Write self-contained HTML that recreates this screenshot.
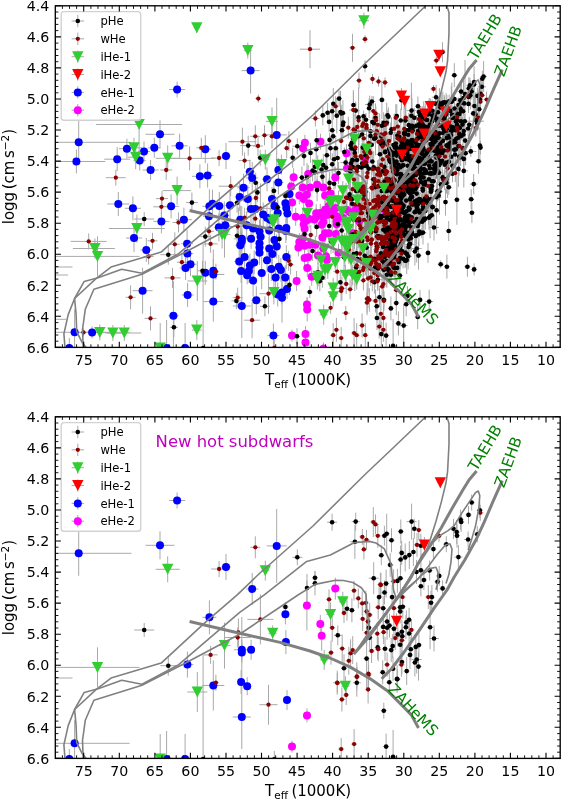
<!DOCTYPE html>
<html><head><meta charset="utf-8"><title>Teff-logg diagram</title>
<style>html,body{margin:0;padding:0;background:#fff;width:561px;height:799px;overflow:hidden}svg{display:block}</style></head>
<body>
<svg width="561" height="799" viewBox="0 0 561 799" font-family="'DejaVu Sans', 'Liberation Sans', sans-serif">
<defs><clipPath id="c0"><rect x="55.3" y="5.8" width="504.90000000000003" height="341.59999999999997"/></clipPath><clipPath id="c1"><rect x="55.3" y="416.8" width="504.90000000000003" height="341.59999999999997"/></clipPath></defs>
<rect width="561" height="799" fill="#fff"/>
<g clip-path="url(#c0)">
<path d="M462.8 140.6H467.6M465.2 133.7V147.5M408.2 188.8H414.3M411.2 182.3V195.3M399.5 207.7H403.9M401.7 196.1V219.4M413.2 221.2H421.5M417.3 205.9V236.4M388.1 214.1H395.7M391.9 206.5V221.8M427.1 111.8H431.2M429.2 98V125.7M436.4 133.4H442.8M439.6 128.2V138.6M408.8 146.6H414.3M411.5 142.2V150.9M466.7 88.3H471M468.8 77.2V99.4M409.3 126.4H414.7M412 112.9V140M418 178.3H422.9M420.5 167.1V189.5M433.5 138.3H438M435.8 129.4V147.2M418.4 124.3H426.8M422.6 106.3V142.3M396.6 224.2H400.6M398.6 211.8V236.5M445.5 101.4H452.9M449.2 94.7V108.1M392.8 241.7H398M395.4 222.1V261.2M414.7 159.8H419.1M416.9 145V174.6M451.2 142.2H459.1M455.2 130V154.4M394.5 197.9H408.3M401.4 182.1V213.8M399.1 243.6H403.1M401.1 232.1V255.2M400 156.5H406.3M403.1 150.8V162.2M389.1 200.5H394.3M391.7 195.4V205.6M386.4 238.5H393.5M390 221.7V255.4M426.7 165.6H431.4M429.1 157.5V173.7M401.2 226.7H409M405.1 220.4V233.1M387.4 255.8H391.4M389.4 240.3V271.3M402.3 158.1H413.1M407.7 150.1V166.1M419.7 133.6H424.9M422.3 128.2V139M417.5 170.1H422.7M420.1 158.6V181.6M465.1 151.4H476.5M470.8 145.8V156.9M428.7 173.1H433.2M430.9 161.8V184.4M390.9 199.9H397.5M394.2 187.2V212.7M402.6 220.8H411.2M406.9 209.5V232.1M432.3 103.7H438.4M435.4 94V113.4M378.8 253.4H383M380.9 247.8V259M390.4 264.7H396.2M393.3 258.1V271.2M401.4 138.6H406.7M404.1 130.2V146.9M441.8 122.9H454.9M448.4 101.7V144.2M403.3 219.1H409.2M406.3 213.6V224.6M421.9 210.1H427.9M424.9 200.5V219.6M434.1 112.3H441.6M437.9 103.6V121M396.3 149.6H401.4M398.8 140.9V158.3M387.1 245.3H391.8M389.5 234.8V255.9M391.3 165.2H395.9M393.6 151V179.4M461 98H466M463.5 80.4V115.6M433.9 118.5H439.1M436.5 106.6V130.5M401.8 176H406.5M404.2 169.6V182.4M431.9 97.2H440.2M436.1 84.9V109.5M414.6 148.1H418.6M416.6 144.1V152.1M430.2 115.6H434.2M432.2 107.3V123.8M380.4 263.8H388.3M384.4 239.3V288.2M410.1 197H414.1M412.1 188.8V205.2M389.8 212.7H396.4M393.1 198.1V227.2M405.8 187.4H411.8M408.8 167.5V207.3M459.5 170.9H468M463.8 154.2V187.6M454.7 128.5H459M456.8 116.9V140.1M392.5 210.7H397.8M395.2 199.4V221.9M410.8 158.8H416.3M413.5 146.3V171.2M415.1 160.1H428.5M421.8 155.8V164.5M403.4 150.9H408.5M406 141V160.8M394.6 239H399.3M397 234.6V243.5M394.3 227.2H399.7M397 218V236.5M431.9 173.1H436.2M434.1 167.4V178.8M409.7 177H415.8M412.7 150.6V203.3M404.1 256.2H412.1M408.1 242.9V269.5M469.5 121.2H484M476.8 115.9V126.5M422.5 200.5H429.9M426.2 194.2V206.9M421.3 163.7H427.9M424.6 152.7V174.7M438.5 104.8H444.8M441.7 92.8V116.8M405.6 125.1H411.9M408.8 112.9V137.4M422.3 156H426.3M424.3 145.8V166.1M405.2 233.9H412.8M409 219.9V248M422.2 119.2H428.5M425.3 103.3V135.2M409.7 126.7H417.7M413.7 112.9V140.6M427.9 168.2H431.9M429.9 159.5V176.9M477.6 145.5H482.3M479.9 127.4V163.6M425.7 204.2H431.2M428.5 183.6V224.7M407.2 161.8H414.5M410.9 152.1V171.4M442.6 113.9H450M446.3 109.5V118.3M417.2 199H421.2M419.2 192.1V205.8M436.8 184.4H445.1M441 178.1V190.8M386 252.2H391M388.5 242V262.4M420.4 140.6H427.9M424.2 135.4V145.8M403.8 151.2H407.8M405.8 143.7V158.8M397.6 186.6H408.2M402.9 174.4V198.8M396.7 136.9H402.2M399.4 125.2V148.6M416.9 233H426.5M421.7 228.2V237.9M391.5 185.7H395.5M393.5 178.7V192.8M446.8 147.9H452.2M449.5 143.5V152.3M387.9 154.1H392.8M390.3 144.4V163.8M414.1 184.6H419.3M416.7 177.2V192.1M460.6 158.9H467M463.8 147.1V170.6M461.1 94.1H468.9M465 60V128.2M406.7 182.2H412.7M409.7 172.5V191.9M447.4 173.8H457.6M452.5 165.3V182.3M395.8 262H401.8M398.8 246.3V277.7M415.6 145.1H421.1M418.4 130.8V159.4M390.8 237H396.1M393.4 230.1V243.8M407.9 196.2H414.9M411.4 184.1V208.3M399.8 183.7H403.8M401.8 166.1V201.3M475 161.3H482M478.5 148.8V173.7M406.9 225.6H411.1M409 215.8V235.5M431.7 151H438.5M435.1 144.3V157.6M384.4 190.6H390.8M387.6 184.5V196.7M434.1 146.8H440.4M437.2 138V155.5M392.1 185.9H396.1M394.1 170.8V201.1M403.2 230.1H407.2M405.2 222.3V237.9M392.3 155.6H401M396.6 144.9V166.4M415.6 231.5H423.1M419.3 226V236.9M399.7 258.7H406.6M403.1 249.2V268.3M415.2 119.4H425.2M420.2 107.2V131.5M442.4 126.6H449.3M445.8 120.6V132.6M436.3 163.1H441.2M438.7 156.1V170M397.1 245.9H403.8M400.4 236.1V255.6M447.2 126.6H454.3M450.7 112.3V141M443.4 106.9H450.3M446.9 95V118.7M422 130.9H429.3M425.7 118.9V142.9M412.5 235.3H420.3M416.4 226.4V244.1M395.9 151.7H400.3M398.1 144.8V158.6M428.5 181.3H435.3M431.9 170V192.6M404.6 215.7H413M408.8 210.4V221M420.1 221.8H424.1M422.1 207.9V235.6M425.1 120H429.1M427.1 112.9V127.2M411.5 201.4H418.1M414.8 189.3V213.5M416.6 200.9H426.4M421.5 193.7V208M410.5 183H419.9M415.2 171.3V194.7M432 169.6H437.2M434.6 164V175.2M395.3 249.9H403.7M399.5 244.2V255.7M397.9 165.5H406.9M402.4 148.8V182.2M391.5 226.5H397.9M394.7 215.1V237.9M432.7 166.7H438.7M435.7 159.7V173.8M434.3 191.2H440.7M437.5 180.9V201.5M399.3 209.5H403.6M401.4 201.1V217.9M443.2 162.6H449.3M446.2 145.9V179.4M455.3 105H461.7M458.5 97.7V112.2M394.4 135.6H400.4M397.4 129.6V141.6M393.1 189.2H401.2M397.2 175.6V202.8M396 216.7H401.7M398.8 168.2V265.3M392.6 163.2H397.4M395 150.8V175.6M434.7 138.2H443.1M438.9 127.7V148.8M422.4 182.9H427.2M424.8 170.8V195M387.6 244.9H393.6M390.6 235.3V254.4M396 215.1H402.1M399 210.5V219.7M433.6 155.7H438.1M435.8 150.7V160.7M421.2 149.8H426.2M423.7 143.1V156.6M397.7 205.9H404.2M401 187.1V224.6M470.8 84.4H477.4M474.1 66V102.8M388.9 218.5H398.5M393.7 212.2V224.8M398.3 225.3H407.2M402.7 195.7V254.8M387.6 199.9H397.9M392.7 193.2V206.6M388.2 184.7H396.4M392.3 177V192.4M412.2 181.2H418.9M415.5 176.6V185.9M436.5 195.6H440.9M438.7 191V200.2M412.2 164.8H416.3M414.2 155.4V174.2M411.5 184.6H419.2M415.3 179.5V189.7M421.2 141.3H427.8M424.5 118.1V164.4M394.5 172.8H398.5M396.5 163.3V182.2M407.4 222H413.5M410.4 214V230M387.6 255.8H392.7M390.2 241.6V270M447.5 135H454.6M451 127.1V142.9M448.6 156.8H453.8M451.2 146.5V167.2M413.7 172.4H419.4M416.6 165.3V179.5M397.9 184.4H405M401.4 177.1V191.6M435.4 121.1H439.7M437.5 98.8V143.3M410.9 221.9H417.7M414.3 215.4V228.4M449 101.4H454.6M451.8 82.7V120.2M386.7 263.3H393.6M390.1 253.6V273.1M385.3 243H389.9M387.6 233.6V252.4M376.6 154.3H383.4M380 147.2V161.3M435.4 125.4H442.6M439 116.8V134M435 135.6H439.2M437.1 125.8V145.3M466.1 124.8H472.4M469.3 116.8V132.8M381.6 222.6H386.2M383.9 217.3V227.8M379.6 254.8H388.5M384.1 243.3V266.3M431.3 197.3H441.6M436.4 182.2V212.4M431.5 141.4H436.5M434 130.4V152.5M430.5 168.7H437.5M434 153.4V183.9M408.4 181.1H417.9M413.2 167.5V194.7M418.2 163.8H425.1M421.7 158.8V168.9M390.3 186.4H397.6M393.9 165.3V207.4M420.1 203.1H424.3M422.2 198.5V207.7M408.7 158.5H417.4M413.1 152.5V164.5M395.4 248.5H399.4M397.4 237V260M478.5 147.6H482.5M480.5 140.7V154.5M394.5 211.1H398.5M396.5 199.5V222.8M441.5 179.7H445.6M443.5 173.6V185.8M422.2 173H427.4M424.8 164.7V181.2M425 151.5H430.5M427.7 142.8V160.2M435.2 158.2H440.2M437.7 145.7V170.7M443.5 202.1H447.6M445.5 188.5V215.6M394.8 215.2H399M396.9 205.9V224.5M399 178H404.6M401.8 172.2V183.8M395.2 235.6H401M398.1 222.5V248.8M422.4 172H428M425.2 166.2V177.9M392.1 220.2H401M396.6 211.2V229.2M436.8 161.9H442M439.4 146.9V176.9M396.7 149.3H402.5M399.6 133.7V165M408.7 163.4H416.1M412.4 138.7V188.1M477.9 93.9H483.3M480.6 79.9V107.9M391.2 143.6H400.3M395.8 133.5V153.8M390.7 244.7H397.9M394.3 223.9V265.4M420.9 184.6H429.7M425.3 178.8V190.4M391.7 163.5H398.1M394.9 142.5V184.5M452.8 138.7H459.5M456.2 130.6V146.9M400.8 191.6H405.8M403.3 185.3V197.8M426.1 217.8H431.8M429 206.1V229.6M443.5 129.2H448.7M446.1 124.5V133.9M425.8 133.8H429.8M427.8 129.6V137.9M445.7 149.2H454.4M450 139.3V159.2M406.5 180.4H412.6M409.6 170.8V190M412.2 189.3H418.3M415.3 178.5V200.2M391.1 215.1H399.2M395.1 197.2V232.9M398.3 157.5H403.2M400.8 147.8V167.2M426.6 144H434.5M430.6 122.6V165.4M385.1 263.7H390.9M388 247.3V280.1M441.7 150.5H446.6M444.1 135.4V165.6M401.9 194.6H406.4M404.2 181.4V207.8M423.6 113.9H433.2M428.4 100.3V127.5M397.5 182.2H401.5M399.5 164.5V200M390.8 152.8H397.5M394.1 142.3V163.4M386.3 149.1H391.7M389 144V154.2M400 188.5H406.2M403.1 167.8V209.2M437.5 149.6H445M441.2 144V155.3M396.1 249.3H401.2M398.7 242.6V255.9M398.1 151.4H403.4M400.8 136.8V165.9M398.5 185.5H407.4M402.9 177.6V193.4M388.5 155.4H396.1M392.3 147.3V163.6M383.2 231.8H387.8M385.5 226.1V237.4M426.9 179.2H430.9M428.9 164.4V194.1M447.2 131.3H454.8M451 119.5V143.1M386.1 242.8H393M389.5 236V249.6M408.4 204.3H416.9M412.6 199.5V209.1M415 159.7H423.5M419.2 149.9V169.5M434.5 166.8H438.5M436.5 156.6V177M438.8 115.5H447M442.9 107.9V123M408.9 144.5H414.5M411.7 133.4V155.5M419.9 117.2H427.2M423.5 111.3V123M453.7 149.4H458M455.8 126.3V172.6M416.8 172.9H422.4M419.6 158.6V187.2M408.1 165.9H415.3M411.7 155.1V176.8M453.9 121.5H457.9M455.9 106V137M451 108.5H458.1M454.6 98.5V118.6M457.8 91.6H464.4M461.1 82.2V101M444.9 144.7H452.6M448.7 134.4V155M422.3 154.7H433.4M427.9 148.2V161.1M410.4 164.7H417.6M414 157.5V171.9M437.8 143.4H442.4M440.1 135.4V151.4M381.2 269.6H385.8M383.5 263.2V276M415.4 124.6H422.3M418.9 111.8V137.4M447.6 135.6H451.6M449.6 128V143.2M418.8 134.6H426.4M422.6 121.1V148.1M430.2 207.3H434.9M432.6 199.9V214.7M406.1 178.1H411.1M408.6 169.5V186.8M408.6 203.8H414.6M411.6 196.9V210.7M463.8 96.9H473.5M468.7 89V104.7M385.9 250H391.4M388.6 229.5V270.6M476.9 109.2H481.4M479.2 96.5V121.8M387.2 248.9H399.4M393.3 241V256.8M433.8 121.2H441.3M437.5 113.3V129.1M403.8 143.9H408.6M406.2 132.1V155.8M440.2 102.9H445.3M442.8 91.6V114.2M458.1 157.2H463.3M460.7 148.4V166M390.7 201.3H396.9M393.8 189.1V213.5M456.4 121.2H465.7M461 116.4V126.1M397.8 203.4H405M401.4 186.2V220.5M459.4 102.4H463.4M461.4 80V124.8M416.6 145.4H423.9M420.2 141.4V149.4M457.9 135.8H464.9M461.4 131.4V140.2M409.8 130.4H415.7M412.7 116.7V144.1M452.9 127H459.9M456.4 114.5V139.4M461.5 121.3H468.1M464.8 114.1V128.6M383.3 179.2H394.2M388.7 172V186.4M384.4 202.2H391.9M388.1 196.2V208.2M467.3 95.3H473.4M470.3 81V109.5M384 228.3H389M386.5 207.9V248.7M431.2 150.1H435.4M433.3 138.7V161.5M394.4 229.1H401.5M398 223.4V234.9M390.6 242H394.6M392.6 235.8V248.2M424.3 197.9H429.6M427 190.9V204.9M378.5 247H387.8M383.1 224.4V269.7M429.5 133H434.8M432.1 112.5V153.5M400.9 235.3H408.5M404.7 220.5V250.1M396.7 186.2H401.9M399.3 177.5V195M386 236.3H394.8M390.4 232.3V240.3M404.7 191.6H411.4M408.1 183.1V200M413.8 159.8H417.8M415.8 146.3V173.3M442.7 164.7H446.9M444.8 154.7V174.7M409.3 233.9H415.4M412.4 222.6V245.2M420 188.5H425.5M422.7 178.7V198.2M432.4 125.5H441.9M437.1 107.9V143.1M460.4 124.6H464.6M462.5 116.8V132.5M404 200.6H408.4M406.2 192.3V208.8M433.1 164.4H438.7M435.9 155.2V173.5M380.8 215H389.5M385.1 205.7V224.3M443.1 182.9H450M446.5 172.2V193.6M417.4 115.3H422.5M420 105.6V125.1M414.1 152.3H418.1M416.1 148V156.6M441.9 102.5H450.3M446.1 93.1V111.9M419.5 153.2H423.5M421.5 143.9V162.4M423.3 127H429.9M426.6 119V135M409.2 192H417.3M413.2 183.9V200.2M399.9 189.9H404M402 183.7V196.2M389.9 171.7H396.9M393.4 163.4V179.9M421.8 218.5H428.5M425.1 214.5V222.5M433.6 163.3H439.5M436.5 150.8V175.9M422.4 211H428.2M425.3 192.4V229.7M412 145H421.1M416.5 131.6V158.4M403.3 253.9H410.4M406.8 245.3V262.4M394.1 187.6H400.8M397.4 176.8V198.5M386.7 182.5H393.7M390.2 159.2V205.9M419.9 147.5H426.1M423 137.4V157.5M375.8 219.4H383.6M379.7 209.2V229.6M429.4 215.2H434.3M431.8 203.7V226.7M402.1 220.7H409.6M405.9 214.8V226.6M406.5 188.3H414M410.3 182.8V193.7M439.8 151.5H444.1M442 147.4V155.5M428.8 161.5H434.6M431.7 140.1V183M439.1 140.5H445.6M442.4 133.5V147.5M456.9 114H462M459.4 104.6V123.4M422.1 172.8H430.3M426.2 159.8V185.8M433.1 142.1H438.9M436 120.4V163.8M402.2 217.9H411.7M407 195.7V240.1M442.9 114.2H447.7M445.3 104.1V124.2M398.6 205.1H404.7M401.6 197.5V212.8M397.2 174.1H404.2M400.7 170.1V178.1M421.9 198.6H427.9M424.9 191.6V205.7M416.3 167.4H424.2M420.3 158.1V176.7M385.2 228.1H389.2M387.2 219V237.2M412.4 150H418.9M415.7 134.9V165.1M400.5 193H405.6M403 189V197M418.2 127.7H422.2M420.2 121.9V133.4M455.3 120.2H459.3M457.3 114.7V125.8M430.6 115.8H436.7M433.6 110.9V120.7M445.3 146.3H449.3M447.3 135.9V156.7M414.6 138.5H420.3M417.5 134.5V142.5M448.8 165.8H456M452.4 156.1V175.5M401.4 213.3H407.6M404.5 203.6V222.9M397.9 211.7H404.8M401.4 203.4V220M414.2 205.7H419.2M416.7 192V219.3M382.2 248.2H391.6M386.9 234.4V261.9M387.1 220.1H394.4M390.8 205.1V235.1M460.8 131.1H466.9M463.8 122.4V139.8M437.1 143.7H443.2M440.1 139.4V148M392.8 147.8H397.4M395.1 143.8V151.8M409.8 182.7H419.6M414.7 174V191.3M384.7 268.6H390.3M387.5 263V274.2M453.6 114.1H461.8M457.7 103.7V124.5M408.3 231.8H415.1M411.7 220.2V243.4M390.1 250.9H396.9M393.5 242.3V259.5M433.7 157.4H439M436.3 141.1V173.6M455.2 113.8H459.2M457.2 100.8V126.9M384.1 206.9H390.9M387.5 193.1V220.7M412 148.8H420.9M416.4 139.4V158.1M439.7 152.9H445M442.3 144.7V161M392.1 180.3H396.8M394.5 168.4V192.2M403.3 260.6H408.4M405.9 253.8V267.4M398 178.9H405.6M401.8 166.3V191.6M406 177.2H412M409 171.8V182.7M411.7 174.9H420.3M416 167.8V182M426.5 199.4H434.2M430.3 181.5V217.3M417.4 159.1H427M422.2 145V173.2M389.2 247.6H394.1M391.6 236.9V258.3M407.1 146.1H412.3M409.7 136.8V155.3M387.5 161.1H392.5M390 143.2V178.9M407 126.7H413.3M410.2 109.8V143.6M399.9 205.6H407.3M403.6 168.2V243M435.4 102.5H441.9M438.7 97V108M403.2 159.3H409.1M406.1 146.7V171.8M415.7 137.7H421.9M418.8 128.8V146.5M413.2 200.8H422M417.6 196.1V205.6M387.3 228.8H392.8M390 211.9V245.7M408.4 140.1H415.4M411.9 134.3V145.9M402.1 252.6H408.3M405.2 245.4V259.8M419.2 173.5H424.8M422 165.2V181.9M391 257.2H397M394 243.6V270.9M406.1 239.4H410.5M408.3 213.7V265M412.3 187.3H420.5M416.4 173.8V200.7M400.5 230.4H405M402.7 203.2V257.5M391.1 153.6H397.5M394.3 147.3V159.9M401.7 134.2H407.3M404.5 119.7V148.8M456.1 127.1H460.3M458.2 110.8V143.3M413.2 204.4H422.4M417.8 179.7V229.1M396.9 275.5H402.8M399.9 263.3V287.6M436.1 151.3H442.6M439.4 132.4V170.2M398.4 146.2H403.4M400.9 135.5V156.8M409.8 147.5H417.4M413.6 142.8V152.3M393.3 204.4H399.1M396.2 197V211.8M408.6 217.2H414.9M411.7 210.9V223.5M390.1 221.1H397.5M393.8 202.8V239.3M387.6 274.7H394.3M390.9 264.8V284.6M380 229.8H386.7M383.3 219.1V240.5M406.9 217.7H410.9M408.9 211V224.4M457.8 127.9H462M459.9 119.5V136.3M391.1 161.9H395.9M393.5 150.8V173.1M456.4 133.9H462.3M459.3 122.9V144.9M438.9 125.7H442.9M440.9 119.6V131.9M456.5 100.3H464.2M460.4 83.8V116.9M412 157.4H422.6M417.3 146.5V168.3M391.4 267.5H395.8M393.6 258.6V276.4M400.6 133.7H409.5M405 122.9V144.6M402.1 133H406.1M404.1 106.3V159.7M392.8 174.3H401.2M397 164.1V184.5M406.1 134.7H410.2M408.2 128.7V140.7M470.2 106H478.7M474.4 95.7V116.2M398.2 206.8H403.7M401 198.4V215.2M386.9 159.5H391.8M389.3 150.8V168.1M450.8 127.3H454.8M452.8 117.7V136.9M419.8 206.7H426.6M423.2 199.4V214M412.4 193.6H420.9M416.7 182.7V204.6M456.8 156.8H461.4M459.1 137.9V175.7M425.9 128.1H430.7M428.3 121.1V135M447.6 137.5H451.6M449.6 126.9V148.1M396.2 152.1H401.2M398.7 145.4V158.8M445.7 187.2H451.9M448.8 179.6V194.8M442 130.7H446.6M444.3 112.4V148.9M406.8 160H411.4M409.1 145.9V174.1M422.5 132.9H426.5M424.5 125V140.8M413.7 200.4H420.3M417 182.7V218.2M385.6 227.5H391.3M388.5 215.6V239.5M447.7 101.8H454.8M451.3 86.3V117.4M421.6 135.8H426.9M424.2 116.5V155.1M398.3 151.1H404.4M401.4 135.3V166.8M413.4 211.7H418M415.7 195.1V228.3M427.1 186.3H434.8M430.9 164.7V208M384.7 262.3H390.1M387.4 242.5V282.1M429.3 134.2H436.4M432.8 116.6V151.8M419.9 218.6H425.2M422.6 209V228.2M412.7 185.7H417.2M415 179.7V191.8M428.4 119H437.3M432.8 105.3V132.6M395.6 164.7H401.5M398.5 159.6V169.8M399.7 146.7H407.5M403.6 141.9V151.4M386.2 261.9H394.4M390.3 251.1V272.7M405.5 130H412.1M408.8 117.3V142.6M435.2 103.8H443.7M439.4 88.1V119.4M394.6 189.8H401.4M398 185.8V193.8M460.6 111.2H465.7M463.1 99.3V123M439.7 118.5H446.9M443.3 114.1V122.8M379.8 209.1H386.4M383.1 202.8V215.5M449.1 141H458.1M453.6 116.9V165.2M432.7 115H436.7M434.7 110.4V119.6M424.5 201.3H428.5M426.5 191.3V211.3M438.7 133H447.7M443.2 111.2V154.9M394.1 202.4H398.1M396.1 189.5V215.4M428 173.7H435.1M431.6 165.5V181.8M386.1 269.9H391.2M388.7 265.9V273.9M437.4 154.1H441.4M439.4 134.7V173.4M440.7 117.6H445.5M443.1 107.5V127.7M416.7 134.1H420.7M418.7 124.1V144M420.3 128.6H427.9M424.1 111V146.3M394.2 250.5H401.3M397.7 241.4V259.5M421.4 113.2H425.9M423.7 101.3V125.1M386.7 151H393.8M390.2 140.6V161.3M417.3 122.5H423.9M420.6 116.4V128.7M396.4 178.4H404.6M400.5 165.5V191.3M398.5 188.7H407.3M402.9 175V202.4M407.2 208.6H411.7M409.5 200.7V216.5M420.5 183.9H426.4M423.5 177V190.9M419.2 153.5H425.5M422.4 145.9V161.1M433.5 132H437.5M435.5 126.3V137.8M393.6 236.5H401.5M397.6 230.6V242.5M390.6 166.3H395.3M393 160.6V171.9M397.7 194.9H403.1M400.4 190.1V199.7M392.1 254.8H396.9M394.5 243.8V265.8M390.5 226.1H396.2M393.4 203.3V249M450.5 99H458.2M454.4 92.2V105.9M480.1 76.5H487M483.6 61.1V91.9M379 209.3H385.3M382.1 195.2V223.5M416.3 148.1H422M419.1 143.4V152.8M442.9 137.9H450.8M446.8 129.3V146.5M413.8 207.5H420.1M417 200.1V215M408.3 168.7H416.1M412.2 156V181.4M401.3 235.6H407.6M404.5 227.1V244.2M411.4 169.7H419.9M415.7 159.7V179.6M390.2 217.5H397.1M393.7 211.5V223.5M400.3 207.1H406M403.2 191.9V222.2M404.6 175.1H411M407.8 161.4V188.9M405.5 150.4H409.5M407.5 137V163.9M412.9 223.4H424M418.4 213.6V233.2M388 251.6H394.9M391.4 235.1V268.1M405.5 176H411M408.2 164V187.9M448.1 142.6H453.4M450.7 131.4V153.8M387.9 184.6H395.2M391.6 177.8V191.5M405.2 142H414M409.6 130V153.9M449.6 128.9H454.3M451.9 121.1V136.7M420.7 163.2H426.9M423.8 151.2V175.1M397 208.2H404M400.5 198.9V217.4M399.5 160.2H404.6M402 155.9V164.4M428.8 188.7H433.1M430.9 171.4V206.1M421.5 202.4H426.5M424 189V215.8M379.6 240.5H385.3M382.4 230V251M423.2 133.6H427.2M425.2 122.6V144.6M441 116.4H448.5M444.7 110.7V122.1M418.9 190.6H426.8M422.8 178.7V202.5M470.3 113.4H476.4M473.3 93.4V133.4M397.9 248.9H401.9M399.9 235.2V262.6M434.6 210.3H438.6M436.6 186.6V233.9M392.5 234.5H396.5M394.5 226.6V242.3M416.2 157.7H422.9M419.6 142.2V173.3M395.5 149H403.6M399.6 135V163.1M447 143.7H451.6M449.3 130.9V156.6M388.6 206.8H393.1M390.9 196.6V216.9M422.4 131.4H429M425.7 120.8V141.9M471 114.4H480.3M475.6 92.1V136.7M425.3 134.3H429.9M427.6 121.6V147M391.6 227.6H397M394.3 213.9V241.4M396.6 186.7H404.9M400.7 169.5V203.9M410.3 202.5H417.3M413.8 189.7V215.3M411.4 171.8H419.6M415.5 165.1V178.5M406 199.4H414M410 167.3V231.6M404 244.5H414.4M409.2 227.2V261.9M433.7 152.7H441M437.3 140.9V164.5M435.4 164.7H440.7M438 143.2V186.2M384.2 215.8H390.9M387.5 203.1V228.5M431.4 181.2H435.7M433.5 170.6V191.8M421.3 126H426.4M423.9 119.3V132.6M402.5 220H406.9M404.7 211.3V228.6M419.1 182H423.1M421.1 175.6V188.4M398.8 176.7H405.5M402.2 172.6V180.9M389 206.5H397.1M393 195.1V218M415.1 130.9H421.6M418.3 120.6V141.1M434.2 137.6H438.2M436.2 123.4V151.7M400.4 157H405.2M402.8 150.8V163.3M463 153.3H468.2M465.6 141.3V165.2M402.4 184H413.8M408.1 176.8V191.2M385 230.6H392.5M388.7 217.7V243.5M433.7 134.7H442.3M438 120.4V148.9M409.2 178.2H414.4M411.8 170.9V185.5M389.7 167.2H396.4M393 162.2V172.2M436.2 161.1H442.9M439.6 153.4V168.8M406.1 209.8H412.2M409.1 201.6V218.1M406.1 247H411.1M408.6 240.2V253.9M387.9 160.4H391.9M389.9 151.2V169.7M422.5 170.3H429M425.7 161.3V179.3M398.9 147.9H403.7M401.3 142.5V153.4M442.5 109.5H446.5M444.5 96.5V122.5M412.4 210.4H420.6M416.5 191V229.8M402.4 217.6H407.6M405 199.5V235.7M401.8 178.9H409.3M405.6 172.9V184.8M473 120.1H478.7M475.8 112.2V127.9M450.1 142.5H456M453.1 133.9V151.2M398.2 182.7H402.2M400.2 178.7V186.7M405.9 233H410.5M408.2 218.5V247.5M425.4 114.5H429.9M427.6 104.6V124.4M401.9 226.7H410.1M406 218.7V234.6M391.6 221.2H403.7M397.7 212V230.3M444.3 161.8H453.5M448.9 149V174.6M413.2 163H421.9M417.6 157.3V168.8M443.1 179.1H450.2M446.6 167V191.1M428.8 138.8H432.8M430.8 126.7V150.8M428.6 145.5H434.3M431.4 137.7V153.3M398.3 154H403.6M401 142.6V165.3M407.2 140.5H415.7M411.5 131V150M393.4 241.7H397.8M395.6 225.8V257.6M425.3 134.7H438.4M431.8 128.2V141.1M444.2 145.2H449M446.6 132.8V157.6M409.1 197.2H413.1M411.1 179.5V214.8M413.6 160H424.6M419.1 149.6V170.5M402.3 146.4H414.5M408.4 136.8V156M433.3 172.3H437.3M435.3 163.6V181M387.1 162.3H394M390.6 152.3V172.3M414.8 147.4H422.3M418.6 135.5V159.3M387.9 217.2H397.1M392.5 197.7V236.7M427.4 150.1H435.9M431.6 138.4V161.8M389.4 152.6H394.5M391.9 146.7V158.4M428.5 140.7H437.4M433 128.6V152.9M416.8 200.9H422.1M419.4 194V207.7M383.4 261.1H390.2M386.8 249.2V273M390.5 154.2H397M393.8 141.5V166.9M399.3 156.5H405M402.1 150.6V162.4M430 110.8H435M432.5 102.8V118.8M400.6 233.8H405.5M403.1 223.2V244.4M442.5 129.2H449.5M446 120.3V138.2M392.7 245.2H397.3M395 234.4V256.1M432.3 165.3H436.3M434.3 158.2V172.5M410.2 183.3H414.6M412.4 177.1V189.5M386.6 247.1H394.2M390.4 238.1V256.2M387.5 242.1H391.8M389.6 233.8V250.4M388.6 256.5H398.8M393.7 239.5V273.6M428.8 206.7H436.2M432.5 200.2V213.3M382.9 249.1H391.5M387.2 237.6V260.7M409 140.6H416.8M412.9 125.3V155.9M419.5 202.1H425.2M422.3 191.1V213M384.2 253.4H392.3M388.2 241.6V265.2M410.9 149.9H417.8M414.3 136.6V163.2M390.3 186.5H396.2M393.2 177V196.1M390.4 166.1H395.3M392.9 151.3V181M401.8 188.6H411M406.4 177.5V199.7M460.5 148.4H465.4M463 135.3V161.6M458.5 136.3H462.5M460.5 122.5V150.1M392.6 230H398.6M395.6 223V237M418.1 199.2H422.1M420.1 191.7V206.7M387.4 228.4H394.7M391 213.4V243.4M441.7 119H447.2M444.4 106.4V131.5M403.9 147H410.2M407 138.7V155.2M432.3 147H436.8M434.6 126.3V167.7M394.4 226.9H399.9M397.2 222.5V231.2M418.6 136.9H424.4M421.5 123.1V150.7M396.3 219.2H404.8M400.6 210.7V227.7M444.3 129.1H449.2M446.7 120.9V137.2M387.2 256.2H395.1M391.2 250.3V262.2M407.7 236.8H412.2M410 230V243.6M419.6 143H426.3M423 132.6V153.5M411.5 142.2H419.5M415.5 122.9V161.4M451.5 149.8H457M454.3 144.4V155.2M414 125.8H419M416.5 115V136.6M411 204.5H415M413 183.6V225.4M397.9 192.2H402.8M400.4 186.6V197.9M399.7 208.3H403.7M401.7 199.2V217.5M392.4 220.6H401.2M396.8 209.9V231.4M413 219H420.6M416.8 208.8V229.1M410.8 175.1H416.6M413.7 169.9V180.3M399.9 212.4H407.2M403.5 201V223.7M425.7 161.3H432.1M428.9 154.2V168.4M416.3 160.2H421.7M419 149.8V170.5M389.8 215.2H398M393.9 207.1V223.3M399.6 226H406M402.8 214.7V237.3M402 260.8H408.1M405.1 253.6V267.9M385.9 219.5H391M388.5 214.6V224.5M418.4 202.9H427.4M422.9 190.9V214.8M400.8 165.2H405.9M403.4 158.2V172.2M436.4 119.8H440.4M438.4 109.2V130.3M420.1 220.3H427.7M423.9 210.7V229.9M426 149.9H433.5M429.8 142.1V157.7M383.2 187.8H387.7M385.5 172.9V202.7M397 258.6H403.2M400.1 252.6V264.6M452.7 130.1H457.7M455.2 123.4V136.8M436.4 191.5H442.7M439.5 168.3V214.7M393.6 161.5H399.2M396.4 152.7V170.3M382.3 228.6H388.6M385.5 216.1V241.1M448.4 114.8H455.9M452.2 107.1V122.4M390.8 213.2H395.5M393.1 198.7V227.7M380.6 269.4H388.6M384.6 262.4V276.3M413.6 162.3H419.3M416.5 150.1V174.4M450.8 128.2H454.8M452.8 116V140.5M425.7 149.6H434.4M430.1 144.2V154.9M397.5 249.2H402.2M399.9 231.7V266.6M420 209.3H425.1M422.6 200.8V217.7M410.9 185.8H416M413.5 177.4V194.2M389.1 159.8H395.8M392.5 149.3V170.3M400.8 225.1H406.2M403.5 218.8V231.3M388.3 253.4H392.4M390.4 248.3V258.4M386.9 236H391.7M389.3 229.6V242.4M409 176.5H414M411.5 165.9V187.2M446.3 110.9H454.3M450.3 103.6V118.3M406.2 207.6H411.4M408.8 191.4V223.7M402.8 152.5H407.2M405 143.9V161M386.6 180.6H391.4M389 171.4V189.8M417.1 212.4H422.4M419.7 204.3V220.5M397.5 174.2H403.6M400.6 161.3V187.2M403.7 180.5H408.1M405.9 173.8V187.2M388.7 191.6H394.2M391.4 168.9V214.3M437.7 163.3H443.1M440.4 151V175.5M429.4 189.5H433.4M431.4 175.4V203.6M415 210.1H421M418 194.4V225.8M397.1 152.8H405.1M401.1 130.9V174.6M386.3 206.5H396.8M391.5 199.5V213.6M437.8 107.4H442.7M440.3 95V119.8M424.8 152.8H428.9M426.8 147.5V158.1M430.3 143.2H435.5M432.9 131V155.4M414.3 148.8H418.5M416.4 134.9V162.7M403.6 176.2H409M406.3 169.4V182.9M456.4 168.9H460.4M458.4 151V186.9M406.4 233H411.6M409 217.1V248.9M393.1 209.2H397.1M395.1 203.9V214.5M440 160.9H444.2M442.1 144.9V177M426.1 133.7H433.6M429.8 127.4V140.1M409 192.4H413.3M411.2 185.9V198.9M448.2 130.7H455.5M451.8 119.6V141.8M406.5 219.4H412.1M409.3 208.5V230.3M421.6 177.5H425.6M423.6 169.4V185.6M449.3 117.8H454.9M452.1 105.4V130.1M389.8 217H396.8M393.3 208.6V225.4M434.1 150.1H440.7M437.4 142.4V157.8M396.7 177.2H404.8M400.7 161.6V192.8M392.3 167.7H399.9M396.1 160.5V174.9M411.7 212.2H417.5M414.6 207V217.5M390.3 145.1H396.6M393.5 133.9V156.3M459.3 103.4H468.9M464.1 94.3V112.5M423.9 140.2H427.9M425.9 119.8V160.6M390.1 234H394.1M392.1 228.5V239.6M438.2 128.7H448.5M443.4 101.1V156.2M466.4 85.3H473.4M469.9 77.8V92.8M401.9 223.9H407.5M404.7 207.8V240M396 189.7H401M398.5 183.3V196M414.4 205.4H418.4M416.4 198.4V212.4M391.5 268.1H398M394.8 259.2V277M406.7 148.7H415.1M410.9 137.7V159.6M401.3 181.9H408.6M405 154.4V209.4M393.8 203.1H400.1M397 188.2V218.1M417 151.4H422M419.5 124.1V178.6M441.2 102.4H447.2M444.2 94.9V109.9M407.3 125.8H416.6M412 98.3V153.3M398.4 179.8H402.5M400.5 172.2V187.5M380.9 244.6H386.3M383.6 238.3V251M453.5 127.7H460.2M456.8 116.9V138.6M434.8 172.7H442.8M438.8 162.5V182.9M452.8 154.5H457.3M455.1 146.3V162.7M414.5 225.9H420.9M417.7 215.8V236M393.8 202.8H406.7M400.2 187V218.6M426.4 124.5H433.5M429.9 116.4V132.6M422.3 181.7H428.1M425.2 174.3V189.2M408.8 179.6H412.8M410.8 171.7V187.6M421.1 140.4H428.8M425 129.7V151M461 134.5H465.8M463.4 126.9V142.2M380.8 152.3H389.5M385.1 137.8V166.9M440.4 140.8H445.5M442.9 135.5V146.2M420.3 163.3H429.7M425 154.2V172.5M394.7 202.7H399.7M397.2 195.6V209.7M430.1 121.3H434.1M432.1 99.5V143.1M455.5 137.7H461M458.2 126.5V148.9M402.2 177.6H409.2M405.7 169.3V186M413.8 168.6H417.8M415.8 156.3V180.9M477.5 86.8H486.1M481.8 77.5V96M417 150H426.9M422 141.3V158.7M387.2 215.2H394.4M390.8 208.3V222.1M439.9 125.3H445.6M442.8 116.7V133.9M405 233.4H410.2M407.6 226.7V240.2M406.1 193H413.2M409.7 184.8V201.2M409.3 227.5H413.8M411.5 213.2V241.8M414.1 131.5H422.3M418.2 119.6V143.3M374.2 268.5H381.6M377.9 260.1V277M381.9 256.9H387.4M384.7 252V261.8M352 253.4H361.2M356.6 232.1V274.8M400.7 143.7H404.7M402.7 137.4V150.1M372 138.7H376.1M374.1 133.9V143.5M356.3 220.4H361.7M359 198.1V242.8M379.9 144.8H385.6M382.7 139.5V150.2M370.6 267.6H379.2M374.9 247.6V287.6M356.2 136.1H361.7M358.9 127.2V145M361.9 155.2H369M365.5 146V164.4M372.4 212H378M375.2 204.6V219.4M353.4 190.9H358.8M356.1 182.8V199M365.3 228.9H376.3M370.8 217.1V240.7M374 246.6H379.8M376.9 226.9V266.2M370.5 258.8H378.2M374.4 247.8V269.8M352.4 267.5H360M356.2 248.7V286.3M386.3 206.3H390.3M388.3 199.9V212.7M396.2 226.9H402.7M399.5 217.3V236.6M372.8 279.7H382.9M377.8 268.4V291M381.2 122.9H386M383.6 112.3V133.5M353.1 168.4H360.5M356.8 162.2V174.5M399.9 148.3H404.8M402.3 144.3V152.3M383 274.7H390.8M386.9 261.7V287.7M364.1 258.2H370.4M367.3 252V264.4M356.5 190.5H361.2M358.9 176.4V204.7M347.5 194.4H351.7M349.6 182.9V205.9M357 237H363.8M360.4 229.8V244.3M375.4 236.2H381.3M378.3 209.1V263.3M362.4 228.9H367.8M365.1 215.6V242.1M358.7 241.1H365.3M362 228.9V253.4M380 171.4H385.4M382.7 160.5V182.4M374.3 203.3H381.1M377.7 182.2V224.5M388.4 243.5H393.7M391.1 238.6V248.4M378.3 202.4H385M381.7 192.2V212.6M398 258H402.2M400.1 246.3V269.7M379.4 136.5H383.4M381.4 127.4V145.6M376.5 215.9H383.4M380 208.3V223.6M401.8 130H409.2M405.5 114.5V145.4M362.7 255.8H366.7M364.7 243.8V267.8M381.4 191.1H390.9M386.1 181.5V200.7M361 194.8H367.2M364.1 182.3V207.3M378.4 217.7H383.6M381 202.2V233.1M365.1 212.7H370.8M368 206.2V219.2M372.2 259.3H379.1M375.6 253.8V264.8M389.5 198.6H393.6M391.6 188.7V208.4M393.3 229.7H399.7M396.5 219.4V240M369.9 179.3H377.1M373.5 160.4V198.2M379.7 191H383.7M381.7 180V201.9M354 160H360M357 155.8V164.3M358.7 167.5H364.1M361.4 155.2V179.9M359.7 163.5H364.7M362.2 153.8V173.1M364.3 166.1H369.1M366.7 153.2V179M392.3 146.7H399.6M396 142.2V151.1M351.6 254H356M353.8 243.6V264.4M376.8 236.8H383.1M379.9 229.3V244.3M352.5 259H362.5M357.5 250.5V267.5M392 193.2H402.1M397.1 182.9V203.5M349.1 203.8H355.4M352.2 195.1V212.5M347.2 198.4H353.7M350.5 183.4V213.5M373.8 186H384M378.9 177.5V194.5M373.7 231.2H378M375.8 217.1V245.3M348.8 234.2H356M352.4 224.4V243.9M379.3 256.1H385.6M382.5 240.8V271.4M389.9 246.3H396.7M393.3 221.8V270.7M357.3 134.5H366.7M362 127.4V141.5M388.7 184.9H393.6M391.2 177.6V192.2M391.9 199.4H396.4M394.2 172.2V226.6M371.7 187.2H379.1M375.4 172.2V202.2M372.2 282.3H376.6M374.4 270.9V293.7M382.6 219.6H390.6M386.6 209.1V230.1M366.9 188.6H377.5M372.2 183.6V193.6M396.3 190.5H401.8M399.1 181.7V199.3M382.9 200.5H387.5M385.2 186.3V214.7M381.6 237.3H385.6M383.6 226.4V248.3M357.3 209H364.4M360.8 192.2V225.8M382.3 236H390.6M386.4 226.6V245.5M356.9 204.7H360.9M358.9 198.1V211.2M385.5 156.6H389.5M387.5 148.2V165.1M382.7 251.8H387.4M385.1 242.9V260.8M369.2 227.1H375.6M372.4 219.9V234.3M358 213.2H362.8M360.4 208V218.5M382.9 211.3H387.6M385.3 191.4V231.2M384.3 213.3H390.8M387.5 202.8V223.8M386 182.3H390M388 175.5V189M346.8 167.2H354.3M350.6 154.3V180M363 188.6H367M365 175.5V201.6M382.5 223.1H387.3M384.9 203.2V243M377 257.2H384.6M380.8 238.5V275.8M376.1 258.9H385M380.6 254.9V262.9M363.9 177H370.2M367 155.2V198.9M369 257.8H373M371 244.9V270.7M373.3 120.2H378.4M375.9 106.4V134M373.8 206.1H377.8M375.8 181.4V230.9M373.4 249.5H379.7M376.5 233.1V265.9M378.8 165H383.8M381.3 156.9V173.2M367.1 256.6H373.8M370.5 242V271.1M354.8 218.6H362.9M358.8 192.3V244.8M387.2 252.5H395M391.1 237.8V267.2M358.8 219.9H369.4M364.1 202.6V237.2M353.2 171.5H360.3M356.8 150.6V192.4M356.7 225.3H362.5M359.6 215V235.6M383.9 236.6H388.7M386.3 228.8V244.5M350.5 219.5H355.5M353 202.9V236M363.7 125H369.2M366.4 121V129M379.8 255.3H386.5M383.1 237.9V272.6M378 146.6H387.2M382.6 142.6V150.6M385 234.3H389.3M387.2 226.7V242M385.6 199.9H391.9M388.7 194.9V204.9M359.5 231.7H363.6M361.5 220.4V242.9M357.7 228.2H364.2M360.9 209.2V247.3M385.4 236.6H390.8M388.1 229.9V243.4M377.7 141.8H381.7M379.7 113.4V170.2M355.4 184.5H360.2M357.8 172.9V196.1M375.1 222.3H380.6M377.8 215.9V228.7M382.6 133.2H388.2M385.4 127V139.4M388.8 187.9H396.8M392.8 178V197.7M367 150.7H371M369 143.7V157.6M380.8 199.7H388.2M384.5 188.8V210.6M401.6 140H405.7M403.6 117.9V162.1M389.6 263.7H398.3M394 250V277.4M375.2 247.4H379.9M377.5 235.5V259.4M383 223.5H387.7M385.3 215.5V231.4M387.7 255.5H393.1M390.4 246V265M392.7 272.7H397.7M395.2 259V286.4M358.4 191.8H365.6M362 179.2V204.3M363.8 157.5H371M367.4 148.6V166.4M393.6 212.8H399.2M396.4 199.9V225.8M367.5 243.7H374.6M371 234.7V252.7M385.8 140.9H392.2M389 134.7V147.1M391.5 224.1H395.7M393.6 216V232.2M372.7 181.8H377.1M374.9 174.5V189M360.8 230H368M364.4 218.2V241.7M387.4 224.6H398M392.7 213.1V236M373 228.2H380M376.5 221.2V235.3M395.7 191.7H400.7M398.2 179.9V203.5M390.1 192.6H398.4M394.3 185.1V200.1M374.9 281.4H379.9M377.4 275.1V287.8M381.8 214H387.9M384.8 200.9V227.2M379.5 243.3H386.9M383.2 232V254.6M400.7 180.5H404.7M402.7 169.5V191.5M376.1 171.7H381.4M378.7 159.4V183.9M361.5 267.3H366.2M363.9 258.8V275.8M367.5 219.1H371.7M369.6 207.7V230.5M373.3 263.3H378.6M376 254.7V272M387.3 188.6H393.1M390.2 177.8V199.5M382.4 268.1H386.4M384.4 264.1V272.1M388.6 212.7H397.9M393.3 207.7V217.7M403.8 117.6H407.8M405.8 101V134.3M385.4 252.9H390.8M388.1 244.4V261.5M375.3 169.7H381.5M378.4 162V177.3M370.4 200.1H380.4M375.4 193.4V206.8M364.4 127.5H368.6M366.5 122.5V132.4M347.5 199H353M350.2 184.9V213.1M360.1 231.4H365.1M362.6 219.3V243.5M372 200.4H377.6M374.8 194.7V206M375.3 275.6H380.4M377.8 261.4V289.9M368.9 187.6H374.3M371.6 168.8V206.4M367.7 153H372.9M370.3 145.4V160.6M352 275.1H357.6M354.8 259.1V291.1M391.1 221.6H396.9M394 217.6V225.6M367.7 231.9H373M370.4 224.2V239.6M371.1 208H376M373.5 196.7V219.3M391.3 178.5H395.3M393.3 159.9V197.1M367 258.5H371.3M369.2 250.1V266.8M384.2 178.9H391.2M387.7 168.9V188.9M382.8 170.7H388.2M385.5 149.2V192.3M362.1 265.9H369M365.6 256.4V275.4M352.6 168.4H358.9M355.8 149.9V186.8M401.8 128.9H406.6M404.2 119.7V138.1M357.2 157.9H366.1M361.6 145.9V169.9M374.5 131.2H379.1M376.8 120.8V141.6M388.6 232.3H392.6M390.6 225.9V238.7M379 198.6H383.1M381.1 188.7V208.5M377.1 206.8H381.7M379.4 197.2V216.4M349.7 274.4H353.8M351.8 261.1V287.6M382.7 144.4H391.6M387.2 135.5V153.3M377.4 267.2H382.6M380 260.4V274.1M361 163.9H365.1M363.1 143.9V183.9M384.7 197.8H390.7M387.7 187.8V207.8M377.1 221.9H382.5M379.8 210V233.8M360.9 248.4H366.2M363.5 240.7V256.1M374.7 186.6H380.1M377.4 179.8V193.5M374.3 258.4H382.5M378.4 251V265.9M369.9 273H378.6M374.3 263.1V283M378.7 236.6H383.8M381.2 228.5V244.7M360 186.3H367.2M363.6 171.5V201M373.6 243.7H379M376.3 231.7V255.8M374 174.7H380.7M377.3 164.7V184.6M381.8 249.8H390.5M386.2 212.3V287.3M379.5 159.4H385.9M382.7 151.5V167.4M382.2 208.1H391.4M386.8 195.6V220.7M391.1 229.8H396M393.6 224V235.6M389.9 172.1H398.3M394.1 155.6V188.5M373.6 200.5H381.8M377.7 195.8V205.2M376.6 265.1H381.7M379.2 259V271.1M378.6 243.9H382.6M380.6 236.5V251.2M384.3 242.6H391.3M387.8 235V250.2M364.9 240.2H371M367.9 225.9V254.4M375.1 203.5H382.1M378.6 198V209M359.9 213.1H364M362 201.5V224.7M394.1 233.6H398.1M396.1 223.2V244M376.9 134.6H391.3M384.1 121.8V147.4M394.7 260H400.4M397.5 245.7V274.2M367.9 264.8H373.1M370.5 257.5V272.1M400.8 138.3H406.9M403.9 128.9V147.7M357.6 253.6H362.4M360 245.3V262M362.6 162.4H369.7M366.2 154.1V170.7M399.6 240.8H404.5M402 236.8V244.9M393.7 132.7H403.8M398.8 124.8V140.6M410.2 131.7H414.2M412.2 126.1V137.3M394.3 210.5H403M398.7 206.5V214.5M387.1 182.2H393.1M390.1 172.6V191.8M389.9 255.7H395M392.4 244.8V266.5M372.7 260.6H378.2M375.4 254.4V266.8M369 239.5H374.6M371.8 231.4V247.7M377.7 140.3H386.1M381.9 121.7V158.9M388.9 225.9H394.2M391.5 220.1V231.7M356.6 120.6H360.6M358.6 87.6V153.5M374.1 251.3H378.3M376.2 243.7V258.9M388.5 258.9H394.4M391.4 245.4V272.3M359.7 207.6H368.6M364.1 200.3V215M370.6 260H375.9M373.2 253.8V266.1M367.6 210.5H375.9M371.8 199.4V221.6M359.9 187.7H365.6M362.7 173.6V201.8M344 197.7H348.1M346 182.9V212.6M383.2 221.8H388.9M386 214.8V228.8M369.9 209.7H374.1M372 178.2V241.2M368.7 262.8H373.7M371.2 251.2V274.4M395.4 126.6H400.2M397.8 118.6V134.5M391.9 224.2H399.6M395.7 210.8V237.6M361.5 161.5H368.3M364.9 157.5V165.5M382.5 124.4H389M385.8 113.4V135.3M383 208.7H390.3M386.7 198.7V218.7M363 203.4H368.5M365.8 190.7V216.2M379 134.5H383.4M381.2 124.4V144.5M383.1 178.7H389.7M386.4 172.6V184.8M383.3 223H388.7M386 212.6V233.4M378 175.4H382.2M380.1 166V184.9M384.1 238.8H388.1M386.1 227.2V250.5M374.2 229.4H378.2M376.2 215V243.8M364.7 265.9H370M367.4 260.3V271.5M387.6 237.4H397.4M392.5 226.2V248.7M391.4 128.7H396.9M394.2 113.5V143.8M390.1 224.2H396.1M393.1 214.5V233.8M376.8 183.8H384.1M380.4 166.4V201.2M359 192.4H366M362.5 171.6V213.3M371.3 218H376.4M373.9 208.9V227.1M373.5 216.7H379.4M376.4 209.3V224.1M362.5 207.5H366.5M364.5 198.8V216.1M378.1 209H382.7M380.4 203.6V214.4M367.6 268.7H373.1M370.4 256.8V280.6M381.7 196.7H386.4M384 192.7V200.7M391.4 226.4H395.4M393.4 220.1V232.7M371.5 243.7H380.7M376.1 234.3V253M388.4 168.3H396.7M392.5 156.3V180.2M352.9 127H361.6M357.2 122.3V131.7M397 230.9H403.6M400.3 226.9V234.9M382.2 242.4H387M384.6 235.2V249.6M360.5 198.9H366.6M363.5 194V203.8M386 187.3H390.6M388.3 177.3V197.2M397.6 233.2H403.4M400.5 219.7V246.7M393.1 117.8H398.6M395.8 104.3V131.4M379.5 184.7H384.5M382 177.6V191.9M354 220.2H358M356 200.9V239.5M380.4 225.8H388.5M384.4 221.3V230.3M351.3 204.5H359.6M355.5 196V213M396.6 215.4H402.1M399.4 203.5V227.4M392.5 232H397.8M395.2 228V236M350.5 189.2H355M352.7 182.5V195.9M364.3 262.2H371.3M367.8 253.7V270.8M364.2 237.4H369.9M367.1 225.3V249.5M364.6 172.9H370.3M367.5 162V183.9M393.4 225.9H397.4M395.4 199.1V252.7M379.1 210.2H383.1M381.1 194V226.3M390 219.1H399.2M394.6 212.7V225.6M374 236.6H379.5M376.8 225.9V247.3M382 174.2H388.4M385.2 167.5V181M373.9 199.4H381.6M377.8 182.5V216.3M379.8 243.5H385.6M382.7 238.4V248.5M371.2 184.4H377.1M374.1 171.9V196.9M381.5 263.7H391.5M386.5 250.1V277.3M389.5 265H394.9M392.2 259V271M359.3 190.2H363.5M361.4 184.6V195.8M381 206.9H388M384.5 192V221.7M380.6 186.1H386.4M383.5 179.4V192.9M373.7 210.5H379.4M376.5 189.6V231.3M357 241.1H363.6M360.3 230.4V251.8M360.7 270H365.4M363.1 262.4V277.5M384.4 252.5H388.4M386.4 248.2V256.8M373.1 134.5H377.8M375.5 113.6V155.4M354.9 241.9H360.7M357.8 234V249.9M358.8 259.3H362.8M360.8 246.6V272M373.9 256.1H382.7M378.3 247.8V264.5M373.4 264.4H380.3M376.9 253.7V275.1M389.7 222.6H394.3M392 214.1V231.1M374.3 181.1H382.3M378.3 167.7V194.6M385.1 171.6H389.1M387.1 164.2V179.1M362.2 193.7H366.9M364.5 185.1V202.4M367.3 169.2H378.7M373 163.4V175.1M373.6 229.8H379.4M376.5 214.8V244.7M359.6 206.7H363.6M361.6 197.4V216M388.8 222.5H399.8M394.3 207.9V237.1M369.6 226.1H379.6M374.6 213.2V239M390.7 181.3H397.4M394.1 176.5V186.2M392.9 138.3H402.4M397.6 133V143.5M356.5 272H362.1M359.3 265.2V278.8M353.9 231.9H357.9M355.9 224.5V239.3M384.4 255.2H390.2M387.3 248.9V261.5M385.7 197.9H389.7M387.7 192.6V203.1M393.1 200.6H398.8M396 180.6V220.7M347 226.8H352.7M349.8 219.5V234.2M376.4 267H380.7M378.5 255.8V278.1M391.6 238.6H398.7M395.2 224.5V252.7M371.3 201H375.3M373.3 192V209.9M395.2 200.1H399.8M397.5 187.4V212.8M367.5 277.4H373.6M370.6 268.9V285.9M371.7 179.1H377.6M374.6 166.7V191.5M356.2 236.7H361.2M358.7 225.4V247.9M361.1 151.8H367.4M364.3 144.8V158.8M391.2 241.5H397.5M394.4 233V249.9M367.9 232.4H374.4M371.2 216.3V248.5M387.7 271.9H394.2M391 258.2V285.6M374 201.1H378.6M376.3 192.7V209.5M374.2 168.6H382.4M378.3 163.1V174M382.1 187.7H389.2M385.7 182.6V192.9M410.9 185.6H415.9M413.4 178V193.2M405.7 147.7H410.1M407.9 139.3V156.1M385.3 213.5H391.9M388.6 192.6V234.5M408.4 203H414.5M411.4 196.7V209.3M424.2 196.4H428.6M426.4 186.3V206.6M388.7 253.6H395.9M392.3 246.2V261M420.1 141H424.5M422.3 129.1V152.9M431.2 133.2H438.8M435 122.4V144M407.6 185.2H412.9M410.2 176.2V194.3M389.7 186.5H399.5M394.6 177.9V195.1M400.4 190.3H406.3M403.4 184.1V196.5M379.1 239.3H384.2M381.6 222.7V256M403.1 186.5H407.2M405.1 176.6V196.3M413.2 154.8H419.1M416.2 148.6V161M454.2 130.7H460.8M457.5 113.2V148.2M475.8 117.6H481M478.4 105.6V129.7M460.1 148.8H465.1M462.6 143.9V153.7M392.2 248.8H400M396.1 233.9V263.7M445.2 168.3H450M447.6 138.7V198M453.5 128H460.3M456.9 114.2V141.7M430.5 148.1H437M433.7 128.2V167.9M413.5 140.2H419.2M416.4 131.5V148.9M424 149.6H433.1M428.5 139.9V159.3M383.6 243.9H391.3M387.4 237.6V250.1M409.3 230H413.5M411.4 208.9V251.2M413 172.7H419.2M416.1 164.8V180.6M411.8 180.2H417.4M414.6 164.9V195.5M444.2 150.5H450.7M447.5 142.8V158.1M420.3 204H426.4M423.3 196.8V211.2M399.3 236.9H403.3M401.3 224.9V248.8M443 156.7H447M445 149.1V164.3M396 139.8H403.6M399.8 130.8V148.8M410 156.3H415.8M412.9 141.7V170.8M454.2 116.9H460.2M457.2 105.8V128M438.7 147.1H444M441.3 137V157.3M473 127.8H479M476 119.7V135.8M423.5 139.1H430.5M427 132.6V145.7M455.8 146.1H463.4M459.6 136.4V155.9M434.9 156.3H443.9M439.4 149.1V163.5M387.2 259.2H396.1M391.6 240.7V277.7M418.5 121.4H424.7M421.6 111.8V130.9M453.1 173.1H457.5M455.3 164V182.1M415.5 184.7H420.6M418 170.4V199.1M391.6 252.2H395.7M393.6 242.1V262.4M441.3 180.2H447.6M444.4 170.3V190.1M360.8 147.6H364.8M362.8 131.3V163.8M419.2 129.4H423.8M421.5 115V143.9M369.7 144.7H373.7M371.7 131.1V158.3M329.9 136.2H336.5M333.2 132.2V140.2M426.9 173.5H431.6M429.3 161.3V185.8M330.4 159.3H337.9M334.1 146.5V172M348.2 171.6H352.7M350.5 159.7V183.6M424.7 130H429.8M427.2 124.8V135.2M420 154.2H425.4M422.7 145.9V162.4M349.7 160.5H355.5M352.6 140.8V180.3M378.5 99.9H385.2M381.9 80.6V119.2M395.2 150.9H399.2M397.2 144.6V157.2M381.2 142.2H385.8M383.5 134.1V150.3M381.7 151.5H388.8M385.2 138.8V164.3M371.5 137.9H379.4M375.5 121.4V154.3M415.9 106.2H419.9M417.9 96.6V115.7M336.6 113.4H346.1M341.3 104.8V122M367 135.9H374M370.5 129.4V142.3M340.7 113H345.1M342.9 100.1V125.9M373 169.2H381.7M377.4 160.1V178.4M350.5 105H356.6M353.5 92.3V117.7M418.5 115.8H423.5M421 106.2V125.4M384.4 115.3H390.7M387.6 109.9V120.6M416.1 112H421.7M418.9 103.6V120.4M372.9 117.8H378.1M375.5 104.7V130.9M361.2 116.2H366.1M363.6 110.6V121.9M345.6 169.7H354.7M350.2 150.7V188.7M331.2 103.8H335.4M333.3 88V119.6M401.4 158H408.1M404.7 152V163.9M350.6 138.2H355.9M353.2 129.7V146.7M350.1 149.3H358.6M354.4 143V155.7M415.8 160.9H420.8M418.3 153.3V168.4M402.6 120.4H408.3M405.5 106.3V134.6M408.2 156.2H412.7M410.4 135.7V176.7M366.8 108.2H371.4M369.1 98.4V118M413.1 151.2H419.4M416.2 140.3V162.2M327.3 139.9H331.9M329.6 132.6V147.2M347.9 148.4H355M351.4 140.8V155.9M400.6 157.3H404.6M402.6 150.1V164.4M340.4 162.6H350.7M345.6 155.8V169.4M361.4 165.9H365.9M363.7 157.8V173.9M398.9 100.3H404.1M401.5 90.5V110.2M403.9 153.9H411.1M407.5 146.2V161.5M369.9 122.1H375M372.4 116.7V127.6M418.7 160.6H426M422.4 153.2V168.1M394 173.6H398.4M396.2 168.1V179.1M323.5 167.8H328.8M326.1 142.5V193.1M404.9 165.7H410.6M407.8 150V181.3M348 145.3H353.2M350.6 140.5V150M368.5 101.5H375.3M371.9 95.9V107.2M392.4 146.8H396.9M394.7 131.7V161.8M354.4 136.2H358.9M356.7 131V141.3M378.8 141.5H385.1M382 133V149.9M405.3 141.2H409.9M407.6 131.6V150.8M407.9 115.8H415M411.4 82.6V149M386.4 116.8H390.4M388.4 107.3V126.2M398.9 154.9H404.2M401.6 145.7V164.1M388.2 132.8H393.2M390.7 122.5V143.2M356.1 117.4H361.1M358.6 109.8V125M394.8 116H398.9M396.8 104.1V127.9M352.6 153H357M354.8 141.1V164.9M379.1 166.9H389.6M384.4 158.5V175.4M378.8 125.7H384.9M381.9 120.1V131.3M334.5 115.7H339.2M336.8 97.9V133.5M370.9 123.3H377.1M374 114.4V132.1M341.7 152H346.8M344.3 147.3V156.7M362.4 119.7H369.5M365.9 113V126.5M365.1 104.5H374.2M369.7 95.6V113.4M338.5 112.1H342.5M340.5 90.9V133.4M349 159.9H355.9M352.5 152.5V167.4M380.7 284.1H385.8M383.3 272.2V296M341.9 313.1H349.6M345.8 306.1V320.2M336.6 288.3H346.1M341.4 282.4V294.3M378.3 313.8H383.5M380.9 299.4V328.2M328.6 307.8H332.6M330.6 301.7V313.9M372.2 300.9H378.8M375.5 289.3V312.5M366.4 299.9H372.4M369.4 288.2V311.7M364.2 299H369.9M367.1 282.9V315.2M169.1 89.5H185.1M177.1 81.5V97.5M145.5 134.3H174.5M160 120.3V148.3M48.7 142.3H131.4M78.7 119.8V164.8M155.7 158.3H179.7M167.7 145.3V171.3M211.1 158H227.1M219.1 150V166M221 156H231M226 143V169M250.3 136.3H260.3M255.3 125.3V147.3M266.7 134.9H286.7M276.7 97.9V171.9M261.3 159.7H269.3M265.3 149.7V169.7M246.2 178H258.2M252.2 162V194M292.3 146.3H302.3M297.3 138.3V154.3M327.1 111.2H337.1M332.1 102.7V119.7M351.7 110.6H359.7M355.7 101.6V119.6M349.9 130.8H359.9M354.9 113.8V147.8M312 166.8H318M315 159.8V173.8M312 172.3H318M315 160.3V184.3M331.3 177.6H339.3M335.3 166.6V188.6M351 179.7H357M354 169.7V189.7M326 188.4H332M329 178.4V198.4M338.8 190.8H346.8M342.8 180.8V200.8M355.3 187.4H361.3M358.3 177.4V197.4M307 163V191M370.3 111.1H376.3M373.3 96.1V126.1M372.5 113.4H378.5M375.5 103.4V123.4M359.3 125.9H365.3M362.3 117.9V133.9M363.5 128.9H369.5M366.5 118.9V138.9M374.8 124.8H380.8M377.8 112.8V136.8M360.9 138.4H366.9M363.9 128.4V148.4M381.4 124.8H387.4M384.4 114.8V134.8M383.7 122.7H389.7M386.7 102.7V142.7M388.5 129.3H394.5M391.5 117.3V141.3M378.3 144.2H384.3M381.3 134.2V154.2M397.8 120.5H403.8M400.8 108.5V132.5M406.6 110.6H416.6M411.6 92.6V128.6M411.3 117.7H417.3M414.3 107.7V127.7M415.8 119.1H421.8M418.8 109.1V129.1M414 133.9H420M417 121.9V145.9M417.9 134.8H423.9M420.9 122.8V146.8M421.4 133.9H427.4M424.4 125.9V141.9M410.4 141H416.4M413.4 127V155M406.3 144.1H412.3M409.3 130.1V158.1M402.2 146.4H408.2M405.2 132.4V160.4M398.7 141.9H404.7M401.7 129.9V153.9M397.6 148.5H403.6M400.6 134.5V162.5M387.2 153.9H393.2M390.2 141.9V165.9M368.7 167.2H378.7M373.7 151.2V183.2M377.4 173.5H383.4M380.4 161.5V185.5M383.1 172.6H389.1M386.1 158.6V186.6M390.6 170.4H396.6M393.6 158.4V182.4M394.4 169.9H400.4M397.4 157.9V181.9M397.4 167.2H403.4M400.4 153.2V181.2M413.5 161H419.5M416.5 149V173M417.9 159.2H423.9M420.9 147.2V171.2M420.9 169H426.9M423.9 159V179M417.9 175.3H423.9M420.9 165.3V185.3M437.3 71.8H443.3M440.3 66.8V76.8M468.7 91.5H474.7M471.7 83.5V99.5M476.8 99.2H482.8M479.8 91.2V107.2M477.3 101.8H483.3M480.3 93.8V109.8M465.5 103.9H471.5M468.5 94.9V112.9M457.6 108.6H463.6M460.6 98.6V118.6M458.2 111H464.2M461.2 101V121M450.5 117.8H456.5M453.5 107.8V127.8M453.7 121H459.7M456.7 109V133M454 124.7H460M457 112.7V136.7M464.1 128.5H472.1M468.1 120.5V136.5M474.3 123.2H480.3M477.3 115.2V131.2M436 124.9H442M439 118.9V130.9M443.3 133.2H449.3M446.3 125.2V141.2M430.4 138.1H436.4M433.4 128.1V148.1M454.4 146.1H462.4M458.4 134.1V158.1M426.6 159.5H432.6M429.6 149.5V169.5M436.2 164.9H442.2M439.2 154.9V174.9M434.5 170.7H440.5M437.5 160.7V180.7M439.6 177.4H445.6M442.6 169.4V185.4M302.9 194.5H310.9M306.9 169.5V219.5M317.3 212.9H323.3M320.3 203.9V221.9M318.7 224.8H324.7M321.7 209.8V239.8M326.5 203.4H334.5M330.5 191.4V215.4M320.2 248.9H328.2M324.2 238.9V258.9M359.2 192.4H365.2M362.2 180.4V204.4M362.8 191.8H368.8M365.8 179.8V203.8M344 197.7H350M347 185.7V209.7M348.9 199.3H354.9M351.9 187.3V211.3M341 202H347M344 192V212M363.6 200.4H369.6M366.6 188.4V212.4M366.7 203.9H372.7M369.7 191.9V215.9M359.7 207.9H365.7M362.7 195.9V219.9M364.9 210.5H370.9M367.9 198.5V222.5M329.2 216.8H335.2M332.2 202.8V230.8M365.8 216.8H371.8M368.8 204.8V228.8M363.6 221.8H369.6M366.6 209.8V233.8M333.8 224.3H341.8M337.8 214.3V234.3M375.2 196.3H381.2M378.2 184.3V208.3M380.2 197.2H386.2M383.2 185.2V209.2M376.1 186.1H382.1M379.1 174.1V198.1M381.5 181.5H387.5M384.5 169.5V193.5M384.1 210.5H390.1M387.1 198.5V222.5M380.2 215.9H386.2M383.2 203.9V227.9M384.1 216.8H390.1M387.1 204.8V228.8M380.6 221.2H386.6M383.6 209.2V233.2M374.3 222.7H380.3M377.3 210.7V234.7M366.7 226.6H372.7M369.7 214.6V238.6M339.2 237.6H345.2M342.2 223.6V251.6M349.7 239.1H355.7M352.7 225.1V253.1M347.6 242.3H353.6M350.6 228.3V256.3M328 241.7H334M331 229.7V253.7M345.8 249.8H351.8M348.8 235.8V263.8M368.6 240H374.6M371.6 228V252M374.7 236.4H380.7M377.7 224.4V248.4M375.2 238.2H381.2M378.2 226.2V250.2M382 237.8H388M385 225.8V249.8M363.6 247.6H369.6M366.6 217.6V277.6M384.1 253.7H390.1M387.1 241.7V265.7M341 257.2H347M344 243.2V271.2M379.7 261.3H385.7M382.7 249.3V273.3M365.4 262.6H371.4M368.4 248.6V276.6M353.8 265.4H359.8M356.8 251.4V279.4M333.2 271.7H341.2M337.2 259.7V283.7M352.8 271.7H360.8M356.8 257.7V285.7M386.3 271.3H392.3M389.3 261.3V281.3M393.6 210.2H399.6M396.6 202.2V218.2M425.3 186.1H431.3M428.3 174.1V198.1M428.9 186.1H434.9M431.9 174.1V198.1M428 191.8H434M431 179.8V203.8M389.1 186.1H395.1M392.1 174.1V198.1M399.5 186.1H405.5M402.5 176.1V196.1M397.2 196.3H403.2M400.2 184.3V208.3M399.8 195.7H405.8M402.8 183.7V207.7M397.2 200.4H403.2M400.2 188.4V212.4M390.9 197.2H396.9M393.9 185.2V209.2M406.1 208.8H412.1M409.1 196.8V220.8M403.4 211.4H409.4M406.4 199.4V223.4M402.9 216.2H408.9M405.9 204.2V228.2M386.5 214.6H392.5M389.5 202.6V226.6M390.9 217.7H396.9M393.9 205.7V229.7M408.4 218.9H414.4M411.4 208.9V228.9M398.9 220.7H404.9M401.9 208.7V232.7M394.8 223.4H400.8M397.8 211.4V235.4M399.3 225.2H405.3M402.3 213.2V237.2M406.1 222.5H412.1M409.1 210.5V234.5M392.3 227.1H398.3M395.3 215.1V239.1M398.9 229.3H404.9M401.9 217.3V241.3M397.2 233.7H403.2M400.2 221.7V245.7M389.7 235.1H395.7M392.7 223.1V247.1M388.2 239.1H394.2M391.2 227.1V251.1M427.1 216.2H433.1M430.1 194.2V238.2M429 227.5H439M434 214.5V240.5M415.9 234.1H421.9M418.9 222.1V246.1M412.8 235.9H418.8M415.8 223.9V247.9M407.8 238.2H413.8M410.8 226.2V250.2M407 243.9H413M410 229.9V257.9M411.7 248.5H421.7M416.7 234.5V262.5M411.9 251.5H417.9M414.9 237.5V265.5M415.5 255.6H421.5M418.5 241.6V269.6M398.4 253.7H404.4M401.4 241.7V265.7M398.9 251H404.9M401.9 239V263M403.7 260.1H409.7M406.7 246.1V274.1M394.1 267.9H400.1M397.1 253.9V281.9M390 257.8H396M393 245.8V269.8M341.4 275.2H349.4M345.4 265.2V285.2M365.1 278.5H371.1M368.1 264.5V292.5M343.2 284H349.2M346.2 274V294M338.9 288.5H344.9M341.9 276.5V300.5M380.8 299.7H386.8M383.8 291.7V307.7M304 304.4H310M307 297.4V311.4M289 335.6H295M292 329.6V341.6M338.2 338.1H344.2M341.2 327.1V349.1M351.1 333.1H357.1M354.1 318.1V348.1M383.1 335.6H389.1M386.1 322.6V348.6M390.1 345.9H396.1M393.1 318.9V372.9M202.4 206.3H216.4M209.4 189.3V223.3M247.4 208.4H273.4M260.4 183.4V233.4M282.4 195.9H288.4M285.4 190.9V200.9M282.4 203.3H288.4M285.4 193.3V213.3M268.7 222.3H276.7M272.7 214.3V230.3M282.9 231.1H288.9M285.9 219.1V243.1M235.4 221.4H241.4M238.4 207.4V235.4M224.7 226.5H250.7M237.7 216.5V236.5M218.5 234.6H230.5M224.5 211.6V257.6M233.8 238.8H249.8M241.8 228.8V248.8M238.8 241.6H244.8M241.8 231.6V251.6M248.1 238.8H254.1M251.1 228.8V248.8M203.6 243.9H217.6M210.6 234.9V252.9M181.4 253.6H193.4M187.4 240.6V266.6M160.3 254.7H176.3M168.3 244.7V264.7M202.3 274.5H224.3M213.3 249.5V299.5M212.9 271.7H218.9M215.9 263.7V279.7M187.3 281H207.3M197.3 261V301M238.1 271H244.1M241.1 259V283M244.2 275.2H250.2M247.2 266.2V284.2M259.5 293.7H277.5M268.5 273.7V313.7M284 289.1H290M287 279.1V299.1M232.8 306H250.8M241.8 206V338M182.1 348H188.1M185.1 323V373M200.1 348H206.1M203.1 244V353M271.3 348H277.3M274.3 340V356M52.5 256.4H139.5M97.5 236.4V276.4M49.6 332.3H129.6M74.6 309.3V348.3M66.3 348H72.3M69.3 338V358M157.2 348H163.2M160.2 323V373M163.6 348H169.6M166.6 320V376M134.2 219H154.2M144.2 212V226M45 267H72.5M193.8 27.8H199.8M196.8 22.8V32.8M96.1 124.5H182.1M139.1 121.5V154.5M320.5 348.5H326.5M323.5 342.5V354.5M51.4 161.5H105.4M76.4 149.5V173.5M118.9 148.7H134.9M126.9 138.7V158.7M126 147.8H142M134 137.8V157.8M127.7 157.2H143.7M135.7 145.2V169.2M138 151.5H150M144 141.5V161.5M148.3 147.8H160.3M154.3 137.8V157.8M133.7 160.6H145.7M139.7 150.6V170.6M104.2 159.2H130.2M117.2 147.2V171.2M142.6 170H158.6M150.6 160V180M160.2 170H172.2M166.2 160V180M171.6 145.8H187.6M179.6 133.8V157.8M169.6 158.4H214.6M189.6 146.4V170.4M196.3 147.8H206.3M201.3 137.8V157.8M199.3 149.2H211.3M205.3 135.2V163.2M191.9 176.3H207.9M199.9 164.3V188.3M201.6 175.5H213.6M207.6 163.5V187.5M105.8 177.7H125.8M115.8 169.7V185.7M163.1 190.6H191.1M177.1 176.6V204.6M107.3 204H129.3M118.3 192V216M124.9 208.3H140.9M132.9 196.3V220.3M156 198.6H168M162 190.6V206.6M153.4 206.8H169.4M161.4 198.8V214.8M163.1 206.3H179.1M171.1 194.3V218.3M185.9 202.6H197.9M191.9 192.6V212.6M153.4 221.4H169.4M161.4 209.4V233.4M172.5 222.5H184.5M178.5 212.5V232.5M175.9 219.7H191.9M183.9 207.7V231.7M108.9 228.5H164.9M136.9 214.5V242.5M203 216.3H215M209 204.3V228.3M204 231.3H214M209 223.3V239.3M126 238H142M134 224V252M70.7 241.4H106.7M88.7 233.4V249.4M72.9 248.5H114.9M94.9 238.5V258.5M140.3 250H152.3M146.3 238V262M147.5 240.8H157.5M152.5 232.8V248.8M143.6 256.5H153.6M148.6 248.5V264.5M169.8 244.3H179.8M174.8 232.3V256.3M181.1 243.7H193.1M187.1 229.7V257.7M176.9 262.2H186.9M181.9 254.2V270.2M184.5 264.2H196.5M190.5 252.2V276.2M179.6 267.9H191.6M185.6 255.9V279.9M200.3 236.6H210.3M205.3 226.6V246.6M197.5 270.8H207.5M202.5 260.8V280.8M200.3 272.8H210.3M205.3 260.8V284.8M208.3 270.8H218.3M213.3 258.8V282.8M164.5 277.9H180.5M172.5 267.9V287.9M132.6 290.7H152.6M142.6 267.7V313.7M125.6 297.3H135.6M130.6 285.3V309.3M181.6 295H193.6M187.6 283V307M203.3 301.6H223.3M213.3 281.6V321.6M144.5 318.4H156.5M150.5 306.4V330.4M168.4 315.8H178.4M173.4 280.8V350.8M169.9 327.3H177.9M173.9 317.3V337.3M191.8 330.1H201.8M196.8 320.1V340.1M78.5 332.4H88.5M83.5 328.4V336.4M84.1 332.4H100.1M92.1 326.4V338.4M89.8 332.4H109.8M99.8 324.4V340.4M104.9 333H120.9M112.9 325V341M107.3 333H141.3M124.3 325V341M243.8 50.6H251.8M247.8 42.6V58.6M241.6 70.6H259.6M250.6 47.6V93.6M255.3 98.6H261.3M258.3 94.6V102.6M266 121.4H278M272 107.4V135.4M300 49.2H320M310 30.2V68.2M349.5 47.8H355.5M352.5 33.8V61.8M358.9 20.7H368.9M363.9 12.7V28.7M362 39.2H368M365 35.2V43.2M356 80.6H362M359 72.6V88.6M336.1 98.6H342.1M339.1 90.6V106.6M332.6 106.3H338.6M335.6 96.3V116.3M324.6 112.8H330.6M327.6 102.8V122.8M319.8 115.4H325.8M322.8 105.4V125.4M311.4 118.5H319.4M315.4 110.5V126.5M326.1 121.9H332.1M329.1 111.9V131.9M340.3 122.5H346.3M343.3 112.5V132.5M349.3 110H357.3M353.3 90V130M360.3 123.4H366.3M363.3 113.4V133.4M362 66.3H368M365 60.3V72.3M261.5 135.3H267.5M264.5 125.3V145.3M269 136.4H275M272 124.4V148.4M228.4 141.7H256.4M242.4 127.7V155.7M240.2 145.6H256.2M248.2 135.6V155.6M253 146H263M258 136V156M285.9 141.1H291.9M288.9 131.1V151.1M283.7 148.2H289.7M286.7 138.2V158.2M301.9 142.8H307.9M304.9 134.8V150.8M300 148.2H306M303 140.2V156.2M317.5 141.7H323.5M320.5 133.7V149.7M307.5 152.9H313.5M310.5 142.9V162.9M313.2 149.2H319.2M316.2 139.2V159.2M301 156.1H307M304 146.1V166.1M289.7 157.8H295.7M292.7 147.8V167.8M238.6 160.6H250.6M244.6 152.6V168.6M257.2 157.8H263.2M260.2 149.8V165.8M277.4 164.6H285.4M281.4 154.6V174.6M274.4 170H282.4M278.4 158V182M313.7 165.3H321.7M317.7 155.3V175.3M244.9 171.7H254.9M249.9 159.7V183.7M252.7 182.8H258.7M255.7 172.8V192.8M262 179.2H272M267 167.2V191.2M273.4 182.4H283.4M278.4 170.4V194.4M218.7 186.2H242.7M230.7 176.2V196.2M237.5 187.7H249.5M243.5 173.7V201.7M270.9 190.9H276.9M273.9 180.9V200.9M254.4 192.4H260.4M257.4 182.4V202.4M234.7 196.9H244.7M239.7 182.9V210.9M242.8 199.1H252.8M247.8 185.1V213.1M252.9 198H258.9M255.9 188V208M268 199.1H276M272 187.1V211.1M285.5 194.1H293.5M289.5 182.1V206.1M270.5 205.9H278.5M274.5 193.9V217.9M274.7 207.4H280.7M277.7 197.4V217.4M273.7 213H281.7M277.7 201V225M282.3 208H290.3M286.3 196V220M283.4 213.4H291.4M287.4 201.4V225.4M207.5 203.8H217.5M212.5 189.8V217.8M214.3 205.9H224.3M219.3 191.9V219.9M225 205.3H235M230 191.3V219.3M234.1 202.7H240.1M237.1 192.7V212.7M246 209.1H256M251 195.1V223.1M250.3 209.1H260.3M255.3 195.1V223.1M259.2 214.5H267.2M263.2 202.5V226.5M263 217.7H271M267 205.7V229.7M266.2 219.8H274.2M270.2 207.8V231.8M270.5 219.8H278.5M274.5 209.8V229.8M219.3 215.5H229.3M224.3 201.5V229.5M213.9 227.3H223.9M218.9 213.3V241.3M220.3 225.2H230.3M225.3 211.2V239.2M217.1 234.5H227.1M222.1 220.5V248.5M235.3 219.8H245.3M240.3 205.8V233.8M241.6 217.7H247.6M244.6 207.7V227.7M252.3 218.7H258.3M255.3 208.7V228.7M241.7 225.2H251.7M246.7 211.2V239.2M248.1 228.4H258.1M253.1 214.4V242.4M255.5 231.6H263.5M259.5 219.6V243.6M265.2 230.5H273.2M269.2 218.5V242.5M274.8 228.4H282.8M278.8 216.4V240.4M282.3 227.9H290.3M286.3 215.9V239.9M234.1 235.7H240.1M237.1 225.7V245.7M235.3 245.3H245.3M240.3 231.3V259.3M256.6 236.8H264.6M260.6 224.8V248.8M255.5 243.2H263.5M259.5 231.2V255.2M255.5 247.5H263.5M259.5 235.5V259.5M255.5 252.8H263.5M259.5 240.8V264.8M270.5 240H278.5M274.5 228V252M272.7 246.4H280.7M276.7 234.4V258.4M265.2 248.5H273.2M269.2 236.5V260.5M268.4 253.9H276.4M272.4 241.9V265.9M276.4 238.9H282.4M279.4 228.9V248.9M239.6 257.1H249.6M244.6 243.1V271.1M234.2 261.4H244.2M239.2 247.4V275.4M263 260.3H271M267 248.3V272.3M282.3 257.1H290.3M286.3 245.1V269.1M287.6 264.6H293.6M290.6 254.6V274.6M250.2 262.4H258.2M254.2 250.4V274.4M245.9 265.6H253.9M249.9 253.6V277.6M244.9 271H252.9M248.9 259V283M249.1 280.6H257.1M253.1 264.6V296.6M257.7 273.1H265.7M261.7 257.1V289.1M267.3 268.9H275.3M271.3 256.9V280.9M274.8 266.7H282.8M278.8 254.7V278.7M276.9 269.9H284.9M280.9 257.9V281.9M271.6 277.4H279.6M275.6 265.4V289.4M281.2 277.4H289.2M285.2 265.4V289.4M278 292.4H286M282 280.4V304.4M273.7 294.5H281.7M277.7 282.5V306.5M278 297.7H286M282 272.7V322.7M268.9 292.4H278.9M273.9 280.4V304.4M232.7 297.7H242.7M237.7 287.7V307.7M231.4 300.9H241.4M236.4 292.9V308.9M251.3 300.3H261.3M256.3 286.3V314.3M259.9 306.3H269.9M264.9 296.3V316.3M244.1 320.2H260.1M252.1 302.2V338.2M267.4 335.6H279.4M273.4 323.6V347.6M293.6 281H299.6M296.6 271V291M306.8 292H312.8M309.8 286V298M304.2 309.5H310.2M307.2 297.5V321.5M294 336.2H300M297 328.2V344.2M302.5 334.1H308.5M305.5 326.1V342.1M302.5 342.6H308.5M305.5 334.6V350.6M319.7 314.8H327.7M323.7 304.8V324.8M329.2 288.1H337.2M333.2 278.1V298.1M329.2 296.7H337.2M333.2 286.7V306.7M353.7 279.5H359.7M356.7 269.5V289.5M324.8 268.9H330.8M327.8 258.9V278.9M332.3 262.4H338.3M335.3 252.4V272.4M341.9 257.1H347.9M344.9 247.1V267.1M344.1 248.5H350.1M347.1 238.5V258.5M338.7 241H344.7M341.7 231V251M360.1 248.5H366.1M363.1 238.5V258.5M363.3 263.5H369.3M366.3 253.5V273.5M315.2 276.3H321.2M318.2 266.3V286.3M347.3 241H353.3M350.3 231V251M345.2 229.3H351.2M348.2 219.3V239.3M366.5 227.1H372.5M369.5 217.1V237.1M314.3 279.5H320.3M317.3 269.5V289.5M318.1 260.3H324.1M321.1 250.3V270.3M322 270H328M325 260V280M435.9 55.3H441.9M438.9 50.3V60.3M398.4 96H404.4M401.4 88V104M401.6 101.3H407.6M404.6 93.3V109.3M427.3 106.6H433.3M430.3 98.6V114.6M421.9 114.1H427.9M424.9 106.1V122.1M442.3 112H448.3M445.3 104V120M443.3 125.9H449.3M446.3 117.9V133.9M399.1 154.9H405.1M402.1 146.9V162.9M413.4 153.5H419.4M416.4 145.5V161.5M369.5 79H375.5M372.5 74V84M375.5 81.5H381.5M378.5 76.5V86.5M382 82.5H388M385 77.5V87.5M45 275H68M45 319.3H66M439.5 52.1H445.5M442.5 42.1V62.1M433.3 60.6H439.3M436.3 56.6V64.6M430.5 88.9H436.5M433.5 84.9V92.9M451.3 75.2H457.3M454.3 63.2V87.2M479.3 78.8H485.3M482.3 70.8V86.8M471.1 82H477.1M474.1 74V90M467.3 88.4H473.3M470.3 80.4V96.4M474.4 95.9H480.4M477.4 87.9V103.9M479.1 95.3H485.1M482.1 87.3V103.3M483.6 99.6H489.6M486.6 91.6V107.6M464.1 95.9H470.1M467.1 87.9V103.9M469.7 184.1H477.7M473.7 174.1V194.1M468.2 199.3H474.2M471.2 189.3V209.3M453.9 199.8H459.9M456.9 174.8V224.8M468.9 212.8H474.9M471.9 202.8V222.8M445.7 231H451.7M448.7 221V241M437.7 264.2H443.7M440.7 260.2V268.2M443.9 266.7H449.9M446.9 254.7V278.7M464.4 266.7H470.4M467.4 256.7V276.7M471.1 269.4H477.1M474.1 263.4V275.4M425 252.9H431M428 242.9V262.9M425.2 301.6H433.2M429.2 289.6V313.6M417 299.9H423M420 289.9V309.9M403.2 304.3H409.2M406.2 292.3V316.3M399.7 325.6H407.7M403.7 303.6V347.6M404.5 296H410.5M407.5 286V306M343.5 153.2H349.5M346.5 144.2V162.2M362.2 158.5H368.2M365.2 149.5V167.5M344 168.3H350M347 159.3V177.3M305.2 174H311.2M308.2 165V183M288.2 186.5H294.2M291.2 177.5V195.5M299.8 187.4H305.8M302.8 178.4V196.4M307 187.4H313M310 178.4V196.4M314.1 184.7H320.1M317.1 175.7V193.7M320.3 187.4H326.3M323.3 178.4V196.4M296.3 195.4H302.3M299.3 186.4V204.4M300.7 199H306.7M303.7 190V208M306.1 203.4H312.1M309.1 194.4V212.4M289.1 202.5H295.1M292.1 193.5V211.5M322.1 195.4H328.1M325.1 186.4V204.4M327.5 193.6H333.5M330.5 184.6V202.6M325.7 206.1H331.7M328.7 197.1V215.1M332.8 207.9H338.8M335.8 198.9V216.9M322.1 209.7H328.1M325.1 200.7V218.7M330.1 212.3H336.1M333.1 203.3V221.3M313.2 213.2H319.2M316.2 204.2V222.2M323.9 215H329.9M326.9 206V224M292.7 216.8H298.7M295.7 207.8V225.8M299.8 217.7H305.8M302.8 208.7V226.7M303.4 220.4H309.4M306.4 211.4V229.4M311.4 219.5H317.4M314.4 210.5V228.5M339.9 217.7H345.9M342.9 208.7V226.7M343.5 209.7H349.5M346.5 200.7V218.7M347.1 212.3H353.1M350.1 203.3V221.3M353.3 207.9H359.3M356.3 198.9V216.9M333.7 221.3H339.7M336.7 212.3V230.3M356 221.3H362M359 212.3V230.3M320.3 222.1H326.3M323.3 213.1V231.1M382 209.7H388M385 200.7V218.7M290.6 177.2H296.6M293.6 168.2V186.2M351.5 139.3H357.5M354.5 129.3V149.3M363.6 149.1H369.6M366.6 139.1V159.1M345.6 179H351.6M348.6 169V189M354.2 187.4H360.2M357.2 177.4V197.4M354.2 199.9H360.2M357.2 189.9V209.9M335.5 200.8H341.5M338.5 190.8V210.8M329.2 200.8H335.2M332.2 190.8V210.8M304.3 213.2H310.3M307.3 203.2V223.2M369.3 215H375.3M372.3 205V225M350.6 217.7H356.6M353.6 207.7V227.7M380.9 188.3H386.9M383.9 178.3V198.3M343.5 222.1H349.5M346.5 212.1V232.1M313.7 140.2H319.7M316.7 129.2V151.2M323.9 155.3H329.9M326.9 144.3V166.3M327.5 148.2H333.5M330.5 137.2V159.2M332.8 148.2H338.8M335.8 137.2V159.2M334.6 158H340.6M337.6 147V169M329.2 164.2H335.2M332.2 153.2V175.2M320.3 165.1H326.3M323.3 154.1V176.1M309.6 170.5H315.6M312.6 159.5V181.5M318.5 169.6H324.5M321.5 158.6V180.6M298.9 177.6H304.9M301.9 166.6V188.6M319.4 176.7H325.4M322.4 165.7V187.7M326.6 182.9H332.6M329.6 171.9V193.9M314.1 190.1H320.1M317.1 179.1V201.1M335.5 173.1H341.5M338.5 162.1V184.1M331 183.8H337M334 172.8V194.8M329.2 130.3H335.2M332.2 119.3V141.3M339 130.3H345M342 119.3V141.3M339.9 125H345.9M342.9 114V136M348.8 142.8H354.8M351.8 131.8V153.8M348 163.3H354M351 152.3V174.3M349.7 166.9H355.7M352.7 155.9V177.9M355.1 166.9H361.1M358.1 155.9V177.9M365.8 168.7H371.8M368.8 157.7V179.7M367.6 131.2H373.6M370.6 120.2V142.2M369.3 161.5H375.3M372.3 150.5V172.5M338.1 141H344.1M341.1 130V152M345.3 127.7H351.3M348.3 116.7V138.7M350.6 129.5H356.6M353.6 118.5V140.5M352.4 147.3H358.4M355.4 136.3V158.3M352.4 156.2H358.4M355.4 145.2V167.2M357.8 156.2H363.8M360.8 145.2V167.2M365.8 142.8H371.8M368.8 131.8V153.8M375.6 141.9H381.6M378.6 130.9V152.9M306.1 218.9H312.1M309.1 209.9V227.9M313.2 217.1H319.2M316.2 208.1V226.1M319.4 215.3H325.4M322.4 206.3V224.3M326.6 213.6H332.6M329.6 204.6V222.6M333.7 216.2H339.7M336.7 207.2V225.2M300.7 224.3H306.7M303.7 215.3V233.3M301.6 228.7H307.6M304.6 219.7V237.7M333.7 224.3H339.7M336.7 215.3V233.3M349.7 233.2H355.7M352.7 224.2V242.2M322.1 233.2H328.1M325.1 224.2V242.2M325.7 233.2H331.7M328.7 224.2V242.2M332.8 234.1H338.8M335.8 225.1V243.1M319.4 237.6H325.4M322.4 228.6V246.6M299.8 238.5H305.8M302.8 229.5V247.5M296.3 242.1H302.3M299.3 233.1V251.1M295.4 247.4H301.4M298.4 238.4V256.4M301.6 245.7H307.6M304.6 236.7V254.7M307 244.8H313M310 235.8V253.8M312.3 244.8H318.3M315.3 235.8V253.8M320.3 248.3H326.3M323.3 239.3V257.3M315 255.5H321M318 246.5V264.5M323 256.3H329M326 247.3V265.3M301.6 258.1H307.6M304.6 249.1V267.1M305.2 257.2H311.2M308.2 248.2V266.2M323.9 259.9H329.9M326.9 250.9V268.9M304.3 267.9H310.3M307.3 258.9V276.9M308.7 276.8H314.7M311.7 267.8V285.8M335.5 252.8H341.5M338.5 243.8V261.8M351.5 211.8H357.5M354.5 202.8V220.8M339 211.8H345M342 201.8V221.8M343.5 225.2H349.5M346.5 215.2V235.2M367.6 229.6H373.6M370.6 219.6V239.6M330.1 243H336.1M333.1 233V253M341.7 243H347.7M344.7 233V253M351.5 239.4H357.5M354.5 229.4V249.4M358.6 236.7H364.6M361.6 226.7V246.7M348 259.9H354M351 249.9V269.9M349.7 275.1H355.7M352.7 265.1V285.1M313.7 226.9H319.7M316.7 216.9V236.9M326.2 226H332.2M329.2 216V236M338.7 230.5H344.7M341.7 220.5V240.5M301.6 234.1H307.6M304.6 224.1V244.1M309.6 251H315.6M312.6 241V261M315 272.4H321M318 262.4V282.4M319.4 277.7H325.4M322.4 267.7V287.7M316.8 281.3H322.8M319.8 271.3V291.3M337.3 282.2H343.3M340.3 272.2V292.2M286.5 284.9H292.5M289.5 274.9V294.9M376.5 297.3H382.5M379.5 287.3V307.3M373.8 306.3H379.8M376.8 296.3V316.3M307.8 235H313.8M310.8 225V245M285.6 260.8H291.6M288.6 250.8V270.8M338.1 291.1H344.1M341.1 281.1V301.1M347.1 289.3H353.1M350.1 279.3V299.3M364.9 298.2H370.9M367.9 288.2V308.2M364 302.7H370M367 292.7V312.7M380.9 300.9H386.9M383.9 290.9V310.9M379.1 286.6H385.1M382.1 276.6V296.6M369.3 281.3H375.3M372.3 271.3V291.3M360.4 280.4H366.4M363.4 270.4V290.4M333.4 329.8H339.4M336.4 317.8V341.8M330.2 335.2H336.2M333.2 323.2V347.2M353.7 335.2H359.7M356.7 323.2V347.2M362.3 335.2H368.3M365.3 323.2V347.2M359.1 325.5H365.1M362.1 313.5V337.5M380.4 318H386.4M383.4 306V330M376.2 326.6H382.2M379.2 314.6V338.6M380.4 329.8H386.4M383.4 317.8V341.8M393.3 290.2H399.3M396.3 278.2V302.2M374 318H380M377 306V330M387.9 308.4H393.9M390.9 296.4V320.4M393.3 303.1H399.3M396.3 291.1V315.1M395.4 323.4H401.4M398.4 311.4V335.4M378.3 334.1H384.3M381.3 322.1V346.1M414.7 317H420.7M417.7 305V329M420 232.5H426M423 220.5V244.5" stroke="#a9a9a9" stroke-width="1" fill="none"/>
<g fill="#ff00ff"><circle cx="335.3" cy="177.6" r="4"/><circle cx="306.9" cy="194.5" r="4"/><circle cx="320.3" cy="212.9" r="4"/><circle cx="321.7" cy="224.8" r="4"/><circle cx="307" cy="304.4" r="4"/><circle cx="292" cy="335.6" r="4"/><circle cx="323.5" cy="348.5" r="4"/><circle cx="304.9" cy="142.8" r="4"/><circle cx="303" cy="148.2" r="4"/><circle cx="320.5" cy="141.7" r="4"/><circle cx="296.6" cy="281" r="4"/><circle cx="307.2" cy="309.5" r="4"/><circle cx="305.5" cy="334.1" r="4"/><circle cx="305.5" cy="342.6" r="4"/><circle cx="346.5" cy="153.2" r="4"/><circle cx="365.2" cy="158.5" r="4"/><circle cx="347" cy="168.3" r="4"/><circle cx="308.2" cy="174" r="4"/><circle cx="291.2" cy="186.5" r="4"/><circle cx="302.8" cy="187.4" r="4"/><circle cx="310" cy="187.4" r="4"/><circle cx="317.1" cy="184.7" r="4"/><circle cx="323.3" cy="187.4" r="4"/><circle cx="299.3" cy="195.4" r="4"/><circle cx="303.7" cy="199" r="4"/><circle cx="309.1" cy="203.4" r="4"/><circle cx="292.1" cy="202.5" r="4"/><circle cx="325.1" cy="195.4" r="4"/><circle cx="330.5" cy="193.6" r="4"/><circle cx="328.7" cy="206.1" r="4"/><circle cx="335.8" cy="207.9" r="4"/><circle cx="325.1" cy="209.7" r="4"/><circle cx="333.1" cy="212.3" r="4"/><circle cx="316.2" cy="213.2" r="4"/><circle cx="326.9" cy="215" r="4"/><circle cx="295.7" cy="216.8" r="4"/><circle cx="302.8" cy="217.7" r="4"/><circle cx="306.4" cy="220.4" r="4"/><circle cx="314.4" cy="219.5" r="4"/><circle cx="342.9" cy="217.7" r="4"/><circle cx="346.5" cy="209.7" r="4"/><circle cx="350.1" cy="212.3" r="4"/><circle cx="356.3" cy="207.9" r="4"/><circle cx="336.7" cy="221.3" r="4"/><circle cx="359" cy="221.3" r="4"/><circle cx="323.3" cy="222.1" r="4"/><circle cx="385" cy="209.7" r="4"/><circle cx="293.6" cy="177.2" r="4"/><circle cx="309.1" cy="218.9" r="4"/><circle cx="316.2" cy="217.1" r="4"/><circle cx="322.4" cy="215.3" r="4"/><circle cx="329.6" cy="213.6" r="4"/><circle cx="336.7" cy="216.2" r="4"/><circle cx="303.7" cy="224.3" r="4"/><circle cx="304.6" cy="228.7" r="4"/><circle cx="336.7" cy="224.3" r="4"/><circle cx="352.7" cy="233.2" r="4"/><circle cx="325.1" cy="233.2" r="4"/><circle cx="328.7" cy="233.2" r="4"/><circle cx="335.8" cy="234.1" r="4"/><circle cx="322.4" cy="237.6" r="4"/><circle cx="302.8" cy="238.5" r="4"/><circle cx="299.3" cy="242.1" r="4"/><circle cx="298.4" cy="247.4" r="4"/><circle cx="304.6" cy="245.7" r="4"/><circle cx="310" cy="244.8" r="4"/><circle cx="315.3" cy="244.8" r="4"/><circle cx="323.3" cy="248.3" r="4"/><circle cx="318" cy="255.5" r="4"/><circle cx="326" cy="256.3" r="4"/><circle cx="304.6" cy="258.1" r="4"/><circle cx="308.2" cy="257.2" r="4"/><circle cx="326.9" cy="259.9" r="4"/><circle cx="307.3" cy="267.9" r="4"/><circle cx="311.7" cy="276.8" r="4"/><circle cx="338.5" cy="252.8" r="4"/><circle cx="354.5" cy="211.8" r="4"/></g>
<g fill="#0000ff"><circle cx="177.1" cy="89.5" r="4"/><circle cx="160" cy="134.3" r="4"/><circle cx="78.7" cy="142.3" r="4"/><circle cx="226" cy="156" r="4"/><circle cx="276.7" cy="134.9" r="4"/><circle cx="252.2" cy="178" r="4"/><circle cx="209.4" cy="206.3" r="4"/><circle cx="285.4" cy="203.3" r="4"/><circle cx="285.9" cy="231.1" r="4"/><circle cx="241.8" cy="238.8" r="4"/><circle cx="241.8" cy="241.6" r="4"/><circle cx="251.1" cy="238.8" r="4"/><circle cx="187.4" cy="253.6" r="4"/><circle cx="213.3" cy="274.5" r="4"/><circle cx="241.1" cy="271" r="4"/><circle cx="247.2" cy="275.2" r="4"/><circle cx="287" cy="289.1" r="4"/><circle cx="241.8" cy="306" r="4"/><circle cx="185.1" cy="348" r="4"/><circle cx="74.6" cy="332.3" r="4"/><circle cx="69.3" cy="348" r="4"/><circle cx="166.6" cy="348" r="4"/><circle cx="76.4" cy="161.5" r="4"/><circle cx="126.9" cy="148.7" r="4"/><circle cx="144" cy="151.5" r="4"/><circle cx="154.3" cy="147.8" r="4"/><circle cx="139.7" cy="160.6" r="4"/><circle cx="117.2" cy="159.2" r="4"/><circle cx="150.6" cy="170" r="4"/><circle cx="179.6" cy="145.8" r="4"/><circle cx="205.3" cy="149.2" r="4"/><circle cx="199.9" cy="176.3" r="4"/><circle cx="207.6" cy="175.5" r="4"/><circle cx="118.3" cy="204" r="4"/><circle cx="132.9" cy="208.3" r="4"/><circle cx="171.1" cy="206.3" r="4"/><circle cx="161.4" cy="221.4" r="4"/><circle cx="183.9" cy="219.7" r="4"/><circle cx="209" cy="216.3" r="4"/><circle cx="134" cy="238" r="4"/><circle cx="146.3" cy="250" r="4"/><circle cx="187.1" cy="243.7" r="4"/><circle cx="190.5" cy="264.2" r="4"/><circle cx="185.6" cy="267.9" r="4"/><circle cx="205.3" cy="272.8" r="4"/><circle cx="213.3" cy="270.8" r="4"/><circle cx="142.6" cy="290.7" r="4"/><circle cx="187.6" cy="295" r="4"/><circle cx="213.3" cy="301.6" r="4"/><circle cx="173.4" cy="315.8" r="4"/><circle cx="92.1" cy="332.4" r="4"/><circle cx="250.6" cy="70.6" r="4"/><circle cx="278.4" cy="170" r="4"/><circle cx="249.9" cy="171.7" r="4"/><circle cx="267" cy="179.2" r="4"/><circle cx="278.4" cy="182.4" r="4"/><circle cx="243.5" cy="187.7" r="4"/><circle cx="239.7" cy="196.9" r="4"/><circle cx="247.8" cy="199.1" r="4"/><circle cx="272" cy="199.1" r="4"/><circle cx="289.5" cy="194.1" r="4"/><circle cx="274.5" cy="205.9" r="4"/><circle cx="277.7" cy="213" r="4"/><circle cx="286.3" cy="208" r="4"/><circle cx="287.4" cy="213.4" r="4"/><circle cx="212.5" cy="203.8" r="4"/><circle cx="219.3" cy="205.9" r="4"/><circle cx="230" cy="205.3" r="4"/><circle cx="251" cy="209.1" r="4"/><circle cx="255.3" cy="209.1" r="4"/><circle cx="263.2" cy="214.5" r="4"/><circle cx="267" cy="217.7" r="4"/><circle cx="270.2" cy="219.8" r="4"/><circle cx="224.3" cy="215.5" r="4"/><circle cx="218.9" cy="227.3" r="4"/><circle cx="225.3" cy="225.2" r="4"/><circle cx="240.3" cy="219.8" r="4"/><circle cx="246.7" cy="225.2" r="4"/><circle cx="253.1" cy="228.4" r="4"/><circle cx="259.5" cy="231.6" r="4"/><circle cx="269.2" cy="230.5" r="4"/><circle cx="278.8" cy="228.4" r="4"/><circle cx="286.3" cy="227.9" r="4"/><circle cx="240.3" cy="245.3" r="4"/><circle cx="260.6" cy="236.8" r="4"/><circle cx="259.5" cy="243.2" r="4"/><circle cx="259.5" cy="247.5" r="4"/><circle cx="259.5" cy="252.8" r="4"/><circle cx="274.5" cy="240" r="4"/><circle cx="276.7" cy="246.4" r="4"/><circle cx="269.2" cy="248.5" r="4"/><circle cx="272.4" cy="253.9" r="4"/><circle cx="244.6" cy="257.1" r="4"/><circle cx="239.2" cy="261.4" r="4"/><circle cx="267" cy="260.3" r="4"/><circle cx="286.3" cy="257.1" r="4"/><circle cx="254.2" cy="262.4" r="4"/><circle cx="249.9" cy="265.6" r="4"/><circle cx="248.9" cy="271" r="4"/><circle cx="253.1" cy="280.6" r="4"/><circle cx="261.7" cy="273.1" r="4"/><circle cx="271.3" cy="268.9" r="4"/><circle cx="278.8" cy="266.7" r="4"/><circle cx="280.9" cy="269.9" r="4"/><circle cx="275.6" cy="277.4" r="4"/><circle cx="285.2" cy="277.4" r="4"/><circle cx="282" cy="292.4" r="4"/><circle cx="277.7" cy="294.5" r="4"/><circle cx="282" cy="297.7" r="4"/><circle cx="256.3" cy="300.3" r="4"/><circle cx="273.4" cy="335.6" r="4"/></g>
<g fill="#000"><circle cx="465.2" cy="140.6" r="2.3"/><circle cx="411.2" cy="188.8" r="2.3"/><circle cx="401.7" cy="207.7" r="2.3"/><circle cx="417.3" cy="221.2" r="2.3"/><circle cx="391.9" cy="214.1" r="2.3"/><circle cx="429.2" cy="111.8" r="2.3"/><circle cx="439.6" cy="133.4" r="2.3"/><circle cx="411.5" cy="146.6" r="2.3"/><circle cx="468.8" cy="88.3" r="2.3"/><circle cx="412" cy="126.4" r="2.3"/><circle cx="420.5" cy="178.3" r="2.3"/><circle cx="435.8" cy="138.3" r="2.3"/><circle cx="422.6" cy="124.3" r="2.3"/><circle cx="398.6" cy="224.2" r="2.3"/><circle cx="449.2" cy="101.4" r="2.3"/><circle cx="395.4" cy="241.7" r="2.3"/><circle cx="416.9" cy="159.8" r="2.3"/><circle cx="455.2" cy="142.2" r="2.3"/><circle cx="401.4" cy="197.9" r="2.3"/><circle cx="401.1" cy="243.6" r="2.3"/><circle cx="403.1" cy="156.5" r="2.3"/><circle cx="391.7" cy="200.5" r="2.3"/><circle cx="390" cy="238.5" r="2.3"/><circle cx="429.1" cy="165.6" r="2.3"/><circle cx="405.1" cy="226.7" r="2.3"/><circle cx="389.4" cy="255.8" r="2.3"/><circle cx="407.7" cy="158.1" r="2.3"/><circle cx="422.3" cy="133.6" r="2.3"/><circle cx="420.1" cy="170.1" r="2.3"/><circle cx="470.8" cy="151.4" r="2.3"/><circle cx="430.9" cy="173.1" r="2.3"/><circle cx="394.2" cy="199.9" r="2.3"/><circle cx="406.9" cy="220.8" r="2.3"/><circle cx="435.4" cy="103.7" r="2.3"/><circle cx="380.9" cy="253.4" r="2.3"/><circle cx="393.3" cy="264.7" r="2.3"/><circle cx="404.1" cy="138.6" r="2.3"/><circle cx="448.4" cy="122.9" r="2.3"/><circle cx="406.3" cy="219.1" r="2.3"/><circle cx="424.9" cy="210.1" r="2.3"/><circle cx="437.9" cy="112.3" r="2.3"/><circle cx="398.8" cy="149.6" r="2.3"/><circle cx="389.5" cy="245.3" r="2.3"/><circle cx="393.6" cy="165.2" r="2.3"/><circle cx="463.5" cy="98" r="2.3"/><circle cx="436.5" cy="118.5" r="2.3"/><circle cx="404.2" cy="176" r="2.3"/><circle cx="436.1" cy="97.2" r="2.3"/><circle cx="416.6" cy="148.1" r="2.3"/><circle cx="432.2" cy="115.6" r="2.3"/><circle cx="384.4" cy="263.8" r="2.3"/><circle cx="412.1" cy="197" r="2.3"/><circle cx="393.1" cy="212.7" r="2.3"/><circle cx="408.8" cy="187.4" r="2.3"/><circle cx="463.8" cy="170.9" r="2.3"/><circle cx="456.8" cy="128.5" r="2.3"/><circle cx="395.2" cy="210.7" r="2.3"/><circle cx="413.5" cy="158.8" r="2.3"/><circle cx="421.8" cy="160.1" r="2.3"/><circle cx="406" cy="150.9" r="2.3"/><circle cx="397" cy="239" r="2.3"/><circle cx="397" cy="227.2" r="2.3"/><circle cx="434.1" cy="173.1" r="2.3"/><circle cx="412.7" cy="177" r="2.3"/><circle cx="408.1" cy="256.2" r="2.3"/><circle cx="476.8" cy="121.2" r="2.3"/><circle cx="426.2" cy="200.5" r="2.3"/><circle cx="424.6" cy="163.7" r="2.3"/><circle cx="441.7" cy="104.8" r="2.3"/><circle cx="408.8" cy="125.1" r="2.3"/><circle cx="424.3" cy="156" r="2.3"/><circle cx="409" cy="233.9" r="2.3"/><circle cx="425.3" cy="119.2" r="2.3"/><circle cx="413.7" cy="126.7" r="2.3"/><circle cx="429.9" cy="168.2" r="2.3"/><circle cx="479.9" cy="145.5" r="2.3"/><circle cx="428.5" cy="204.2" r="2.3"/><circle cx="410.9" cy="161.8" r="2.3"/><circle cx="446.3" cy="113.9" r="2.3"/><circle cx="419.2" cy="199" r="2.3"/><circle cx="441" cy="184.4" r="2.3"/><circle cx="388.5" cy="252.2" r="2.3"/><circle cx="424.2" cy="140.6" r="2.3"/><circle cx="405.8" cy="151.2" r="2.3"/><circle cx="402.9" cy="186.6" r="2.3"/><circle cx="399.4" cy="136.9" r="2.3"/><circle cx="421.7" cy="233" r="2.3"/><circle cx="393.5" cy="185.7" r="2.3"/><circle cx="449.5" cy="147.9" r="2.3"/><circle cx="390.3" cy="154.1" r="2.3"/><circle cx="416.7" cy="184.6" r="2.3"/><circle cx="463.8" cy="158.9" r="2.3"/><circle cx="465" cy="94.1" r="2.3"/><circle cx="409.7" cy="182.2" r="2.3"/><circle cx="452.5" cy="173.8" r="2.3"/><circle cx="398.8" cy="262" r="2.3"/><circle cx="418.4" cy="145.1" r="2.3"/><circle cx="393.4" cy="237" r="2.3"/><circle cx="411.4" cy="196.2" r="2.3"/><circle cx="401.8" cy="183.7" r="2.3"/><circle cx="478.5" cy="161.3" r="2.3"/><circle cx="409" cy="225.6" r="2.3"/><circle cx="435.1" cy="151" r="2.3"/><circle cx="387.6" cy="190.6" r="2.3"/><circle cx="437.2" cy="146.8" r="2.3"/><circle cx="394.1" cy="185.9" r="2.3"/><circle cx="405.2" cy="230.1" r="2.3"/><circle cx="396.6" cy="155.6" r="2.3"/><circle cx="419.3" cy="231.5" r="2.3"/><circle cx="403.1" cy="258.7" r="2.3"/><circle cx="420.2" cy="119.4" r="2.3"/><circle cx="445.8" cy="126.6" r="2.3"/><circle cx="438.7" cy="163.1" r="2.3"/><circle cx="400.4" cy="245.9" r="2.3"/><circle cx="450.7" cy="126.6" r="2.3"/><circle cx="446.9" cy="106.9" r="2.3"/><circle cx="425.7" cy="130.9" r="2.3"/><circle cx="416.4" cy="235.3" r="2.3"/><circle cx="398.1" cy="151.7" r="2.3"/><circle cx="431.9" cy="181.3" r="2.3"/><circle cx="408.8" cy="215.7" r="2.3"/><circle cx="422.1" cy="221.8" r="2.3"/><circle cx="427.1" cy="120" r="2.3"/><circle cx="414.8" cy="201.4" r="2.3"/><circle cx="421.5" cy="200.9" r="2.3"/><circle cx="415.2" cy="183" r="2.3"/><circle cx="434.6" cy="169.6" r="2.3"/><circle cx="399.5" cy="249.9" r="2.3"/><circle cx="402.4" cy="165.5" r="2.3"/><circle cx="394.7" cy="226.5" r="2.3"/><circle cx="435.7" cy="166.7" r="2.3"/><circle cx="437.5" cy="191.2" r="2.3"/><circle cx="401.4" cy="209.5" r="2.3"/><circle cx="446.2" cy="162.6" r="2.3"/><circle cx="458.5" cy="105" r="2.3"/><circle cx="397.4" cy="135.6" r="2.3"/><circle cx="397.2" cy="189.2" r="2.3"/><circle cx="398.8" cy="216.7" r="2.3"/><circle cx="395" cy="163.2" r="2.3"/><circle cx="438.9" cy="138.2" r="2.3"/><circle cx="424.8" cy="182.9" r="2.3"/><circle cx="390.6" cy="244.9" r="2.3"/><circle cx="399" cy="215.1" r="2.3"/><circle cx="435.8" cy="155.7" r="2.3"/><circle cx="423.7" cy="149.8" r="2.3"/><circle cx="401" cy="205.9" r="2.3"/><circle cx="474.1" cy="84.4" r="2.3"/><circle cx="393.7" cy="218.5" r="2.3"/><circle cx="402.7" cy="225.3" r="2.3"/><circle cx="392.7" cy="199.9" r="2.3"/><circle cx="392.3" cy="184.7" r="2.3"/><circle cx="415.5" cy="181.2" r="2.3"/><circle cx="438.7" cy="195.6" r="2.3"/><circle cx="414.2" cy="164.8" r="2.3"/><circle cx="415.3" cy="184.6" r="2.3"/><circle cx="424.5" cy="141.3" r="2.3"/><circle cx="396.5" cy="172.8" r="2.3"/><circle cx="410.4" cy="222" r="2.3"/><circle cx="390.2" cy="255.8" r="2.3"/><circle cx="451" cy="135" r="2.3"/><circle cx="451.2" cy="156.8" r="2.3"/><circle cx="416.6" cy="172.4" r="2.3"/><circle cx="401.4" cy="184.4" r="2.3"/><circle cx="437.5" cy="121.1" r="2.3"/><circle cx="414.3" cy="221.9" r="2.3"/><circle cx="451.8" cy="101.4" r="2.3"/><circle cx="390.1" cy="263.3" r="2.3"/><circle cx="387.6" cy="243" r="2.3"/><circle cx="380" cy="154.3" r="2.3"/><circle cx="439" cy="125.4" r="2.3"/><circle cx="437.1" cy="135.6" r="2.3"/><circle cx="469.3" cy="124.8" r="2.3"/><circle cx="383.9" cy="222.6" r="2.3"/><circle cx="384.1" cy="254.8" r="2.3"/><circle cx="436.4" cy="197.3" r="2.3"/><circle cx="434" cy="141.4" r="2.3"/><circle cx="434" cy="168.7" r="2.3"/><circle cx="413.2" cy="181.1" r="2.3"/><circle cx="421.7" cy="163.8" r="2.3"/><circle cx="393.9" cy="186.4" r="2.3"/><circle cx="422.2" cy="203.1" r="2.3"/><circle cx="413.1" cy="158.5" r="2.3"/><circle cx="397.4" cy="248.5" r="2.3"/><circle cx="480.5" cy="147.6" r="2.3"/><circle cx="396.5" cy="211.1" r="2.3"/><circle cx="443.5" cy="179.7" r="2.3"/><circle cx="424.8" cy="173" r="2.3"/><circle cx="427.7" cy="151.5" r="2.3"/><circle cx="437.7" cy="158.2" r="2.3"/><circle cx="445.5" cy="202.1" r="2.3"/><circle cx="396.9" cy="215.2" r="2.3"/><circle cx="401.8" cy="178" r="2.3"/><circle cx="398.1" cy="235.6" r="2.3"/><circle cx="425.2" cy="172" r="2.3"/><circle cx="396.6" cy="220.2" r="2.3"/><circle cx="439.4" cy="161.9" r="2.3"/><circle cx="399.6" cy="149.3" r="2.3"/><circle cx="412.4" cy="163.4" r="2.3"/><circle cx="480.6" cy="93.9" r="2.3"/><circle cx="395.8" cy="143.6" r="2.3"/><circle cx="394.3" cy="244.7" r="2.3"/><circle cx="425.3" cy="184.6" r="2.3"/><circle cx="394.9" cy="163.5" r="2.3"/><circle cx="456.2" cy="138.7" r="2.3"/><circle cx="403.3" cy="191.6" r="2.3"/><circle cx="429" cy="217.8" r="2.3"/><circle cx="446.1" cy="129.2" r="2.3"/><circle cx="427.8" cy="133.8" r="2.3"/><circle cx="450" cy="149.2" r="2.3"/><circle cx="409.6" cy="180.4" r="2.3"/><circle cx="415.3" cy="189.3" r="2.3"/><circle cx="395.1" cy="215.1" r="2.3"/><circle cx="400.8" cy="157.5" r="2.3"/><circle cx="430.6" cy="144" r="2.3"/><circle cx="388" cy="263.7" r="2.3"/><circle cx="444.1" cy="150.5" r="2.3"/><circle cx="404.2" cy="194.6" r="2.3"/><circle cx="428.4" cy="113.9" r="2.3"/><circle cx="399.5" cy="182.2" r="2.3"/><circle cx="394.1" cy="152.8" r="2.3"/><circle cx="389" cy="149.1" r="2.3"/><circle cx="403.1" cy="188.5" r="2.3"/><circle cx="441.2" cy="149.6" r="2.3"/><circle cx="398.7" cy="249.3" r="2.3"/><circle cx="400.8" cy="151.4" r="2.3"/><circle cx="402.9" cy="185.5" r="2.3"/><circle cx="392.3" cy="155.4" r="2.3"/><circle cx="385.5" cy="231.8" r="2.3"/><circle cx="428.9" cy="179.2" r="2.3"/><circle cx="451" cy="131.3" r="2.3"/><circle cx="389.5" cy="242.8" r="2.3"/><circle cx="412.6" cy="204.3" r="2.3"/><circle cx="419.2" cy="159.7" r="2.3"/><circle cx="436.5" cy="166.8" r="2.3"/><circle cx="442.9" cy="115.5" r="2.3"/><circle cx="411.7" cy="144.5" r="2.3"/><circle cx="423.5" cy="117.2" r="2.3"/><circle cx="455.8" cy="149.4" r="2.3"/><circle cx="419.6" cy="172.9" r="2.3"/><circle cx="411.7" cy="165.9" r="2.3"/><circle cx="455.9" cy="121.5" r="2.3"/><circle cx="454.6" cy="108.5" r="2.3"/><circle cx="461.1" cy="91.6" r="2.3"/><circle cx="448.7" cy="144.7" r="2.3"/><circle cx="427.9" cy="154.7" r="2.3"/><circle cx="414" cy="164.7" r="2.3"/><circle cx="440.1" cy="143.4" r="2.3"/><circle cx="383.5" cy="269.6" r="2.3"/><circle cx="418.9" cy="124.6" r="2.3"/><circle cx="449.6" cy="135.6" r="2.3"/><circle cx="422.6" cy="134.6" r="2.3"/><circle cx="432.6" cy="207.3" r="2.3"/><circle cx="408.6" cy="178.1" r="2.3"/><circle cx="411.6" cy="203.8" r="2.3"/><circle cx="468.7" cy="96.9" r="2.3"/><circle cx="388.6" cy="250" r="2.3"/><circle cx="479.2" cy="109.2" r="2.3"/><circle cx="393.3" cy="248.9" r="2.3"/><circle cx="437.5" cy="121.2" r="2.3"/><circle cx="406.2" cy="143.9" r="2.3"/><circle cx="442.8" cy="102.9" r="2.3"/><circle cx="460.7" cy="157.2" r="2.3"/><circle cx="393.8" cy="201.3" r="2.3"/><circle cx="461" cy="121.2" r="2.3"/><circle cx="401.4" cy="203.4" r="2.3"/><circle cx="461.4" cy="102.4" r="2.3"/><circle cx="420.2" cy="145.4" r="2.3"/><circle cx="461.4" cy="135.8" r="2.3"/><circle cx="412.7" cy="130.4" r="2.3"/><circle cx="456.4" cy="127" r="2.3"/><circle cx="464.8" cy="121.3" r="2.3"/><circle cx="388.7" cy="179.2" r="2.3"/><circle cx="388.1" cy="202.2" r="2.3"/><circle cx="470.3" cy="95.3" r="2.3"/><circle cx="386.5" cy="228.3" r="2.3"/><circle cx="433.3" cy="150.1" r="2.3"/><circle cx="398" cy="229.1" r="2.3"/><circle cx="392.6" cy="242" r="2.3"/><circle cx="427" cy="197.9" r="2.3"/><circle cx="383.1" cy="247" r="2.3"/><circle cx="432.1" cy="133" r="2.3"/><circle cx="404.7" cy="235.3" r="2.3"/><circle cx="399.3" cy="186.2" r="2.3"/><circle cx="390.4" cy="236.3" r="2.3"/><circle cx="408.1" cy="191.6" r="2.3"/><circle cx="415.8" cy="159.8" r="2.3"/><circle cx="444.8" cy="164.7" r="2.3"/><circle cx="412.4" cy="233.9" r="2.3"/><circle cx="422.7" cy="188.5" r="2.3"/><circle cx="437.1" cy="125.5" r="2.3"/><circle cx="462.5" cy="124.6" r="2.3"/><circle cx="406.2" cy="200.6" r="2.3"/><circle cx="435.9" cy="164.4" r="2.3"/><circle cx="385.1" cy="215" r="2.3"/><circle cx="446.5" cy="182.9" r="2.3"/><circle cx="420" cy="115.3" r="2.3"/><circle cx="416.1" cy="152.3" r="2.3"/><circle cx="446.1" cy="102.5" r="2.3"/><circle cx="421.5" cy="153.2" r="2.3"/><circle cx="426.6" cy="127" r="2.3"/><circle cx="413.2" cy="192" r="2.3"/><circle cx="402" cy="189.9" r="2.3"/><circle cx="393.4" cy="171.7" r="2.3"/><circle cx="425.1" cy="218.5" r="2.3"/><circle cx="436.5" cy="163.3" r="2.3"/><circle cx="425.3" cy="211" r="2.3"/><circle cx="416.5" cy="145" r="2.3"/><circle cx="406.8" cy="253.9" r="2.3"/><circle cx="397.4" cy="187.6" r="2.3"/><circle cx="390.2" cy="182.5" r="2.3"/><circle cx="423" cy="147.5" r="2.3"/><circle cx="379.7" cy="219.4" r="2.3"/><circle cx="431.8" cy="215.2" r="2.3"/><circle cx="405.9" cy="220.7" r="2.3"/><circle cx="410.3" cy="188.3" r="2.3"/><circle cx="442" cy="151.5" r="2.3"/><circle cx="431.7" cy="161.5" r="2.3"/><circle cx="442.4" cy="140.5" r="2.3"/><circle cx="459.4" cy="114" r="2.3"/><circle cx="426.2" cy="172.8" r="2.3"/><circle cx="436" cy="142.1" r="2.3"/><circle cx="407" cy="217.9" r="2.3"/><circle cx="445.3" cy="114.2" r="2.3"/><circle cx="401.6" cy="205.1" r="2.3"/><circle cx="400.7" cy="174.1" r="2.3"/><circle cx="424.9" cy="198.6" r="2.3"/><circle cx="420.3" cy="167.4" r="2.3"/><circle cx="387.2" cy="228.1" r="2.3"/><circle cx="415.7" cy="150" r="2.3"/><circle cx="403" cy="193" r="2.3"/><circle cx="420.2" cy="127.7" r="2.3"/><circle cx="457.3" cy="120.2" r="2.3"/><circle cx="433.6" cy="115.8" r="2.3"/><circle cx="447.3" cy="146.3" r="2.3"/><circle cx="417.5" cy="138.5" r="2.3"/><circle cx="452.4" cy="165.8" r="2.3"/><circle cx="404.5" cy="213.3" r="2.3"/><circle cx="401.4" cy="211.7" r="2.3"/><circle cx="416.7" cy="205.7" r="2.3"/><circle cx="386.9" cy="248.2" r="2.3"/><circle cx="390.8" cy="220.1" r="2.3"/><circle cx="463.8" cy="131.1" r="2.3"/><circle cx="440.1" cy="143.7" r="2.3"/><circle cx="395.1" cy="147.8" r="2.3"/><circle cx="414.7" cy="182.7" r="2.3"/><circle cx="387.5" cy="268.6" r="2.3"/><circle cx="457.7" cy="114.1" r="2.3"/><circle cx="411.7" cy="231.8" r="2.3"/><circle cx="393.5" cy="250.9" r="2.3"/><circle cx="436.3" cy="157.4" r="2.3"/><circle cx="457.2" cy="113.8" r="2.3"/><circle cx="387.5" cy="206.9" r="2.3"/><circle cx="416.4" cy="148.8" r="2.3"/><circle cx="442.3" cy="152.9" r="2.3"/><circle cx="394.5" cy="180.3" r="2.3"/><circle cx="405.9" cy="260.6" r="2.3"/><circle cx="401.8" cy="178.9" r="2.3"/><circle cx="409" cy="177.2" r="2.3"/><circle cx="416" cy="174.9" r="2.3"/><circle cx="430.3" cy="199.4" r="2.3"/><circle cx="422.2" cy="159.1" r="2.3"/><circle cx="391.6" cy="247.6" r="2.3"/><circle cx="409.7" cy="146.1" r="2.3"/><circle cx="390" cy="161.1" r="2.3"/><circle cx="410.2" cy="126.7" r="2.3"/><circle cx="403.6" cy="205.6" r="2.3"/><circle cx="438.7" cy="102.5" r="2.3"/><circle cx="406.1" cy="159.3" r="2.3"/><circle cx="418.8" cy="137.7" r="2.3"/><circle cx="417.6" cy="200.8" r="2.3"/><circle cx="390" cy="228.8" r="2.3"/><circle cx="411.9" cy="140.1" r="2.3"/><circle cx="405.2" cy="252.6" r="2.3"/><circle cx="422" cy="173.5" r="2.3"/><circle cx="394" cy="257.2" r="2.3"/><circle cx="408.3" cy="239.4" r="2.3"/><circle cx="416.4" cy="187.3" r="2.3"/><circle cx="402.7" cy="230.4" r="2.3"/><circle cx="394.3" cy="153.6" r="2.3"/><circle cx="404.5" cy="134.2" r="2.3"/><circle cx="458.2" cy="127.1" r="2.3"/><circle cx="417.8" cy="204.4" r="2.3"/><circle cx="399.9" cy="275.5" r="2.3"/><circle cx="439.4" cy="151.3" r="2.3"/><circle cx="400.9" cy="146.2" r="2.3"/><circle cx="413.6" cy="147.5" r="2.3"/><circle cx="396.2" cy="204.4" r="2.3"/><circle cx="411.7" cy="217.2" r="2.3"/><circle cx="393.8" cy="221.1" r="2.3"/><circle cx="390.9" cy="274.7" r="2.3"/><circle cx="383.3" cy="229.8" r="2.3"/><circle cx="408.9" cy="217.7" r="2.3"/><circle cx="459.9" cy="127.9" r="2.3"/><circle cx="393.5" cy="161.9" r="2.3"/><circle cx="459.3" cy="133.9" r="2.3"/><circle cx="440.9" cy="125.7" r="2.3"/><circle cx="460.4" cy="100.3" r="2.3"/><circle cx="417.3" cy="157.4" r="2.3"/><circle cx="393.6" cy="267.5" r="2.3"/><circle cx="405" cy="133.7" r="2.3"/><circle cx="404.1" cy="133" r="2.3"/><circle cx="397" cy="174.3" r="2.3"/><circle cx="408.2" cy="134.7" r="2.3"/><circle cx="474.4" cy="106" r="2.3"/><circle cx="401" cy="206.8" r="2.3"/><circle cx="389.3" cy="159.5" r="2.3"/><circle cx="452.8" cy="127.3" r="2.3"/><circle cx="423.2" cy="206.7" r="2.3"/><circle cx="416.7" cy="193.6" r="2.3"/><circle cx="459.1" cy="156.8" r="2.3"/><circle cx="428.3" cy="128.1" r="2.3"/><circle cx="449.6" cy="137.5" r="2.3"/><circle cx="398.7" cy="152.1" r="2.3"/><circle cx="448.8" cy="187.2" r="2.3"/><circle cx="444.3" cy="130.7" r="2.3"/><circle cx="409.1" cy="160" r="2.3"/><circle cx="424.5" cy="132.9" r="2.3"/><circle cx="417" cy="200.4" r="2.3"/><circle cx="388.5" cy="227.5" r="2.3"/><circle cx="451.3" cy="101.8" r="2.3"/><circle cx="424.2" cy="135.8" r="2.3"/><circle cx="401.4" cy="151.1" r="2.3"/><circle cx="415.7" cy="211.7" r="2.3"/><circle cx="430.9" cy="186.3" r="2.3"/><circle cx="387.4" cy="262.3" r="2.3"/><circle cx="432.8" cy="134.2" r="2.3"/><circle cx="422.6" cy="218.6" r="2.3"/><circle cx="415" cy="185.7" r="2.3"/><circle cx="432.8" cy="119" r="2.3"/><circle cx="398.5" cy="164.7" r="2.3"/><circle cx="403.6" cy="146.7" r="2.3"/><circle cx="390.3" cy="261.9" r="2.3"/><circle cx="408.8" cy="130" r="2.3"/><circle cx="439.4" cy="103.8" r="2.3"/><circle cx="398" cy="189.8" r="2.3"/><circle cx="463.1" cy="111.2" r="2.3"/><circle cx="443.3" cy="118.5" r="2.3"/><circle cx="383.1" cy="209.1" r="2.3"/><circle cx="453.6" cy="141" r="2.3"/><circle cx="434.7" cy="115" r="2.3"/><circle cx="426.5" cy="201.3" r="2.3"/><circle cx="443.2" cy="133" r="2.3"/><circle cx="396.1" cy="202.4" r="2.3"/><circle cx="431.6" cy="173.7" r="2.3"/><circle cx="388.7" cy="269.9" r="2.3"/><circle cx="439.4" cy="154.1" r="2.3"/><circle cx="443.1" cy="117.6" r="2.3"/><circle cx="418.7" cy="134.1" r="2.3"/><circle cx="424.1" cy="128.6" r="2.3"/><circle cx="397.7" cy="250.5" r="2.3"/><circle cx="423.7" cy="113.2" r="2.3"/><circle cx="390.2" cy="151" r="2.3"/><circle cx="420.6" cy="122.5" r="2.3"/><circle cx="400.5" cy="178.4" r="2.3"/><circle cx="402.9" cy="188.7" r="2.3"/><circle cx="409.5" cy="208.6" r="2.3"/><circle cx="423.5" cy="183.9" r="2.3"/><circle cx="422.4" cy="153.5" r="2.3"/><circle cx="435.5" cy="132" r="2.3"/><circle cx="397.6" cy="236.5" r="2.3"/><circle cx="393" cy="166.3" r="2.3"/><circle cx="400.4" cy="194.9" r="2.3"/><circle cx="394.5" cy="254.8" r="2.3"/><circle cx="393.4" cy="226.1" r="2.3"/><circle cx="454.4" cy="99" r="2.3"/><circle cx="483.6" cy="76.5" r="2.3"/><circle cx="382.1" cy="209.3" r="2.3"/><circle cx="419.1" cy="148.1" r="2.3"/><circle cx="446.8" cy="137.9" r="2.3"/><circle cx="417" cy="207.5" r="2.3"/><circle cx="412.2" cy="168.7" r="2.3"/><circle cx="404.5" cy="235.6" r="2.3"/><circle cx="415.7" cy="169.7" r="2.3"/><circle cx="393.7" cy="217.5" r="2.3"/><circle cx="403.2" cy="207.1" r="2.3"/><circle cx="407.8" cy="175.1" r="2.3"/><circle cx="407.5" cy="150.4" r="2.3"/><circle cx="418.4" cy="223.4" r="2.3"/><circle cx="391.4" cy="251.6" r="2.3"/><circle cx="408.2" cy="176" r="2.3"/><circle cx="450.7" cy="142.6" r="2.3"/><circle cx="391.6" cy="184.6" r="2.3"/><circle cx="409.6" cy="142" r="2.3"/><circle cx="451.9" cy="128.9" r="2.3"/><circle cx="423.8" cy="163.2" r="2.3"/><circle cx="400.5" cy="208.2" r="2.3"/><circle cx="402" cy="160.2" r="2.3"/><circle cx="430.9" cy="188.7" r="2.3"/><circle cx="424" cy="202.4" r="2.3"/><circle cx="382.4" cy="240.5" r="2.3"/><circle cx="425.2" cy="133.6" r="2.3"/><circle cx="444.7" cy="116.4" r="2.3"/><circle cx="422.8" cy="190.6" r="2.3"/><circle cx="473.3" cy="113.4" r="2.3"/><circle cx="399.9" cy="248.9" r="2.3"/><circle cx="436.6" cy="210.3" r="2.3"/><circle cx="394.5" cy="234.5" r="2.3"/><circle cx="419.6" cy="157.7" r="2.3"/><circle cx="399.6" cy="149" r="2.3"/><circle cx="449.3" cy="143.7" r="2.3"/><circle cx="390.9" cy="206.8" r="2.3"/><circle cx="425.7" cy="131.4" r="2.3"/><circle cx="475.6" cy="114.4" r="2.3"/><circle cx="427.6" cy="134.3" r="2.3"/><circle cx="394.3" cy="227.6" r="2.3"/><circle cx="400.7" cy="186.7" r="2.3"/><circle cx="413.8" cy="202.5" r="2.3"/><circle cx="415.5" cy="171.8" r="2.3"/><circle cx="410" cy="199.4" r="2.3"/><circle cx="409.2" cy="244.5" r="2.3"/><circle cx="437.3" cy="152.7" r="2.3"/><circle cx="438" cy="164.7" r="2.3"/><circle cx="387.5" cy="215.8" r="2.3"/><circle cx="433.5" cy="181.2" r="2.3"/><circle cx="423.9" cy="126" r="2.3"/><circle cx="404.7" cy="220" r="2.3"/><circle cx="421.1" cy="182" r="2.3"/><circle cx="402.2" cy="176.7" r="2.3"/><circle cx="393" cy="206.5" r="2.3"/><circle cx="418.3" cy="130.9" r="2.3"/><circle cx="436.2" cy="137.6" r="2.3"/><circle cx="402.8" cy="157" r="2.3"/><circle cx="465.6" cy="153.3" r="2.3"/><circle cx="408.1" cy="184" r="2.3"/><circle cx="388.7" cy="230.6" r="2.3"/><circle cx="438" cy="134.7" r="2.3"/><circle cx="411.8" cy="178.2" r="2.3"/><circle cx="393" cy="167.2" r="2.3"/><circle cx="439.6" cy="161.1" r="2.3"/><circle cx="409.1" cy="209.8" r="2.3"/><circle cx="408.6" cy="247" r="2.3"/><circle cx="389.9" cy="160.4" r="2.3"/><circle cx="425.7" cy="170.3" r="2.3"/><circle cx="401.3" cy="147.9" r="2.3"/><circle cx="444.5" cy="109.5" r="2.3"/><circle cx="416.5" cy="210.4" r="2.3"/><circle cx="405" cy="217.6" r="2.3"/><circle cx="405.6" cy="178.9" r="2.3"/><circle cx="475.8" cy="120.1" r="2.3"/><circle cx="453.1" cy="142.5" r="2.3"/><circle cx="400.2" cy="182.7" r="2.3"/><circle cx="408.2" cy="233" r="2.3"/><circle cx="427.6" cy="114.5" r="2.3"/><circle cx="406" cy="226.7" r="2.3"/><circle cx="397.7" cy="221.2" r="2.3"/><circle cx="448.9" cy="161.8" r="2.3"/><circle cx="417.6" cy="163" r="2.3"/><circle cx="446.6" cy="179.1" r="2.3"/><circle cx="430.8" cy="138.8" r="2.3"/><circle cx="431.4" cy="145.5" r="2.3"/><circle cx="401" cy="154" r="2.3"/><circle cx="411.5" cy="140.5" r="2.3"/><circle cx="395.6" cy="241.7" r="2.3"/><circle cx="431.8" cy="134.7" r="2.3"/><circle cx="446.6" cy="145.2" r="2.3"/><circle cx="411.1" cy="197.2" r="2.3"/><circle cx="419.1" cy="160" r="2.3"/><circle cx="408.4" cy="146.4" r="2.3"/><circle cx="435.3" cy="172.3" r="2.3"/><circle cx="390.6" cy="162.3" r="2.3"/><circle cx="418.6" cy="147.4" r="2.3"/><circle cx="392.5" cy="217.2" r="2.3"/><circle cx="431.6" cy="150.1" r="2.3"/><circle cx="391.9" cy="152.6" r="2.3"/><circle cx="433" cy="140.7" r="2.3"/><circle cx="419.4" cy="200.9" r="2.3"/><circle cx="386.8" cy="261.1" r="2.3"/><circle cx="393.8" cy="154.2" r="2.3"/><circle cx="402.1" cy="156.5" r="2.3"/><circle cx="432.5" cy="110.8" r="2.3"/><circle cx="403.1" cy="233.8" r="2.3"/><circle cx="446" cy="129.2" r="2.3"/><circle cx="395" cy="245.2" r="2.3"/><circle cx="434.3" cy="165.3" r="2.3"/><circle cx="412.4" cy="183.3" r="2.3"/><circle cx="390.4" cy="247.1" r="2.3"/><circle cx="389.6" cy="242.1" r="2.3"/><circle cx="393.7" cy="256.5" r="2.3"/><circle cx="432.5" cy="206.7" r="2.3"/><circle cx="387.2" cy="249.1" r="2.3"/><circle cx="412.9" cy="140.6" r="2.3"/><circle cx="422.3" cy="202.1" r="2.3"/><circle cx="388.2" cy="253.4" r="2.3"/><circle cx="414.3" cy="149.9" r="2.3"/><circle cx="393.2" cy="186.5" r="2.3"/><circle cx="392.9" cy="166.1" r="2.3"/><circle cx="406.4" cy="188.6" r="2.3"/><circle cx="463" cy="148.4" r="2.3"/><circle cx="460.5" cy="136.3" r="2.3"/><circle cx="395.6" cy="230" r="2.3"/><circle cx="420.1" cy="199.2" r="2.3"/><circle cx="391" cy="228.4" r="2.3"/><circle cx="444.4" cy="119" r="2.3"/><circle cx="407" cy="147" r="2.3"/><circle cx="434.6" cy="147" r="2.3"/><circle cx="397.2" cy="226.9" r="2.3"/><circle cx="421.5" cy="136.9" r="2.3"/><circle cx="400.6" cy="219.2" r="2.3"/><circle cx="446.7" cy="129.1" r="2.3"/><circle cx="391.2" cy="256.2" r="2.3"/><circle cx="410" cy="236.8" r="2.3"/><circle cx="423" cy="143" r="2.3"/><circle cx="415.5" cy="142.2" r="2.3"/><circle cx="454.3" cy="149.8" r="2.3"/><circle cx="416.5" cy="125.8" r="2.3"/><circle cx="413" cy="204.5" r="2.3"/><circle cx="400.4" cy="192.2" r="2.3"/><circle cx="401.7" cy="208.3" r="2.3"/><circle cx="396.8" cy="220.6" r="2.3"/><circle cx="416.8" cy="219" r="2.3"/><circle cx="413.7" cy="175.1" r="2.3"/><circle cx="403.5" cy="212.4" r="2.3"/><circle cx="428.9" cy="161.3" r="2.3"/><circle cx="419" cy="160.2" r="2.3"/><circle cx="393.9" cy="215.2" r="2.3"/><circle cx="402.8" cy="226" r="2.3"/><circle cx="405.1" cy="260.8" r="2.3"/><circle cx="388.5" cy="219.5" r="2.3"/><circle cx="422.9" cy="202.9" r="2.3"/><circle cx="403.4" cy="165.2" r="2.3"/><circle cx="438.4" cy="119.8" r="2.3"/><circle cx="423.9" cy="220.3" r="2.3"/><circle cx="429.8" cy="149.9" r="2.3"/><circle cx="385.5" cy="187.8" r="2.3"/><circle cx="400.1" cy="258.6" r="2.3"/><circle cx="455.2" cy="130.1" r="2.3"/><circle cx="439.5" cy="191.5" r="2.3"/><circle cx="396.4" cy="161.5" r="2.3"/><circle cx="385.5" cy="228.6" r="2.3"/><circle cx="452.2" cy="114.8" r="2.3"/><circle cx="393.1" cy="213.2" r="2.3"/><circle cx="384.6" cy="269.4" r="2.3"/><circle cx="416.5" cy="162.3" r="2.3"/><circle cx="452.8" cy="128.2" r="2.3"/><circle cx="430.1" cy="149.6" r="2.3"/><circle cx="399.9" cy="249.2" r="2.3"/><circle cx="422.6" cy="209.3" r="2.3"/><circle cx="413.5" cy="185.8" r="2.3"/><circle cx="392.5" cy="159.8" r="2.3"/><circle cx="403.5" cy="225.1" r="2.3"/><circle cx="390.4" cy="253.4" r="2.3"/><circle cx="389.3" cy="236" r="2.3"/><circle cx="411.5" cy="176.5" r="2.3"/><circle cx="450.3" cy="110.9" r="2.3"/><circle cx="408.8" cy="207.6" r="2.3"/><circle cx="405" cy="152.5" r="2.3"/><circle cx="389" cy="180.6" r="2.3"/><circle cx="419.7" cy="212.4" r="2.3"/><circle cx="400.6" cy="174.2" r="2.3"/><circle cx="405.9" cy="180.5" r="2.3"/><circle cx="391.4" cy="191.6" r="2.3"/><circle cx="440.4" cy="163.3" r="2.3"/><circle cx="431.4" cy="189.5" r="2.3"/><circle cx="418" cy="210.1" r="2.3"/><circle cx="401.1" cy="152.8" r="2.3"/><circle cx="391.5" cy="206.5" r="2.3"/><circle cx="440.3" cy="107.4" r="2.3"/><circle cx="426.8" cy="152.8" r="2.3"/><circle cx="432.9" cy="143.2" r="2.3"/><circle cx="416.4" cy="148.8" r="2.3"/><circle cx="406.3" cy="176.2" r="2.3"/><circle cx="458.4" cy="168.9" r="2.3"/><circle cx="409" cy="233" r="2.3"/><circle cx="395.1" cy="209.2" r="2.3"/><circle cx="442.1" cy="160.9" r="2.3"/><circle cx="429.8" cy="133.7" r="2.3"/><circle cx="411.2" cy="192.4" r="2.3"/><circle cx="451.8" cy="130.7" r="2.3"/><circle cx="409.3" cy="219.4" r="2.3"/><circle cx="423.6" cy="177.5" r="2.3"/><circle cx="452.1" cy="117.8" r="2.3"/><circle cx="393.3" cy="217" r="2.3"/><circle cx="437.4" cy="150.1" r="2.3"/><circle cx="400.7" cy="177.2" r="2.3"/><circle cx="396.1" cy="167.7" r="2.3"/><circle cx="414.6" cy="212.2" r="2.3"/><circle cx="393.5" cy="145.1" r="2.3"/><circle cx="464.1" cy="103.4" r="2.3"/><circle cx="425.9" cy="140.2" r="2.3"/><circle cx="392.1" cy="234" r="2.3"/><circle cx="443.4" cy="128.7" r="2.3"/><circle cx="469.9" cy="85.3" r="2.3"/><circle cx="404.7" cy="223.9" r="2.3"/><circle cx="398.5" cy="189.7" r="2.3"/><circle cx="416.4" cy="205.4" r="2.3"/><circle cx="394.8" cy="268.1" r="2.3"/><circle cx="410.9" cy="148.7" r="2.3"/><circle cx="405" cy="181.9" r="2.3"/><circle cx="397" cy="203.1" r="2.3"/><circle cx="419.5" cy="151.4" r="2.3"/><circle cx="444.2" cy="102.4" r="2.3"/><circle cx="412" cy="125.8" r="2.3"/><circle cx="400.5" cy="179.8" r="2.3"/><circle cx="383.6" cy="244.6" r="2.3"/><circle cx="456.8" cy="127.7" r="2.3"/><circle cx="438.8" cy="172.7" r="2.3"/><circle cx="455.1" cy="154.5" r="2.3"/><circle cx="417.7" cy="225.9" r="2.3"/><circle cx="400.2" cy="202.8" r="2.3"/><circle cx="429.9" cy="124.5" r="2.3"/><circle cx="425.2" cy="181.7" r="2.3"/><circle cx="410.8" cy="179.6" r="2.3"/><circle cx="425" cy="140.4" r="2.3"/><circle cx="463.4" cy="134.5" r="2.3"/><circle cx="385.1" cy="152.3" r="2.3"/><circle cx="442.9" cy="140.8" r="2.3"/><circle cx="425" cy="163.3" r="2.3"/><circle cx="397.2" cy="202.7" r="2.3"/><circle cx="432.1" cy="121.3" r="2.3"/><circle cx="458.2" cy="137.7" r="2.3"/><circle cx="405.7" cy="177.6" r="2.3"/><circle cx="415.8" cy="168.6" r="2.3"/><circle cx="481.8" cy="86.8" r="2.3"/><circle cx="422" cy="150" r="2.3"/><circle cx="390.8" cy="215.2" r="2.3"/><circle cx="442.8" cy="125.3" r="2.3"/><circle cx="407.6" cy="233.4" r="2.3"/><circle cx="409.7" cy="193" r="2.3"/><circle cx="411.5" cy="227.5" r="2.3"/><circle cx="418.2" cy="131.5" r="2.3"/><circle cx="377.9" cy="268.5" r="2.3"/><circle cx="384.7" cy="256.9" r="2.3"/><circle cx="356.6" cy="253.4" r="2.3"/><circle cx="402.7" cy="143.7" r="2.3"/><circle cx="374.1" cy="138.7" r="2.3"/><circle cx="359" cy="220.4" r="2.3"/><circle cx="382.7" cy="144.8" r="2.3"/><circle cx="374.9" cy="267.6" r="2.3"/><circle cx="358.9" cy="136.1" r="2.3"/><circle cx="365.5" cy="155.2" r="2.3"/><circle cx="375.2" cy="212" r="2.3"/><circle cx="356.1" cy="190.9" r="2.3"/><circle cx="370.8" cy="228.9" r="2.3"/><circle cx="376.9" cy="246.6" r="2.3"/><circle cx="374.4" cy="258.8" r="2.3"/><circle cx="356.2" cy="267.5" r="2.3"/><circle cx="388.3" cy="206.3" r="2.3"/><circle cx="399.5" cy="226.9" r="2.3"/><circle cx="377.8" cy="279.7" r="2.3"/><circle cx="383.6" cy="122.9" r="2.3"/><circle cx="356.8" cy="168.4" r="2.3"/><circle cx="402.3" cy="148.3" r="2.3"/><circle cx="386.9" cy="274.7" r="2.3"/><circle cx="367.3" cy="258.2" r="2.3"/><circle cx="358.9" cy="190.5" r="2.3"/><circle cx="349.6" cy="194.4" r="2.3"/><circle cx="360.4" cy="237" r="2.3"/><circle cx="378.3" cy="236.2" r="2.3"/><circle cx="365.1" cy="228.9" r="2.3"/><circle cx="362" cy="241.1" r="2.3"/><circle cx="382.7" cy="171.4" r="2.3"/><circle cx="377.7" cy="203.3" r="2.3"/><circle cx="391.1" cy="243.5" r="2.3"/><circle cx="381.7" cy="202.4" r="2.3"/><circle cx="400.1" cy="258" r="2.3"/><circle cx="381.4" cy="136.5" r="2.3"/><circle cx="380" cy="215.9" r="2.3"/><circle cx="405.5" cy="130" r="2.3"/><circle cx="364.7" cy="255.8" r="2.3"/><circle cx="386.1" cy="191.1" r="2.3"/><circle cx="364.1" cy="194.8" r="2.3"/><circle cx="381" cy="217.7" r="2.3"/><circle cx="368" cy="212.7" r="2.3"/><circle cx="375.6" cy="259.3" r="2.3"/><circle cx="391.6" cy="198.6" r="2.3"/><circle cx="396.5" cy="229.7" r="2.3"/><circle cx="373.5" cy="179.3" r="2.3"/><circle cx="381.7" cy="191" r="2.3"/><circle cx="357" cy="160" r="2.3"/><circle cx="361.4" cy="167.5" r="2.3"/><circle cx="362.2" cy="163.5" r="2.3"/><circle cx="366.7" cy="166.1" r="2.3"/><circle cx="396" cy="146.7" r="2.3"/><circle cx="353.8" cy="254" r="2.3"/><circle cx="379.9" cy="236.8" r="2.3"/><circle cx="357.5" cy="259" r="2.3"/><circle cx="397.1" cy="193.2" r="2.3"/><circle cx="352.2" cy="203.8" r="2.3"/><circle cx="350.5" cy="198.4" r="2.3"/><circle cx="378.9" cy="186" r="2.3"/><circle cx="375.8" cy="231.2" r="2.3"/><circle cx="352.4" cy="234.2" r="2.3"/><circle cx="382.5" cy="256.1" r="2.3"/><circle cx="393.3" cy="246.3" r="2.3"/><circle cx="362" cy="134.5" r="2.3"/><circle cx="391.2" cy="184.9" r="2.3"/><circle cx="394.2" cy="199.4" r="2.3"/><circle cx="375.4" cy="187.2" r="2.3"/><circle cx="374.4" cy="282.3" r="2.3"/><circle cx="386.6" cy="219.6" r="2.3"/><circle cx="362.8" cy="147.6" r="2.3"/><circle cx="421.5" cy="129.4" r="2.3"/><circle cx="371.7" cy="144.7" r="2.3"/><circle cx="333.2" cy="136.2" r="2.3"/><circle cx="429.3" cy="173.5" r="2.3"/><circle cx="334.1" cy="159.3" r="2.3"/><circle cx="350.5" cy="171.6" r="2.3"/><circle cx="427.2" cy="130" r="2.3"/><circle cx="422.7" cy="154.2" r="2.3"/><circle cx="352.6" cy="160.5" r="2.3"/><circle cx="381.9" cy="99.9" r="2.3"/><circle cx="397.2" cy="150.9" r="2.3"/><circle cx="383.5" cy="142.2" r="2.3"/><circle cx="385.2" cy="151.5" r="2.3"/><circle cx="375.5" cy="137.9" r="2.3"/><circle cx="417.9" cy="106.2" r="2.3"/><circle cx="341.3" cy="113.4" r="2.3"/><circle cx="370.5" cy="135.9" r="2.3"/><circle cx="342.9" cy="113" r="2.3"/><circle cx="377.4" cy="169.2" r="2.3"/><circle cx="353.5" cy="105" r="2.3"/><circle cx="421" cy="115.8" r="2.3"/><circle cx="387.6" cy="115.3" r="2.3"/><circle cx="418.9" cy="112" r="2.3"/><circle cx="375.5" cy="117.8" r="2.3"/><circle cx="363.6" cy="116.2" r="2.3"/><circle cx="350.2" cy="169.7" r="2.3"/><circle cx="333.3" cy="103.8" r="2.3"/><circle cx="404.7" cy="158" r="2.3"/><circle cx="353.2" cy="138.2" r="2.3"/><circle cx="354.4" cy="149.3" r="2.3"/><circle cx="418.3" cy="160.9" r="2.3"/><circle cx="405.5" cy="120.4" r="2.3"/><circle cx="410.4" cy="156.2" r="2.3"/><circle cx="369.1" cy="108.2" r="2.3"/><circle cx="416.2" cy="151.2" r="2.3"/><circle cx="329.6" cy="139.9" r="2.3"/><circle cx="351.4" cy="148.4" r="2.3"/><circle cx="402.6" cy="157.3" r="2.3"/><circle cx="345.6" cy="162.6" r="2.3"/><circle cx="363.7" cy="165.9" r="2.3"/><circle cx="401.5" cy="100.3" r="2.3"/><circle cx="407.5" cy="153.9" r="2.3"/><circle cx="372.4" cy="122.1" r="2.3"/><circle cx="422.4" cy="160.6" r="2.3"/><circle cx="396.2" cy="173.6" r="2.3"/><circle cx="326.1" cy="167.8" r="2.3"/><circle cx="407.8" cy="165.7" r="2.3"/><circle cx="350.6" cy="145.3" r="2.3"/><circle cx="371.9" cy="101.5" r="2.3"/><circle cx="394.7" cy="146.8" r="2.3"/><circle cx="356.7" cy="136.2" r="2.3"/><circle cx="382" cy="141.5" r="2.3"/><circle cx="407.6" cy="141.2" r="2.3"/><circle cx="411.4" cy="115.8" r="2.3"/><circle cx="388.4" cy="116.8" r="2.3"/><circle cx="401.6" cy="154.9" r="2.3"/><circle cx="390.7" cy="132.8" r="2.3"/><circle cx="358.6" cy="117.4" r="2.3"/><circle cx="396.8" cy="116" r="2.3"/><circle cx="354.8" cy="153" r="2.3"/><circle cx="384.4" cy="166.9" r="2.3"/><circle cx="381.9" cy="125.7" r="2.3"/><circle cx="336.8" cy="115.7" r="2.3"/><circle cx="374" cy="123.3" r="2.3"/><circle cx="344.3" cy="152" r="2.3"/><circle cx="365.9" cy="119.7" r="2.3"/><circle cx="369.7" cy="104.5" r="2.3"/><circle cx="340.5" cy="112.1" r="2.3"/><circle cx="352.5" cy="159.9" r="2.3"/><circle cx="297.3" cy="146.3" r="2.3"/><circle cx="332.1" cy="111.2" r="2.3"/><circle cx="355.7" cy="110.6" r="2.3"/><circle cx="354.9" cy="130.8" r="2.3"/><circle cx="315" cy="166.8" r="2.3"/><circle cx="315" cy="172.3" r="2.3"/><circle cx="307" cy="177" r="2.3"/><circle cx="384.4" cy="124.8" r="2.3"/><circle cx="386.7" cy="122.7" r="2.3"/><circle cx="391.5" cy="129.3" r="2.3"/><circle cx="381.3" cy="144.2" r="2.3"/><circle cx="400.8" cy="120.5" r="2.3"/><circle cx="411.6" cy="110.6" r="2.3"/><circle cx="414.3" cy="117.7" r="2.3"/><circle cx="420.9" cy="134.8" r="2.3"/><circle cx="413.4" cy="141" r="2.3"/><circle cx="409.3" cy="144.1" r="2.3"/><circle cx="405.2" cy="146.4" r="2.3"/><circle cx="401.7" cy="141.9" r="2.3"/><circle cx="400.6" cy="148.5" r="2.3"/><circle cx="390.2" cy="153.9" r="2.3"/><circle cx="373.7" cy="167.2" r="2.3"/><circle cx="386.1" cy="172.6" r="2.3"/><circle cx="397.4" cy="169.9" r="2.3"/><circle cx="400.4" cy="167.2" r="2.3"/><circle cx="416.5" cy="161" r="2.3"/><circle cx="420.9" cy="159.2" r="2.3"/><circle cx="423.9" cy="169" r="2.3"/><circle cx="420.9" cy="175.3" r="2.3"/><circle cx="471.7" cy="91.5" r="2.3"/><circle cx="479.8" cy="99.2" r="2.3"/><circle cx="468.5" cy="103.9" r="2.3"/><circle cx="460.6" cy="108.6" r="2.3"/><circle cx="461.2" cy="111" r="2.3"/><circle cx="453.5" cy="117.8" r="2.3"/><circle cx="456.7" cy="121" r="2.3"/><circle cx="457" cy="124.7" r="2.3"/><circle cx="468.1" cy="128.5" r="2.3"/><circle cx="477.3" cy="123.2" r="2.3"/><circle cx="446.3" cy="133.2" r="2.3"/><circle cx="433.4" cy="138.1" r="2.3"/><circle cx="458.4" cy="146.1" r="2.3"/><circle cx="429.6" cy="159.5" r="2.3"/><circle cx="439.2" cy="164.9" r="2.3"/><circle cx="437.5" cy="170.7" r="2.3"/><circle cx="442.6" cy="177.4" r="2.3"/><circle cx="347" cy="197.7" r="2.3"/><circle cx="351.9" cy="199.3" r="2.3"/><circle cx="368.8" cy="216.8" r="2.3"/><circle cx="337.8" cy="224.3" r="2.3"/><circle cx="383.2" cy="197.2" r="2.3"/><circle cx="379.1" cy="186.1" r="2.3"/><circle cx="384.5" cy="181.5" r="2.3"/><circle cx="387.1" cy="210.5" r="2.3"/><circle cx="383.2" cy="215.9" r="2.3"/><circle cx="387.1" cy="216.8" r="2.3"/><circle cx="369.7" cy="226.6" r="2.3"/><circle cx="377.7" cy="236.4" r="2.3"/><circle cx="385" cy="237.8" r="2.3"/><circle cx="366.6" cy="247.6" r="2.3"/><circle cx="344" cy="257.2" r="2.3"/><circle cx="382.7" cy="261.3" r="2.3"/><circle cx="356.8" cy="271.7" r="2.3"/><circle cx="389.3" cy="271.3" r="2.3"/><circle cx="431.9" cy="186.1" r="2.3"/><circle cx="431" cy="191.8" r="2.3"/><circle cx="392.1" cy="186.1" r="2.3"/><circle cx="400.2" cy="196.3" r="2.3"/><circle cx="402.8" cy="195.7" r="2.3"/><circle cx="400.2" cy="200.4" r="2.3"/><circle cx="409.1" cy="208.8" r="2.3"/><circle cx="406.4" cy="211.4" r="2.3"/><circle cx="405.9" cy="216.2" r="2.3"/><circle cx="389.5" cy="214.6" r="2.3"/><circle cx="393.9" cy="217.7" r="2.3"/><circle cx="401.9" cy="220.7" r="2.3"/><circle cx="397.8" cy="223.4" r="2.3"/><circle cx="402.3" cy="225.2" r="2.3"/><circle cx="409.1" cy="222.5" r="2.3"/><circle cx="400.2" cy="233.7" r="2.3"/><circle cx="392.7" cy="235.1" r="2.3"/><circle cx="391.2" cy="239.1" r="2.3"/><circle cx="430.1" cy="216.2" r="2.3"/><circle cx="434" cy="227.5" r="2.3"/><circle cx="418.9" cy="234.1" r="2.3"/><circle cx="415.8" cy="235.9" r="2.3"/><circle cx="410.8" cy="238.2" r="2.3"/><circle cx="410" cy="243.9" r="2.3"/><circle cx="416.7" cy="248.5" r="2.3"/><circle cx="414.9" cy="251.5" r="2.3"/><circle cx="418.5" cy="255.6" r="2.3"/><circle cx="401.9" cy="251" r="2.3"/><circle cx="406.7" cy="260.1" r="2.3"/><circle cx="397.1" cy="267.9" r="2.3"/><circle cx="393" cy="257.8" r="2.3"/><circle cx="383.8" cy="299.7" r="2.3"/><circle cx="386.1" cy="335.6" r="2.3"/><circle cx="393.1" cy="345.9" r="2.3"/><circle cx="285.4" cy="195.9" r="2.3"/><circle cx="168.3" cy="254.7" r="2.3"/><circle cx="203.1" cy="348" r="2.3"/><circle cx="144.2" cy="219" r="2.3"/><circle cx="45" cy="267" r="2.3"/><circle cx="191.9" cy="202.6" r="2.3"/><circle cx="205.3" cy="236.6" r="2.3"/><circle cx="202.5" cy="270.8" r="2.3"/><circle cx="173.9" cy="327.3" r="2.3"/><circle cx="339.1" cy="98.6" r="2.3"/><circle cx="327.6" cy="112.8" r="2.3"/><circle cx="322.8" cy="115.4" r="2.3"/><circle cx="329.1" cy="121.9" r="2.3"/><circle cx="343.3" cy="122.5" r="2.3"/><circle cx="365" cy="66.3" r="2.3"/><circle cx="248.2" cy="145.6" r="2.3"/><circle cx="310.5" cy="152.9" r="2.3"/><circle cx="316.2" cy="149.2" r="2.3"/><circle cx="304" cy="156.1" r="2.3"/><circle cx="292.7" cy="157.8" r="2.3"/><circle cx="260.2" cy="157.8" r="2.3"/><circle cx="255.7" cy="182.8" r="2.3"/><circle cx="273.9" cy="190.9" r="2.3"/><circle cx="257.4" cy="192.4" r="2.3"/><circle cx="277.7" cy="207.4" r="2.3"/><circle cx="237.1" cy="202.7" r="2.3"/><circle cx="237.1" cy="235.7" r="2.3"/><circle cx="279.4" cy="238.9" r="2.3"/><circle cx="236.4" cy="300.9" r="2.3"/><circle cx="264.9" cy="306.3" r="2.3"/><circle cx="309.8" cy="292" r="2.3"/><circle cx="297" cy="336.2" r="2.3"/><circle cx="45" cy="275" r="2.3"/><circle cx="45" cy="319.3" r="2.3"/><circle cx="442.5" cy="52.1" r="2.3"/><circle cx="454.3" cy="75.2" r="2.3"/><circle cx="482.3" cy="78.8" r="2.3"/><circle cx="474.1" cy="82" r="2.3"/><circle cx="470.3" cy="88.4" r="2.3"/><circle cx="477.4" cy="95.9" r="2.3"/><circle cx="473.7" cy="184.1" r="2.3"/><circle cx="471.2" cy="199.3" r="2.3"/><circle cx="456.9" cy="199.8" r="2.3"/><circle cx="471.9" cy="212.8" r="2.3"/><circle cx="448.7" cy="231" r="2.3"/><circle cx="440.7" cy="264.2" r="2.3"/><circle cx="446.9" cy="266.7" r="2.3"/><circle cx="467.4" cy="266.7" r="2.3"/><circle cx="474.1" cy="269.4" r="2.3"/><circle cx="428" cy="252.9" r="2.3"/><circle cx="429.2" cy="301.6" r="2.3"/><circle cx="420" cy="299.9" r="2.3"/><circle cx="406.2" cy="304.3" r="2.3"/><circle cx="403.7" cy="325.6" r="2.3"/><circle cx="407.5" cy="296" r="2.3"/><circle cx="316.7" cy="140.2" r="2.3"/><circle cx="326.9" cy="155.3" r="2.3"/><circle cx="330.5" cy="148.2" r="2.3"/><circle cx="335.8" cy="148.2" r="2.3"/><circle cx="337.6" cy="158" r="2.3"/><circle cx="332.2" cy="164.2" r="2.3"/><circle cx="323.3" cy="165.1" r="2.3"/><circle cx="312.6" cy="170.5" r="2.3"/><circle cx="321.5" cy="169.6" r="2.3"/><circle cx="301.9" cy="177.6" r="2.3"/><circle cx="322.4" cy="176.7" r="2.3"/><circle cx="329.6" cy="182.9" r="2.3"/><circle cx="317.1" cy="190.1" r="2.3"/><circle cx="338.5" cy="173.1" r="2.3"/><circle cx="334" cy="183.8" r="2.3"/><circle cx="332.2" cy="130.3" r="2.3"/><circle cx="342" cy="130.3" r="2.3"/><circle cx="342.9" cy="125" r="2.3"/><circle cx="351.8" cy="142.8" r="2.3"/><circle cx="351" cy="163.3" r="2.3"/><circle cx="352.7" cy="166.9" r="2.3"/><circle cx="358.1" cy="166.9" r="2.3"/><circle cx="368.8" cy="168.7" r="2.3"/><circle cx="370.6" cy="131.2" r="2.3"/><circle cx="372.3" cy="161.5" r="2.3"/><circle cx="316.7" cy="226.9" r="2.3"/><circle cx="329.2" cy="226" r="2.3"/><circle cx="341.7" cy="230.5" r="2.3"/><circle cx="304.6" cy="234.1" r="2.3"/><circle cx="312.6" cy="251" r="2.3"/><circle cx="318" cy="272.4" r="2.3"/><circle cx="322.4" cy="277.7" r="2.3"/><circle cx="319.8" cy="281.3" r="2.3"/><circle cx="340.3" cy="282.2" r="2.3"/><circle cx="289.5" cy="284.9" r="2.3"/><circle cx="379.5" cy="297.3" r="2.3"/><circle cx="376.8" cy="306.3" r="2.3"/><circle cx="377" cy="318" r="2.3"/><circle cx="390.9" cy="308.4" r="2.3"/><circle cx="396.3" cy="303.1" r="2.3"/><circle cx="398.4" cy="323.4" r="2.3"/><circle cx="381.3" cy="334.1" r="2.3"/><circle cx="417.7" cy="317" r="2.3"/><circle cx="423" cy="232.5" r="2.3"/></g>
<g fill="#8b0000"><circle cx="372.2" cy="188.6" r="2.15"/><circle cx="399.1" cy="190.5" r="2.15"/><circle cx="385.2" cy="200.5" r="2.15"/><circle cx="383.6" cy="237.3" r="2.15"/><circle cx="360.8" cy="209" r="2.15"/><circle cx="386.4" cy="236" r="2.15"/><circle cx="358.9" cy="204.7" r="2.15"/><circle cx="387.5" cy="156.6" r="2.15"/><circle cx="385.1" cy="251.8" r="2.15"/><circle cx="372.4" cy="227.1" r="2.15"/><circle cx="360.4" cy="213.2" r="2.15"/><circle cx="385.3" cy="211.3" r="2.15"/><circle cx="387.5" cy="213.3" r="2.15"/><circle cx="388" cy="182.3" r="2.15"/><circle cx="350.6" cy="167.2" r="2.15"/><circle cx="365" cy="188.6" r="2.15"/><circle cx="384.9" cy="223.1" r="2.15"/><circle cx="380.8" cy="257.2" r="2.15"/><circle cx="380.6" cy="258.9" r="2.15"/><circle cx="367" cy="177" r="2.15"/><circle cx="371" cy="257.8" r="2.15"/><circle cx="375.9" cy="120.2" r="2.15"/><circle cx="375.8" cy="206.1" r="2.15"/><circle cx="376.5" cy="249.5" r="2.15"/><circle cx="381.3" cy="165" r="2.15"/><circle cx="370.5" cy="256.6" r="2.15"/><circle cx="358.8" cy="218.6" r="2.15"/><circle cx="391.1" cy="252.5" r="2.15"/><circle cx="364.1" cy="219.9" r="2.15"/><circle cx="356.8" cy="171.5" r="2.15"/><circle cx="359.6" cy="225.3" r="2.15"/><circle cx="386.3" cy="236.6" r="2.15"/><circle cx="353" cy="219.5" r="2.15"/><circle cx="366.4" cy="125" r="2.15"/><circle cx="383.1" cy="255.3" r="2.15"/><circle cx="382.6" cy="146.6" r="2.15"/><circle cx="387.2" cy="234.3" r="2.15"/><circle cx="388.7" cy="199.9" r="2.15"/><circle cx="361.5" cy="231.7" r="2.15"/><circle cx="360.9" cy="228.2" r="2.15"/><circle cx="388.1" cy="236.6" r="2.15"/><circle cx="379.7" cy="141.8" r="2.15"/><circle cx="357.8" cy="184.5" r="2.15"/><circle cx="377.8" cy="222.3" r="2.15"/><circle cx="385.4" cy="133.2" r="2.15"/><circle cx="392.8" cy="187.9" r="2.15"/><circle cx="369" cy="150.7" r="2.15"/><circle cx="384.5" cy="199.7" r="2.15"/><circle cx="403.6" cy="140" r="2.15"/><circle cx="394" cy="263.7" r="2.15"/><circle cx="377.5" cy="247.4" r="2.15"/><circle cx="385.3" cy="223.5" r="2.15"/><circle cx="390.4" cy="255.5" r="2.15"/><circle cx="395.2" cy="272.7" r="2.15"/><circle cx="362" cy="191.8" r="2.15"/><circle cx="367.4" cy="157.5" r="2.15"/><circle cx="396.4" cy="212.8" r="2.15"/><circle cx="371" cy="243.7" r="2.15"/><circle cx="389" cy="140.9" r="2.15"/><circle cx="393.6" cy="224.1" r="2.15"/><circle cx="374.9" cy="181.8" r="2.15"/><circle cx="364.4" cy="230" r="2.15"/><circle cx="392.7" cy="224.6" r="2.15"/><circle cx="376.5" cy="228.2" r="2.15"/><circle cx="398.2" cy="191.7" r="2.15"/><circle cx="394.3" cy="192.6" r="2.15"/><circle cx="377.4" cy="281.4" r="2.15"/><circle cx="384.8" cy="214" r="2.15"/><circle cx="383.2" cy="243.3" r="2.15"/><circle cx="402.7" cy="180.5" r="2.15"/><circle cx="378.7" cy="171.7" r="2.15"/><circle cx="363.9" cy="267.3" r="2.15"/><circle cx="369.6" cy="219.1" r="2.15"/><circle cx="376" cy="263.3" r="2.15"/><circle cx="390.2" cy="188.6" r="2.15"/><circle cx="384.4" cy="268.1" r="2.15"/><circle cx="393.3" cy="212.7" r="2.15"/><circle cx="405.8" cy="117.6" r="2.15"/><circle cx="388.1" cy="252.9" r="2.15"/><circle cx="378.4" cy="169.7" r="2.15"/><circle cx="375.4" cy="200.1" r="2.15"/><circle cx="366.5" cy="127.5" r="2.15"/><circle cx="350.2" cy="199" r="2.15"/><circle cx="362.6" cy="231.4" r="2.15"/><circle cx="374.8" cy="200.4" r="2.15"/><circle cx="377.8" cy="275.6" r="2.15"/><circle cx="371.6" cy="187.6" r="2.15"/><circle cx="370.3" cy="153" r="2.15"/><circle cx="354.8" cy="275.1" r="2.15"/><circle cx="394" cy="221.6" r="2.15"/><circle cx="370.4" cy="231.9" r="2.15"/><circle cx="373.5" cy="208" r="2.15"/><circle cx="393.3" cy="178.5" r="2.15"/><circle cx="369.2" cy="258.5" r="2.15"/><circle cx="387.7" cy="178.9" r="2.15"/><circle cx="385.5" cy="170.7" r="2.15"/><circle cx="365.6" cy="265.9" r="2.15"/><circle cx="355.8" cy="168.4" r="2.15"/><circle cx="404.2" cy="128.9" r="2.15"/><circle cx="361.6" cy="157.9" r="2.15"/><circle cx="376.8" cy="131.2" r="2.15"/><circle cx="390.6" cy="232.3" r="2.15"/><circle cx="381.1" cy="198.6" r="2.15"/><circle cx="379.4" cy="206.8" r="2.15"/><circle cx="351.8" cy="274.4" r="2.15"/><circle cx="387.2" cy="144.4" r="2.15"/><circle cx="380" cy="267.2" r="2.15"/><circle cx="363.1" cy="163.9" r="2.15"/><circle cx="387.7" cy="197.8" r="2.15"/><circle cx="379.8" cy="221.9" r="2.15"/><circle cx="363.5" cy="248.4" r="2.15"/><circle cx="377.4" cy="186.6" r="2.15"/><circle cx="378.4" cy="258.4" r="2.15"/><circle cx="374.3" cy="273" r="2.15"/><circle cx="381.2" cy="236.6" r="2.15"/><circle cx="363.6" cy="186.3" r="2.15"/><circle cx="376.3" cy="243.7" r="2.15"/><circle cx="377.3" cy="174.7" r="2.15"/><circle cx="386.2" cy="249.8" r="2.15"/><circle cx="382.7" cy="159.4" r="2.15"/><circle cx="386.8" cy="208.1" r="2.15"/><circle cx="393.6" cy="229.8" r="2.15"/><circle cx="394.1" cy="172.1" r="2.15"/><circle cx="377.7" cy="200.5" r="2.15"/><circle cx="379.2" cy="265.1" r="2.15"/><circle cx="380.6" cy="243.9" r="2.15"/><circle cx="387.8" cy="242.6" r="2.15"/><circle cx="367.9" cy="240.2" r="2.15"/><circle cx="378.6" cy="203.5" r="2.15"/><circle cx="362" cy="213.1" r="2.15"/><circle cx="396.1" cy="233.6" r="2.15"/><circle cx="384.1" cy="134.6" r="2.15"/><circle cx="397.5" cy="260" r="2.15"/><circle cx="370.5" cy="264.8" r="2.15"/><circle cx="403.9" cy="138.3" r="2.15"/><circle cx="360" cy="253.6" r="2.15"/><circle cx="366.2" cy="162.4" r="2.15"/><circle cx="402" cy="240.8" r="2.15"/><circle cx="398.8" cy="132.7" r="2.15"/><circle cx="412.2" cy="131.7" r="2.15"/><circle cx="398.7" cy="210.5" r="2.15"/><circle cx="390.1" cy="182.2" r="2.15"/><circle cx="392.4" cy="255.7" r="2.15"/><circle cx="375.4" cy="260.6" r="2.15"/><circle cx="371.8" cy="239.5" r="2.15"/><circle cx="381.9" cy="140.3" r="2.15"/><circle cx="391.5" cy="225.9" r="2.15"/><circle cx="358.6" cy="120.6" r="2.15"/><circle cx="376.2" cy="251.3" r="2.15"/><circle cx="391.4" cy="258.9" r="2.15"/><circle cx="364.1" cy="207.6" r="2.15"/><circle cx="373.2" cy="260" r="2.15"/><circle cx="371.8" cy="210.5" r="2.15"/><circle cx="362.7" cy="187.7" r="2.15"/><circle cx="346" cy="197.7" r="2.15"/><circle cx="386" cy="221.8" r="2.15"/><circle cx="372" cy="209.7" r="2.15"/><circle cx="371.2" cy="262.8" r="2.15"/><circle cx="397.8" cy="126.6" r="2.15"/><circle cx="395.7" cy="224.2" r="2.15"/><circle cx="364.9" cy="161.5" r="2.15"/><circle cx="385.8" cy="124.4" r="2.15"/><circle cx="386.7" cy="208.7" r="2.15"/><circle cx="365.8" cy="203.4" r="2.15"/><circle cx="381.2" cy="134.5" r="2.15"/><circle cx="386.4" cy="178.7" r="2.15"/><circle cx="386" cy="223" r="2.15"/><circle cx="380.1" cy="175.4" r="2.15"/><circle cx="386.1" cy="238.8" r="2.15"/><circle cx="376.2" cy="229.4" r="2.15"/><circle cx="367.4" cy="265.9" r="2.15"/><circle cx="392.5" cy="237.4" r="2.15"/><circle cx="394.2" cy="128.7" r="2.15"/><circle cx="393.1" cy="224.2" r="2.15"/><circle cx="380.4" cy="183.8" r="2.15"/><circle cx="362.5" cy="192.4" r="2.15"/><circle cx="373.9" cy="218" r="2.15"/><circle cx="376.4" cy="216.7" r="2.15"/><circle cx="364.5" cy="207.5" r="2.15"/><circle cx="380.4" cy="209" r="2.15"/><circle cx="370.4" cy="268.7" r="2.15"/><circle cx="384" cy="196.7" r="2.15"/><circle cx="393.4" cy="226.4" r="2.15"/><circle cx="376.1" cy="243.7" r="2.15"/><circle cx="392.5" cy="168.3" r="2.15"/><circle cx="357.2" cy="127" r="2.15"/><circle cx="400.3" cy="230.9" r="2.15"/><circle cx="384.6" cy="242.4" r="2.15"/><circle cx="363.5" cy="198.9" r="2.15"/><circle cx="388.3" cy="187.3" r="2.15"/><circle cx="400.5" cy="233.2" r="2.15"/><circle cx="395.8" cy="117.8" r="2.15"/><circle cx="382" cy="184.7" r="2.15"/><circle cx="356" cy="220.2" r="2.15"/><circle cx="384.4" cy="225.8" r="2.15"/><circle cx="355.5" cy="204.5" r="2.15"/><circle cx="399.4" cy="215.4" r="2.15"/><circle cx="395.2" cy="232" r="2.15"/><circle cx="352.7" cy="189.2" r="2.15"/><circle cx="367.8" cy="262.2" r="2.15"/><circle cx="367.1" cy="237.4" r="2.15"/><circle cx="367.5" cy="172.9" r="2.15"/><circle cx="395.4" cy="225.9" r="2.15"/><circle cx="381.1" cy="210.2" r="2.15"/><circle cx="394.6" cy="219.1" r="2.15"/><circle cx="376.8" cy="236.6" r="2.15"/><circle cx="385.2" cy="174.2" r="2.15"/><circle cx="377.8" cy="199.4" r="2.15"/><circle cx="382.7" cy="243.5" r="2.15"/><circle cx="374.1" cy="184.4" r="2.15"/><circle cx="386.5" cy="263.7" r="2.15"/><circle cx="392.2" cy="265" r="2.15"/><circle cx="361.4" cy="190.2" r="2.15"/><circle cx="384.5" cy="206.9" r="2.15"/><circle cx="383.5" cy="186.1" r="2.15"/><circle cx="376.5" cy="210.5" r="2.15"/><circle cx="360.3" cy="241.1" r="2.15"/><circle cx="363.1" cy="270" r="2.15"/><circle cx="386.4" cy="252.5" r="2.15"/><circle cx="375.5" cy="134.5" r="2.15"/><circle cx="357.8" cy="241.9" r="2.15"/><circle cx="360.8" cy="259.3" r="2.15"/><circle cx="378.3" cy="256.1" r="2.15"/><circle cx="376.9" cy="264.4" r="2.15"/><circle cx="392" cy="222.6" r="2.15"/><circle cx="378.3" cy="181.1" r="2.15"/><circle cx="387.1" cy="171.6" r="2.15"/><circle cx="364.5" cy="193.7" r="2.15"/><circle cx="373" cy="169.2" r="2.15"/><circle cx="376.5" cy="229.8" r="2.15"/><circle cx="361.6" cy="206.7" r="2.15"/><circle cx="394.3" cy="222.5" r="2.15"/><circle cx="374.6" cy="226.1" r="2.15"/><circle cx="394.1" cy="181.3" r="2.15"/><circle cx="397.6" cy="138.3" r="2.15"/><circle cx="359.3" cy="272" r="2.15"/><circle cx="355.9" cy="231.9" r="2.15"/><circle cx="387.3" cy="255.2" r="2.15"/><circle cx="387.7" cy="197.9" r="2.15"/><circle cx="396" cy="200.6" r="2.15"/><circle cx="349.8" cy="226.8" r="2.15"/><circle cx="378.5" cy="267" r="2.15"/><circle cx="395.2" cy="238.6" r="2.15"/><circle cx="373.3" cy="201" r="2.15"/><circle cx="397.5" cy="200.1" r="2.15"/><circle cx="370.6" cy="277.4" r="2.15"/><circle cx="374.6" cy="179.1" r="2.15"/><circle cx="358.7" cy="236.7" r="2.15"/><circle cx="364.3" cy="151.8" r="2.15"/><circle cx="394.4" cy="241.5" r="2.15"/><circle cx="371.2" cy="232.4" r="2.15"/><circle cx="391" cy="271.9" r="2.15"/><circle cx="376.3" cy="201.1" r="2.15"/><circle cx="378.3" cy="168.6" r="2.15"/><circle cx="385.7" cy="187.7" r="2.15"/><circle cx="413.4" cy="185.6" r="2.15"/><circle cx="407.9" cy="147.7" r="2.15"/><circle cx="388.6" cy="213.5" r="2.15"/><circle cx="411.4" cy="203" r="2.15"/><circle cx="426.4" cy="196.4" r="2.15"/><circle cx="392.3" cy="253.6" r="2.15"/><circle cx="422.3" cy="141" r="2.15"/><circle cx="435" cy="133.2" r="2.15"/><circle cx="410.2" cy="185.2" r="2.15"/><circle cx="394.6" cy="186.5" r="2.15"/><circle cx="403.4" cy="190.3" r="2.15"/><circle cx="381.6" cy="239.3" r="2.15"/><circle cx="405.1" cy="186.5" r="2.15"/><circle cx="416.2" cy="154.8" r="2.15"/><circle cx="457.5" cy="130.7" r="2.15"/><circle cx="478.4" cy="117.6" r="2.15"/><circle cx="462.6" cy="148.8" r="2.15"/><circle cx="396.1" cy="248.8" r="2.15"/><circle cx="447.6" cy="168.3" r="2.15"/><circle cx="456.9" cy="128" r="2.15"/><circle cx="433.7" cy="148.1" r="2.15"/><circle cx="416.4" cy="140.2" r="2.15"/><circle cx="428.5" cy="149.6" r="2.15"/><circle cx="387.4" cy="243.9" r="2.15"/><circle cx="411.4" cy="230" r="2.15"/><circle cx="416.1" cy="172.7" r="2.15"/><circle cx="414.6" cy="180.2" r="2.15"/><circle cx="447.5" cy="150.5" r="2.15"/><circle cx="423.3" cy="204" r="2.15"/><circle cx="401.3" cy="236.9" r="2.15"/><circle cx="445" cy="156.7" r="2.15"/><circle cx="399.8" cy="139.8" r="2.15"/><circle cx="412.9" cy="156.3" r="2.15"/><circle cx="457.2" cy="116.9" r="2.15"/><circle cx="441.3" cy="147.1" r="2.15"/><circle cx="476" cy="127.8" r="2.15"/><circle cx="427" cy="139.1" r="2.15"/><circle cx="459.6" cy="146.1" r="2.15"/><circle cx="439.4" cy="156.3" r="2.15"/><circle cx="391.6" cy="259.2" r="2.15"/><circle cx="421.6" cy="121.4" r="2.15"/><circle cx="455.3" cy="173.1" r="2.15"/><circle cx="418" cy="184.7" r="2.15"/><circle cx="393.6" cy="252.2" r="2.15"/><circle cx="444.4" cy="180.2" r="2.15"/><circle cx="383.3" cy="284.1" r="2.15"/><circle cx="345.8" cy="313.1" r="2.15"/><circle cx="341.4" cy="288.3" r="2.15"/><circle cx="380.9" cy="313.8" r="2.15"/><circle cx="330.6" cy="307.8" r="2.15"/><circle cx="375.5" cy="300.9" r="2.15"/><circle cx="369.4" cy="299.9" r="2.15"/><circle cx="367.1" cy="299" r="2.15"/><circle cx="219.1" cy="158" r="2.15"/><circle cx="255.3" cy="136.3" r="2.15"/><circle cx="354" cy="179.7" r="2.15"/><circle cx="329" cy="188.4" r="2.15"/><circle cx="358.3" cy="187.4" r="2.15"/><circle cx="373.3" cy="111.1" r="2.15"/><circle cx="375.5" cy="113.4" r="2.15"/><circle cx="362.3" cy="125.9" r="2.15"/><circle cx="366.5" cy="128.9" r="2.15"/><circle cx="377.8" cy="124.8" r="2.15"/><circle cx="363.9" cy="138.4" r="2.15"/><circle cx="418.8" cy="119.1" r="2.15"/><circle cx="417" cy="133.9" r="2.15"/><circle cx="380.4" cy="173.5" r="2.15"/><circle cx="393.6" cy="170.4" r="2.15"/><circle cx="480.3" cy="101.8" r="2.15"/><circle cx="439" cy="124.9" r="2.15"/><circle cx="362.2" cy="192.4" r="2.15"/><circle cx="365.8" cy="191.8" r="2.15"/><circle cx="344" cy="202" r="2.15"/><circle cx="366.6" cy="200.4" r="2.15"/><circle cx="369.7" cy="203.9" r="2.15"/><circle cx="362.7" cy="207.9" r="2.15"/><circle cx="367.9" cy="210.5" r="2.15"/><circle cx="332.2" cy="216.8" r="2.15"/><circle cx="366.6" cy="221.8" r="2.15"/><circle cx="378.2" cy="196.3" r="2.15"/><circle cx="383.6" cy="221.2" r="2.15"/><circle cx="377.3" cy="222.7" r="2.15"/><circle cx="342.2" cy="237.6" r="2.15"/><circle cx="352.7" cy="239.1" r="2.15"/><circle cx="350.6" cy="242.3" r="2.15"/><circle cx="331" cy="241.7" r="2.15"/><circle cx="348.8" cy="249.8" r="2.15"/><circle cx="371.6" cy="240" r="2.15"/><circle cx="378.2" cy="238.2" r="2.15"/><circle cx="387.1" cy="253.7" r="2.15"/><circle cx="368.4" cy="262.6" r="2.15"/><circle cx="356.8" cy="265.4" r="2.15"/><circle cx="337.2" cy="271.7" r="2.15"/><circle cx="428.3" cy="186.1" r="2.15"/><circle cx="402.5" cy="186.1" r="2.15"/><circle cx="393.9" cy="197.2" r="2.15"/><circle cx="411.4" cy="218.9" r="2.15"/><circle cx="395.3" cy="227.1" r="2.15"/><circle cx="401.9" cy="229.3" r="2.15"/><circle cx="401.4" cy="253.7" r="2.15"/><circle cx="368.1" cy="278.5" r="2.15"/><circle cx="346.2" cy="284" r="2.15"/><circle cx="341.9" cy="288.5" r="2.15"/><circle cx="341.2" cy="338.1" r="2.15"/><circle cx="354.1" cy="333.1" r="2.15"/><circle cx="260.4" cy="208.4" r="2.15"/><circle cx="238.4" cy="221.4" r="2.15"/><circle cx="237.7" cy="226.5" r="2.15"/><circle cx="210.6" cy="243.9" r="2.15"/><circle cx="215.9" cy="271.7" r="2.15"/><circle cx="268.5" cy="293.7" r="2.15"/><circle cx="274.3" cy="348" r="2.15"/><circle cx="166.2" cy="170" r="2.15"/><circle cx="189.6" cy="158.4" r="2.15"/><circle cx="201.3" cy="147.8" r="2.15"/><circle cx="115.8" cy="177.7" r="2.15"/><circle cx="162" cy="198.6" r="2.15"/><circle cx="161.4" cy="206.8" r="2.15"/><circle cx="178.5" cy="222.5" r="2.15"/><circle cx="209" cy="231.3" r="2.15"/><circle cx="88.7" cy="241.4" r="2.15"/><circle cx="152.5" cy="240.8" r="2.15"/><circle cx="148.6" cy="256.5" r="2.15"/><circle cx="174.8" cy="244.3" r="2.15"/><circle cx="181.9" cy="262.2" r="2.15"/><circle cx="172.5" cy="277.9" r="2.15"/><circle cx="130.6" cy="297.3" r="2.15"/><circle cx="150.5" cy="318.4" r="2.15"/><circle cx="83.5" cy="332.4" r="2.15"/><circle cx="258.3" cy="98.6" r="2.15"/><circle cx="310" cy="49.2" r="2.15"/><circle cx="352.5" cy="47.8" r="2.15"/><circle cx="365" cy="39.2" r="2.15"/><circle cx="359" cy="80.6" r="2.15"/><circle cx="335.6" cy="106.3" r="2.15"/><circle cx="315.4" cy="118.5" r="2.15"/><circle cx="353.3" cy="110" r="2.15"/><circle cx="363.3" cy="123.4" r="2.15"/><circle cx="264.5" cy="135.3" r="2.15"/><circle cx="272" cy="136.4" r="2.15"/><circle cx="242.4" cy="141.7" r="2.15"/><circle cx="258" cy="146" r="2.15"/><circle cx="288.9" cy="141.1" r="2.15"/><circle cx="286.7" cy="148.2" r="2.15"/><circle cx="244.6" cy="160.6" r="2.15"/><circle cx="230.7" cy="186.2" r="2.15"/><circle cx="255.9" cy="198" r="2.15"/><circle cx="244.6" cy="217.7" r="2.15"/><circle cx="255.3" cy="218.7" r="2.15"/><circle cx="290.6" cy="264.6" r="2.15"/><circle cx="237.7" cy="297.7" r="2.15"/><circle cx="252.1" cy="320.2" r="2.15"/><circle cx="372.5" cy="79" r="2.15"/><circle cx="378.5" cy="81.5" r="2.15"/><circle cx="385" cy="82.5" r="2.15"/><circle cx="436.3" cy="60.6" r="2.15"/><circle cx="433.5" cy="88.9" r="2.15"/><circle cx="482.1" cy="95.3" r="2.15"/><circle cx="486.6" cy="99.6" r="2.15"/><circle cx="467.1" cy="95.9" r="2.15"/><circle cx="341.1" cy="141" r="2.15"/><circle cx="348.3" cy="127.7" r="2.15"/><circle cx="353.6" cy="129.5" r="2.15"/><circle cx="355.4" cy="147.3" r="2.15"/><circle cx="355.4" cy="156.2" r="2.15"/><circle cx="360.8" cy="156.2" r="2.15"/><circle cx="368.8" cy="142.8" r="2.15"/><circle cx="378.6" cy="141.9" r="2.15"/><circle cx="310.8" cy="235" r="2.15"/><circle cx="288.6" cy="260.8" r="2.15"/><circle cx="341.1" cy="291.1" r="2.15"/><circle cx="350.1" cy="289.3" r="2.15"/><circle cx="367.9" cy="298.2" r="2.15"/><circle cx="367" cy="302.7" r="2.15"/><circle cx="383.9" cy="300.9" r="2.15"/><circle cx="382.1" cy="286.6" r="2.15"/><circle cx="372.3" cy="281.3" r="2.15"/><circle cx="363.4" cy="280.4" r="2.15"/><circle cx="336.4" cy="329.8" r="2.15"/><circle cx="333.2" cy="335.2" r="2.15"/><circle cx="356.7" cy="335.2" r="2.15"/><circle cx="365.3" cy="335.2" r="2.15"/><circle cx="362.1" cy="325.5" r="2.15"/><circle cx="383.4" cy="318" r="2.15"/><circle cx="379.2" cy="326.6" r="2.15"/><circle cx="383.4" cy="329.8" r="2.15"/><circle cx="396.3" cy="290.2" r="2.15"/></g>
<g fill="#32cd32"><path d="M162 152.8L173.4 152.8L167.7 163.8Z"/><path d="M259.6 154.2L271 154.2L265.3 165.2Z"/><path d="M337.1 185.3L348.5 185.3L342.8 196.3Z"/><path d="M324.8 197.9L336.2 197.9L330.5 208.9Z"/><path d="M318.5 243.4L329.9 243.4L324.2 254.4Z"/><path d="M339.7 269.7L351.1 269.7L345.4 280.7Z"/><path d="M267 216.8L278.4 216.8L272.7 227.8Z"/><path d="M218.8 229.1L230.2 229.1L224.5 240.1Z"/><path d="M191.6 275.5L203 275.5L197.3 286.5Z"/><path d="M91.8 250.9L103.2 250.9L97.5 261.9Z"/><path d="M154.5 342.5L165.9 342.5L160.2 353.5Z"/><path d="M191.1 22.3L202.5 22.3L196.8 33.3Z"/><path d="M133.4 119L144.8 119L139.1 130Z"/><path d="M128.3 142.3L139.7 142.3L134 153.3Z"/><path d="M130 151.7L141.4 151.7L135.7 162.7Z"/><path d="M171.4 185.1L182.8 185.1L177.1 196.1Z"/><path d="M131.2 223L142.6 223L136.9 234Z"/><path d="M89.2 243L100.6 243L94.9 254Z"/><path d="M191.1 324.6L202.5 324.6L196.8 335.6Z"/><path d="M94.1 326.9L105.5 326.9L99.8 337.9Z"/><path d="M107.2 327.5L118.6 327.5L112.9 338.5Z"/><path d="M118.6 327.5L130 327.5L124.3 338.5Z"/><path d="M242.1 45.1L253.5 45.1L247.8 56.1Z"/><path d="M266.3 115.9L277.7 115.9L272 126.9Z"/><path d="M358.2 15.2L369.6 15.2L363.9 26.2Z"/><path d="M275.7 159.1L287.1 159.1L281.4 170.1Z"/><path d="M312 159.8L323.4 159.8L317.7 170.8Z"/><path d="M268.8 214.3L280.2 214.3L274.5 225.3Z"/><path d="M216.4 229L227.8 229L222.1 240Z"/><path d="M268.2 286.9L279.6 286.9L273.9 297.9Z"/><path d="M318 309.3L329.4 309.3L323.7 320.3Z"/><path d="M327.5 282.6L338.9 282.6L333.2 293.6Z"/><path d="M327.5 291.2L338.9 291.2L333.2 302.2Z"/><path d="M351 274L362.4 274L356.7 285Z"/><path d="M322.1 263.4L333.5 263.4L327.8 274.4Z"/><path d="M329.6 256.9L341 256.9L335.3 267.9Z"/><path d="M339.2 251.6L350.6 251.6L344.9 262.6Z"/><path d="M341.4 243L352.8 243L347.1 254Z"/><path d="M336 235.5L347.4 235.5L341.7 246.5Z"/><path d="M357.4 243L368.8 243L363.1 254Z"/><path d="M360.6 258L372 258L366.3 269Z"/><path d="M312.5 270.8L323.9 270.8L318.2 281.8Z"/><path d="M344.6 235.5L356 235.5L350.3 246.5Z"/><path d="M342.5 223.8L353.9 223.8L348.2 234.8Z"/><path d="M363.8 221.6L375.2 221.6L369.5 232.6Z"/><path d="M311.6 274L323 274L317.3 285Z"/><path d="M315.4 254.8L326.8 254.8L321.1 265.8Z"/><path d="M319.3 264.5L330.7 264.5L325 275.5Z"/><path d="M348.8 133.8L360.2 133.8L354.5 144.8Z"/><path d="M360.9 143.6L372.3 143.6L366.6 154.6Z"/><path d="M342.9 173.5L354.3 173.5L348.6 184.5Z"/><path d="M351.5 181.9L362.9 181.9L357.2 192.9Z"/><path d="M351.5 194.4L362.9 194.4L357.2 205.4Z"/><path d="M332.8 195.3L344.2 195.3L338.5 206.3Z"/><path d="M326.5 195.3L337.9 195.3L332.2 206.3Z"/><path d="M301.6 207.7L313 207.7L307.3 218.7Z"/><path d="M366.6 209.5L378 209.5L372.3 220.5Z"/><path d="M347.9 212.2L359.3 212.2L353.6 223.2Z"/><path d="M378.2 182.8L389.6 182.8L383.9 193.8Z"/><path d="M340.8 216.6L352.2 216.6L346.5 227.6Z"/><path d="M336.3 206.3L347.7 206.3L342 217.3Z"/><path d="M340.8 219.7L352.2 219.7L346.5 230.7Z"/><path d="M364.9 224.1L376.3 224.1L370.6 235.1Z"/><path d="M327.4 237.5L338.8 237.5L333.1 248.5Z"/><path d="M339 237.5L350.4 237.5L344.7 248.5Z"/><path d="M348.8 233.9L360.2 233.9L354.5 244.9Z"/><path d="M355.9 231.2L367.3 231.2L361.6 242.2Z"/><path d="M345.3 254.4L356.7 254.4L351 265.4Z"/><path d="M347 269.6L358.4 269.6L352.7 280.6Z"/></g>
<g fill="#ff0000"><path d="M418.7 128.4L430.1 128.4L424.4 139.4Z"/><path d="M434.6 66.3L446 66.3L440.3 77.3Z"/><path d="M390.9 204.7L402.3 204.7L396.6 215.7Z"/><path d="M433.2 49.8L444.6 49.8L438.9 60.8Z"/><path d="M395.7 90.5L407.1 90.5L401.4 101.5Z"/><path d="M398.9 95.8L410.3 95.8L404.6 106.8Z"/><path d="M424.6 101.1L436 101.1L430.3 112.1Z"/><path d="M419.2 108.6L430.6 108.6L424.9 119.6Z"/><path d="M439.6 106.5L451 106.5L445.3 117.5Z"/><path d="M440.6 120.4L452 120.4L446.3 131.4Z"/><path d="M396.4 149.4L407.8 149.4L402.1 160.4Z"/><path d="M410.7 148L422.1 148L416.4 159Z"/></g>
<g fill="none" stroke="#808080" stroke-linejoin="round" stroke-linecap="butt">
<path d="M425.5 6L393 37L365 63.5L313 115L260 162L237.2 183.9L205 211.7L161.2 252.1L111 267.1L96 278.6L74.6 298.5L68.2 314.6L63.9 333.8L65 347.7" stroke-width="1.6"/>
<path d="M396.5 188L393.5 179L392.6 169.8L391 152.9L384.2 137.6L376 132L369.3 130.4L354 131.7L330.4 144L306.7 150.4L264.3 183.9L240 201.2L178.7 253.7L142 273.3L121.7 269.2L98.1 277.8L84.2 281.4L74.6 298.5L76.1 314.6L76.7 331.7L82.1 342.4L86.4 347.7" stroke-width="1.6"/>
<path d="M353.9 243.1L367.8 222.8L368.9 213.2L366.7 198.2L366.1 183.2L361.4 176.8L352.8 171.5L343.5 169.5L335.5 169.3L315 173.4L298 184L240 223L185.5 252L142 274.3L93.9 289.3L85.3 309.2L82.5 329.5L83.2 347.7" stroke-width="1.6"/>
<path d="M446.6 5.1L449 12.6L449 33L447.6 60.3L446 71.8L441.3 91.1L436 110.3L430.6 127.4L426.4 140.3L417.8 153.1L404 176L390 197" stroke-width="1.6"/>
<path d="M353.9 243.1L367.8 227L382.8 206.8L397.8 186.4L411.4 166L422 144L432.8 131.7L440.3 124.2L447.7 119.9L454.2 114.6L462.7 100.7L471.3 87.9L475.6 81.5L478.3 80L479.8 84.7L478.8 97.5L475.6 114.6L471.3 129.6L468.1 139.2" stroke-width="1.6"/>
<path d="M360 235L380 210L400 183L417.8 168.1L428.5 155.3L437.1 143.5L445.6 133.9L449.9 132.8L452 138.1L451 151L448.8 163.8L446 172.4" stroke-width="1.6"/>
<path d="M370 222L395 190L413.5 172.4L422.1 163.8L430.6 157.4L436 156.3L438.1 161.7L438.1 170.2L436 178.8" stroke-width="1.6"/>
<path d="M476.6 60L469 69L462.7 79.3L452 97.5L441.3 116.8L430.6 133.9L417.8 153.1L410.6 167L397.8 186.4L382.8 206.8L367.8 227L353.9 243.1" stroke-width="3.0"/>
<path d="M502.3 69.7L492.7 91.1L484.1 111.4L475.6 129.6L464.9 148.8L454.2 166L447 179L434.1 197.1L419.1 219.6L404.2 241L391.3 258L381.7 267.7" stroke-width="3.0"/>
<path d="M189.6 210.5L230 220L280 231.4L310 240L330 247L350.3 256.1L370.6 268L387.6 279.9L402.8 295.1L411.3 303.9L418.5 317" stroke-width="3.0"/>
</g>
</g>
<g fill="#008000" font-size="15.3">
<text transform="translate(476.6 61) rotate(-59)">TAEHB</text>
<text transform="translate(504 77.5) rotate(-70)">ZAEHB</text>
<text transform="translate(387 279) rotate(46.5)">ZAHeMS</text>
</g>
<rect x="61.2" y="11.6" width="79.49999999999999" height="108.6" rx="2.8" fill="#fff" fill-opacity="0.8" stroke="#d2d2d2" stroke-width="1.4"/>
<path d="M71.6 21h12.4M77.8 14.8v12.4" stroke="#a9a9a9" stroke-width="1" fill="none"/>
<g fill="#000"><circle cx="77.8" cy="21" r="2.3"/></g>
<text x="100.4" y="25.2" font-size="11.6">pHe</text>
<path d="M71.6 38.8h12.4M77.8 32.6v12.4" stroke="#a9a9a9" stroke-width="1" fill="none"/>
<g fill="#8b0000"><circle cx="77.8" cy="38.8" r="2.15"/></g>
<text x="100.4" y="43" font-size="11.6">wHe</text>
<path d="M71.6 56.7h12.4M77.8 50.5v12.4" stroke="#a9a9a9" stroke-width="1" fill="none"/>
<g fill="#32cd32"><path d="M72.1 51.2L83.5 51.2L77.8 62.2Z"/></g>
<text x="100.4" y="60.9" font-size="11.6">iHe-1</text>
<path d="M71.6 74.5h12.4M77.8 68.3v12.4" stroke="#a9a9a9" stroke-width="1" fill="none"/>
<g fill="#ff0000"><path d="M72.1 69L83.5 69L77.8 80Z"/></g>
<text x="100.4" y="78.7" font-size="11.6">iHe-2</text>
<path d="M71.6 92.4h12.4M77.8 86.2v12.4" stroke="#a9a9a9" stroke-width="1" fill="none"/>
<g fill="#0000ff"><circle cx="77.8" cy="92.4" r="4"/></g>
<text x="100.4" y="96.6" font-size="11.6">eHe-1</text>
<path d="M71.6 110.2h12.4M77.8 104v12.4" stroke="#a9a9a9" stroke-width="1" fill="none"/>
<g fill="#ff00ff"><circle cx="77.8" cy="110.2" r="4"/></g>
<text x="100.4" y="114.4" font-size="11.6">eHe-2</text>
<rect x="55.3" y="5.8" width="504.90000000000003" height="341.59999999999997" fill="none" stroke="#000" stroke-width="1.35"/>
<path d="M546 347.4v-5.6M546 5.8v5.6M510.4 347.4v-5.6M510.4 5.8v5.6M474.9 347.4v-5.6M474.9 5.8v5.6M439.3 347.4v-5.6M439.3 5.8v5.6M403.8 347.4v-5.6M403.8 5.8v5.6M368.2 347.4v-5.6M368.2 5.8v5.6M332.6 347.4v-5.6M332.6 5.8v5.6M297.1 347.4v-5.6M297.1 5.8v5.6M261.5 347.4v-5.6M261.5 5.8v5.6M226 347.4v-5.6M226 5.8v5.6M190.4 347.4v-5.6M190.4 5.8v5.6M154.9 347.4v-5.6M154.9 5.8v5.6M119.3 347.4v-5.6M119.3 5.8v5.6M83.7 347.4v-5.6M83.7 5.8v5.6M55.3 5.8h5.6M560.2 5.8h-5.6M55.3 36.9h5.6M560.2 36.9h-5.6M55.3 67.9h5.6M560.2 67.9h-5.6M55.3 99h5.6M560.2 99h-5.6M55.3 130h5.6M560.2 130h-5.6M55.3 161.1h5.6M560.2 161.1h-5.6M55.3 192.1h5.6M560.2 192.1h-5.6M55.3 223.2h5.6M560.2 223.2h-5.6M55.3 254.2h5.6M560.2 254.2h-5.6M55.3 285.3h5.6M560.2 285.3h-5.6M55.3 316.3h5.6M560.2 316.3h-5.6M55.3 347.4h5.6M560.2 347.4h-5.6" stroke="#000" stroke-width="1.1" fill="none"/>
<path d="M553.1 347.4v-3.1M553.1 5.8v3.1M538.9 347.4v-3.1M538.9 5.8v3.1M531.8 347.4v-3.1M531.8 5.8v3.1M524.6 347.4v-3.1M524.6 5.8v3.1M517.5 347.4v-3.1M517.5 5.8v3.1M503.3 347.4v-3.1M503.3 5.8v3.1M496.2 347.4v-3.1M496.2 5.8v3.1M489.1 347.4v-3.1M489.1 5.8v3.1M482 347.4v-3.1M482 5.8v3.1M467.8 347.4v-3.1M467.8 5.8v3.1M460.6 347.4v-3.1M460.6 5.8v3.1M453.5 347.4v-3.1M453.5 5.8v3.1M446.4 347.4v-3.1M446.4 5.8v3.1M432.2 347.4v-3.1M432.2 5.8v3.1M425.1 347.4v-3.1M425.1 5.8v3.1M418 347.4v-3.1M418 5.8v3.1M410.9 347.4v-3.1M410.9 5.8v3.1M396.6 347.4v-3.1M396.6 5.8v3.1M389.5 347.4v-3.1M389.5 5.8v3.1M382.4 347.4v-3.1M382.4 5.8v3.1M375.3 347.4v-3.1M375.3 5.8v3.1M361.1 347.4v-3.1M361.1 5.8v3.1M354 347.4v-3.1M354 5.8v3.1M346.9 347.4v-3.1M346.9 5.8v3.1M339.8 347.4v-3.1M339.8 5.8v3.1M325.5 347.4v-3.1M325.5 5.8v3.1M318.4 347.4v-3.1M318.4 5.8v3.1M311.3 347.4v-3.1M311.3 5.8v3.1M304.2 347.4v-3.1M304.2 5.8v3.1M290 347.4v-3.1M290 5.8v3.1M282.9 347.4v-3.1M282.9 5.8v3.1M275.7 347.4v-3.1M275.7 5.8v3.1M268.6 347.4v-3.1M268.6 5.8v3.1M254.4 347.4v-3.1M254.4 5.8v3.1M247.3 347.4v-3.1M247.3 5.8v3.1M240.2 347.4v-3.1M240.2 5.8v3.1M233.1 347.4v-3.1M233.1 5.8v3.1M218.9 347.4v-3.1M218.9 5.8v3.1M211.7 347.4v-3.1M211.7 5.8v3.1M204.6 347.4v-3.1M204.6 5.8v3.1M197.5 347.4v-3.1M197.5 5.8v3.1M183.3 347.4v-3.1M183.3 5.8v3.1M176.2 347.4v-3.1M176.2 5.8v3.1M169.1 347.4v-3.1M169.1 5.8v3.1M162 347.4v-3.1M162 5.8v3.1M147.7 347.4v-3.1M147.7 5.8v3.1M140.6 347.4v-3.1M140.6 5.8v3.1M133.5 347.4v-3.1M133.5 5.8v3.1M126.4 347.4v-3.1M126.4 5.8v3.1M112.2 347.4v-3.1M112.2 5.8v3.1M105.1 347.4v-3.1M105.1 5.8v3.1M98 347.4v-3.1M98 5.8v3.1M90.9 347.4v-3.1M90.9 5.8v3.1M76.6 347.4v-3.1M76.6 5.8v3.1M69.5 347.4v-3.1M69.5 5.8v3.1M62.4 347.4v-3.1M62.4 5.8v3.1M55.3 12h3.1M560.2 12h-3.1M55.3 18.2h3.1M560.2 18.2h-3.1M55.3 24.4h3.1M560.2 24.4h-3.1M55.3 30.6h3.1M560.2 30.6h-3.1M55.3 43.1h3.1M560.2 43.1h-3.1M55.3 49.3h3.1M560.2 49.3h-3.1M55.3 55.5h3.1M560.2 55.5h-3.1M55.3 61.7h3.1M560.2 61.7h-3.1M55.3 74.1h3.1M560.2 74.1h-3.1M55.3 80.3h3.1M560.2 80.3h-3.1M55.3 86.5h3.1M560.2 86.5h-3.1M55.3 92.8h3.1M560.2 92.8h-3.1M55.3 105.2h3.1M560.2 105.2h-3.1M55.3 111.4h3.1M560.2 111.4h-3.1M55.3 117.6h3.1M560.2 117.6h-3.1M55.3 123.8h3.1M560.2 123.8h-3.1M55.3 136.2h3.1M560.2 136.2h-3.1M55.3 142.4h3.1M560.2 142.4h-3.1M55.3 148.7h3.1M560.2 148.7h-3.1M55.3 154.9h3.1M560.2 154.9h-3.1M55.3 167.3h3.1M560.2 167.3h-3.1M55.3 173.5h3.1M560.2 173.5h-3.1M55.3 179.7h3.1M560.2 179.7h-3.1M55.3 185.9h3.1M560.2 185.9h-3.1M55.3 198.3h3.1M560.2 198.3h-3.1M55.3 204.5h3.1M560.2 204.5h-3.1M55.3 210.8h3.1M560.2 210.8h-3.1M55.3 217h3.1M560.2 217h-3.1M55.3 229.4h3.1M560.2 229.4h-3.1M55.3 235.6h3.1M560.2 235.6h-3.1M55.3 241.8h3.1M560.2 241.8h-3.1M55.3 248h3.1M560.2 248h-3.1M55.3 260.4h3.1M560.2 260.4h-3.1M55.3 266.7h3.1M560.2 266.7h-3.1M55.3 272.9h3.1M560.2 272.9h-3.1M55.3 279.1h3.1M560.2 279.1h-3.1M55.3 291.5h3.1M560.2 291.5h-3.1M55.3 297.7h3.1M560.2 297.7h-3.1M55.3 303.9h3.1M560.2 303.9h-3.1M55.3 310.1h3.1M560.2 310.1h-3.1M55.3 322.6h3.1M560.2 322.6h-3.1M55.3 328.8h3.1M560.2 328.8h-3.1M55.3 335h3.1M560.2 335h-3.1M55.3 341.2h3.1M560.2 341.2h-3.1" stroke="#000" stroke-width="0.9" fill="none"/>
<g font-size="14.2" fill="#000">
<text x="49.3" y="11" text-anchor="end">4.4</text>
<text x="49.3" y="42.1" text-anchor="end">4.6</text>
<text x="49.3" y="73.1" text-anchor="end">4.8</text>
<text x="49.3" y="104.2" text-anchor="end">5.0</text>
<text x="49.3" y="135.2" text-anchor="end">5.2</text>
<text x="49.3" y="166.3" text-anchor="end">5.4</text>
<text x="49.3" y="197.3" text-anchor="end">5.6</text>
<text x="49.3" y="228.4" text-anchor="end">5.8</text>
<text x="49.3" y="259.4" text-anchor="end">6.0</text>
<text x="49.3" y="290.5" text-anchor="end">6.2</text>
<text x="49.3" y="321.5" text-anchor="end">6.4</text>
<text x="49.3" y="352.6" text-anchor="end">6.6</text>
<text x="83.7" y="364.6" text-anchor="middle">75</text>
<text x="119.3" y="364.6" text-anchor="middle">70</text>
<text x="154.9" y="364.6" text-anchor="middle">65</text>
<text x="190.4" y="364.6" text-anchor="middle">60</text>
<text x="226" y="364.6" text-anchor="middle">55</text>
<text x="261.5" y="364.6" text-anchor="middle">50</text>
<text x="297.1" y="364.6" text-anchor="middle">45</text>
<text x="332.6" y="364.6" text-anchor="middle">40</text>
<text x="368.2" y="364.6" text-anchor="middle">35</text>
<text x="403.8" y="364.6" text-anchor="middle">30</text>
<text x="439.3" y="364.6" text-anchor="middle">25</text>
<text x="474.9" y="364.6" text-anchor="middle">20</text>
<text x="510.4" y="364.6" text-anchor="middle">15</text>
<text x="546" y="364.6" text-anchor="middle">10</text>
</g>
<text transform="translate(14 176.6) rotate(-90)" font-size="15" text-anchor="middle">logg<tspan dx="2.6">(cm</tspan><tspan dx="2.5">s</tspan><tspan font-size="10.5" dy="-5.5">−2</tspan><tspan dy="5.5">)</tspan></text>
<text x="265" y="385.4" font-size="15">T<tspan font-size="10.5" dy="2.2">eff</tspan><tspan dy="-2.2" dx="3.5">(1000K)</tspan></text>
<g clip-path="url(#c1)">
<path d="M169.1 500.5H185.1M177.1 492.5V508.5M145.5 545.3H174.5M160 531.3V559.3M48.7 553.3H131.4M78.7 530.8V575.8M155.7 569.3H179.7M167.7 556.3V582.3M211.1 569H227.1M219.1 561V577M221 567H231M226 554V580M250.3 547.3H260.3M255.3 536.3V558.3M266.7 545.9H286.7M276.7 508.9V582.9M261.3 570.7H269.3M265.3 560.7V580.7M246.2 589H258.2M252.2 573V605M292.3 557.3H302.3M297.3 549.3V565.3M327.1 522.2H337.1M332.1 513.7V530.7M351.7 521.6H359.7M355.7 512.6V530.6M349.9 541.8H359.9M354.9 524.8V558.8M312 577.8H318M315 570.8V584.8M312 583.3H318M315 571.3V595.3M331.3 588.6H339.3M335.3 577.6V599.6M351 590.7H357M354 580.7V600.7M326 599.4H332M329 589.4V609.4M338.8 601.8H346.8M342.8 591.8V611.8M355.3 598.4H361.3M358.3 588.4V608.4M307 574V602M370.3 522.1H376.3M373.3 507.1V537.1M372.5 524.4H378.5M375.5 514.4V534.4M359.3 536.9H365.3M362.3 528.9V544.9M363.5 539.9H369.5M366.5 529.9V549.9M374.8 535.8H380.8M377.8 523.8V547.8M360.9 549.4H366.9M363.9 539.4V559.4M381.4 535.8H387.4M384.4 525.8V545.8M383.7 533.7H389.7M386.7 513.7V553.7M388.5 540.3H394.5M391.5 528.3V552.3M378.3 555.2H384.3M381.3 545.2V565.2M397.8 531.5H403.8M400.8 519.5V543.5M406.6 521.6H416.6M411.6 503.6V539.6M411.3 528.7H417.3M414.3 518.7V538.7M415.8 530.1H421.8M418.8 520.1V540.1M414 544.9H420M417 532.9V556.9M417.9 545.8H423.9M420.9 533.8V557.8M421.4 544.9H427.4M424.4 536.9V552.9M410.4 552H416.4M413.4 538V566M406.3 555.1H412.3M409.3 541.1V569.1M402.2 557.4H408.2M405.2 543.4V571.4M398.7 552.9H404.7M401.7 540.9V564.9M397.6 559.5H403.6M400.6 545.5V573.5M387.2 564.9H393.2M390.2 552.9V576.9M368.7 578.2H378.7M373.7 562.2V594.2M377.4 584.5H383.4M380.4 572.5V596.5M383.1 583.6H389.1M386.1 569.6V597.6M390.6 581.4H396.6M393.6 569.4V593.4M394.4 580.9H400.4M397.4 568.9V592.9M397.4 578.2H403.4M400.4 564.2V592.2M413.5 572H419.5M416.5 560V584M417.9 570.2H423.9M420.9 558.2V582.2M420.9 580H426.9M423.9 570V590M417.9 586.3H423.9M420.9 576.3V596.3M437.3 482.8H443.3M440.3 477.8V487.8M468.7 502.5H474.7M471.7 494.5V510.5M476.8 510.2H482.8M479.8 502.2V518.2M477.3 512.8H483.3M480.3 504.8V520.8M465.5 514.9H471.5M468.5 505.9V523.9M457.6 519.6H463.6M460.6 509.6V529.6M458.2 522H464.2M461.2 512V532M450.5 528.8H456.5M453.5 518.8V538.8M453.7 532H459.7M456.7 520V544M454 535.7H460M457 523.7V547.7M464.1 539.5H472.1M468.1 531.5V547.5M474.3 534.2H480.3M477.3 526.2V542.2M436 535.9H442M439 529.9V541.9M443.3 544.2H449.3M446.3 536.2V552.2M430.4 549.1H436.4M433.4 539.1V559.1M454.4 557.1H462.4M458.4 545.1V569.1M426.6 570.5H432.6M429.6 560.5V580.5M436.2 575.9H442.2M439.2 565.9V585.9M434.5 581.7H440.5M437.5 571.7V591.7M439.6 588.4H445.6M442.6 580.4V596.4M302.9 605.5H310.9M306.9 580.5V630.5M317.3 623.9H323.3M320.3 614.9V632.9M318.7 635.8H324.7M321.7 620.8V650.8M326.5 614.4H334.5M330.5 602.4V626.4M320.2 659.9H328.2M324.2 649.9V669.9M359.2 603.4H365.2M362.2 591.4V615.4M362.8 602.8H368.8M365.8 590.8V614.8M344 608.7H350M347 596.7V620.7M348.9 610.3H354.9M351.9 598.3V622.3M341 613H347M344 603V623M363.6 611.4H369.6M366.6 599.4V623.4M366.7 614.9H372.7M369.7 602.9V626.9M359.7 618.9H365.7M362.7 606.9V630.9M364.9 621.5H370.9M367.9 609.5V633.5M329.2 627.8H335.2M332.2 613.8V641.8M365.8 627.8H371.8M368.8 615.8V639.8M363.6 632.8H369.6M366.6 620.8V644.8M333.8 635.3H341.8M337.8 625.3V645.3M375.2 607.3H381.2M378.2 595.3V619.3M380.2 608.2H386.2M383.2 596.2V620.2M376.1 597.1H382.1M379.1 585.1V609.1M381.5 592.5H387.5M384.5 580.5V604.5M377.9 585H383.9M380.9 573V597M384.1 621.5H390.1M387.1 609.5V633.5M380.2 626.9H386.2M383.2 614.9V638.9M384.1 627.8H390.1M387.1 615.8V639.8M380.6 632.2H386.6M383.6 620.2V644.2M374.3 633.7H380.3M377.3 621.7V645.7M366.7 637.6H372.7M369.7 625.6V649.6M339.2 648.6H345.2M342.2 634.6V662.6M349.7 650.1H355.7M352.7 636.1V664.1M347.6 653.3H353.6M350.6 639.3V667.3M328 652.7H334M331 640.7V664.7M345.8 660.8H351.8M348.8 646.8V674.8M368.6 651H374.6M371.6 639V663M374.7 647.4H380.7M377.7 635.4V659.4M375.2 649.2H381.2M378.2 637.2V661.2M382 648.8H388M385 636.8V660.8M363.6 658.6H369.6M366.6 628.6V688.6M384.1 664.7H390.1M387.1 652.7V676.7M341 668.2H347M344 654.2V682.2M379.7 672.3H385.7M382.7 660.3V684.3M365.4 673.6H371.4M368.4 659.6V687.6M353.8 676.4H359.8M356.8 662.4V690.4M333.2 682.7H341.2M337.2 670.7V694.7M352.8 682.7H360.8M356.8 668.7V696.7M386.3 682.3H392.3M389.3 672.3V692.3M393.6 621.2H399.6M396.6 613.2V629.2M425.3 597.1H431.3M428.3 585.1V609.1M428.9 597.1H434.9M431.9 585.1V609.1M428 602.8H434M431 590.8V614.8M389.1 597.1H395.1M392.1 585.1V609.1M399.5 597.1H405.5M402.5 587.1V607.1M397.2 607.3H403.2M400.2 595.3V619.3M399.8 606.7H405.8M402.8 594.7V618.7M397.2 611.4H403.2M400.2 599.4V623.4M390.9 608.2H396.9M393.9 596.2V620.2M406.1 619.8H412.1M409.1 607.8V631.8M403.4 622.4H409.4M406.4 610.4V634.4M402.9 627.2H408.9M405.9 615.2V639.2M386.5 625.6H392.5M389.5 613.6V637.6M390.9 628.7H396.9M393.9 616.7V640.7M408.4 629.9H414.4M411.4 619.9V639.9M398.9 631.7H404.9M401.9 619.7V643.7M394.8 634.4H400.8M397.8 622.4V646.4M399.3 636.2H405.3M402.3 624.2V648.2M406.1 633.5H412.1M409.1 621.5V645.5M392.3 638.1H398.3M395.3 626.1V650.1M398.9 640.3H404.9M401.9 628.3V652.3M397.2 644.7H403.2M400.2 632.7V656.7M389.7 646.1H395.7M392.7 634.1V658.1M388.2 650.1H394.2M391.2 638.1V662.1M427.1 627.2H433.1M430.1 605.2V649.2M429 638.5H439M434 625.5V651.5M415.9 645.1H421.9M418.9 633.1V657.1M412.8 646.9H418.8M415.8 634.9V658.9M407.8 649.2H413.8M410.8 637.2V661.2M407 654.9H413M410 640.9V668.9M411.7 659.5H421.7M416.7 645.5V673.5M411.9 662.5H417.9M414.9 648.5V676.5M415.5 666.6H421.5M418.5 652.6V680.6M398.4 664.7H404.4M401.4 652.7V676.7M398.9 662H404.9M401.9 650V674M403.7 671.1H409.7M406.7 657.1V685.1M394.1 678.9H400.1M397.1 664.9V692.9M390 668.8H396M393 656.8V680.8M341.4 686.2H349.4M345.4 676.2V696.2M334.4 683H340.4M337.4 673V693M353.9 677H359.9M356.9 667V687M365.6 675H371.6M368.6 665V685M365.1 689.5H371.1M368.1 675.5V703.5M343.2 695H349.2M346.2 685V705M338.9 699.5H344.9M341.9 687.5V711.5M394.3 679.2H400.3M397.3 669.2V689.2M380.8 710.7H386.8M383.8 702.7V718.7M304 715.4H310M307 708.4V722.4M289 746.6H295M292 740.6V752.6M338.2 749.1H344.2M341.2 738.1V760.1M351.1 744.1H357.1M354.1 729.1V759.1M383.1 746.6H389.1M386.1 733.6V759.6M390.1 756.9H396.1M393.1 729.9V783.9M202.4 617.3H216.4M209.4 600.3V634.3M247.4 619.4H273.4M260.4 594.4V644.4M282.4 606.9H288.4M285.4 601.9V611.9M282.4 614.3H288.4M285.4 604.3V624.3M268.7 633.3H276.7M272.7 625.3V641.3M282.9 642.1H288.9M285.9 630.1V654.1M235.4 632.4H241.4M238.4 618.4V646.4M224.7 637.5H250.7M237.7 627.5V647.5M218.5 645.6H230.5M224.5 622.6V668.6M233.8 649.8H249.8M241.8 639.8V659.8M238.8 652.6H244.8M241.8 642.6V662.6M248.1 649.8H254.1M251.1 639.8V659.8M203.6 654.9H217.6M210.6 645.9V663.9M181.4 664.6H193.4M187.4 651.6V677.6M160.3 665.7H176.3M168.3 655.7V675.7M202.3 685.5H224.3M213.3 660.5V710.5M212.9 682.7H218.9M215.9 674.7V690.7M187.3 692H207.3M197.3 672V712M238.1 682H244.1M241.1 670V694M244.2 686.2H250.2M247.2 677.2V695.2M259.5 704.7H277.5M268.5 684.7V724.7M284 700.1H290M287 690.1V710.1M232.8 717H250.8M241.8 617V749M182.1 759H188.1M185.1 734V784M200.1 759H206.1M203.1 655V764M271.3 759H277.3M274.3 751V767M52.5 667.4H139.5M97.5 647.4V687.4M49.6 743.3H129.6M74.6 720.3V759.3M66.3 759H72.3M69.3 749V769M157.2 759H163.2M160.2 734V784M163.6 759H169.6M166.6 731V787M134.2 630H154.2M144.2 623V637M45 678H72.5" stroke="#a9a9a9" stroke-width="1" fill="none"/>
<g fill="#ff00ff"><circle cx="335.3" cy="588.6" r="4"/><circle cx="306.9" cy="605.5" r="4"/><circle cx="320.3" cy="623.9" r="4"/><circle cx="321.7" cy="635.8" r="4"/><circle cx="307" cy="715.4" r="4"/><circle cx="292" cy="746.6" r="4"/></g>
<g fill="#0000ff"><circle cx="177.1" cy="500.5" r="4"/><circle cx="160" cy="545.3" r="4"/><circle cx="78.7" cy="553.3" r="4"/><circle cx="226" cy="567" r="4"/><circle cx="276.7" cy="545.9" r="4"/><circle cx="252.2" cy="589" r="4"/><circle cx="209.4" cy="617.3" r="4"/><circle cx="285.4" cy="614.3" r="4"/><circle cx="285.9" cy="642.1" r="4"/><circle cx="241.8" cy="649.8" r="4"/><circle cx="241.8" cy="652.6" r="4"/><circle cx="251.1" cy="649.8" r="4"/><circle cx="187.4" cy="664.6" r="4"/><circle cx="213.3" cy="685.5" r="4"/><circle cx="241.1" cy="682" r="4"/><circle cx="247.2" cy="686.2" r="4"/><circle cx="287" cy="700.1" r="4"/><circle cx="241.8" cy="717" r="4"/><circle cx="185.1" cy="759" r="4"/><circle cx="74.6" cy="743.3" r="4"/><circle cx="69.3" cy="759" r="4"/><circle cx="166.6" cy="759" r="4"/></g>
<g fill="#000"><circle cx="297.3" cy="557.3" r="2.3"/><circle cx="332.1" cy="522.2" r="2.3"/><circle cx="355.7" cy="521.6" r="2.3"/><circle cx="354.9" cy="541.8" r="2.3"/><circle cx="315" cy="577.8" r="2.3"/><circle cx="315" cy="583.3" r="2.3"/><circle cx="307" cy="588" r="2.3"/><circle cx="384.4" cy="535.8" r="2.3"/><circle cx="386.7" cy="533.7" r="2.3"/><circle cx="391.5" cy="540.3" r="2.3"/><circle cx="381.3" cy="555.2" r="2.3"/><circle cx="400.8" cy="531.5" r="2.3"/><circle cx="411.6" cy="521.6" r="2.3"/><circle cx="414.3" cy="528.7" r="2.3"/><circle cx="420.9" cy="545.8" r="2.3"/><circle cx="413.4" cy="552" r="2.3"/><circle cx="409.3" cy="555.1" r="2.3"/><circle cx="405.2" cy="557.4" r="2.3"/><circle cx="401.7" cy="552.9" r="2.3"/><circle cx="400.6" cy="559.5" r="2.3"/><circle cx="390.2" cy="564.9" r="2.3"/><circle cx="373.7" cy="578.2" r="2.3"/><circle cx="386.1" cy="583.6" r="2.3"/><circle cx="397.4" cy="580.9" r="2.3"/><circle cx="400.4" cy="578.2" r="2.3"/><circle cx="416.5" cy="572" r="2.3"/><circle cx="420.9" cy="570.2" r="2.3"/><circle cx="423.9" cy="580" r="2.3"/><circle cx="420.9" cy="586.3" r="2.3"/><circle cx="471.7" cy="502.5" r="2.3"/><circle cx="479.8" cy="510.2" r="2.3"/><circle cx="468.5" cy="514.9" r="2.3"/><circle cx="460.6" cy="519.6" r="2.3"/><circle cx="461.2" cy="522" r="2.3"/><circle cx="453.5" cy="528.8" r="2.3"/><circle cx="456.7" cy="532" r="2.3"/><circle cx="457" cy="535.7" r="2.3"/><circle cx="468.1" cy="539.5" r="2.3"/><circle cx="477.3" cy="534.2" r="2.3"/><circle cx="446.3" cy="544.2" r="2.3"/><circle cx="433.4" cy="549.1" r="2.3"/><circle cx="458.4" cy="557.1" r="2.3"/><circle cx="429.6" cy="570.5" r="2.3"/><circle cx="439.2" cy="575.9" r="2.3"/><circle cx="437.5" cy="581.7" r="2.3"/><circle cx="442.6" cy="588.4" r="2.3"/><circle cx="347" cy="608.7" r="2.3"/><circle cx="351.9" cy="610.3" r="2.3"/><circle cx="368.8" cy="627.8" r="2.3"/><circle cx="337.8" cy="635.3" r="2.3"/><circle cx="383.2" cy="608.2" r="2.3"/><circle cx="379.1" cy="597.1" r="2.3"/><circle cx="384.5" cy="592.5" r="2.3"/><circle cx="387.1" cy="621.5" r="2.3"/><circle cx="383.2" cy="626.9" r="2.3"/><circle cx="387.1" cy="627.8" r="2.3"/><circle cx="369.7" cy="637.6" r="2.3"/><circle cx="377.7" cy="647.4" r="2.3"/><circle cx="385" cy="648.8" r="2.3"/><circle cx="366.6" cy="658.6" r="2.3"/><circle cx="344" cy="668.2" r="2.3"/><circle cx="382.7" cy="672.3" r="2.3"/><circle cx="356.8" cy="682.7" r="2.3"/><circle cx="389.3" cy="682.3" r="2.3"/><circle cx="431.9" cy="597.1" r="2.3"/><circle cx="431" cy="602.8" r="2.3"/><circle cx="392.1" cy="597.1" r="2.3"/><circle cx="400.2" cy="607.3" r="2.3"/><circle cx="402.8" cy="606.7" r="2.3"/><circle cx="400.2" cy="611.4" r="2.3"/><circle cx="409.1" cy="619.8" r="2.3"/><circle cx="406.4" cy="622.4" r="2.3"/><circle cx="405.9" cy="627.2" r="2.3"/><circle cx="389.5" cy="625.6" r="2.3"/><circle cx="393.9" cy="628.7" r="2.3"/><circle cx="401.9" cy="631.7" r="2.3"/><circle cx="397.8" cy="634.4" r="2.3"/><circle cx="402.3" cy="636.2" r="2.3"/><circle cx="409.1" cy="633.5" r="2.3"/><circle cx="400.2" cy="644.7" r="2.3"/><circle cx="392.7" cy="646.1" r="2.3"/><circle cx="391.2" cy="650.1" r="2.3"/><circle cx="430.1" cy="627.2" r="2.3"/><circle cx="434" cy="638.5" r="2.3"/><circle cx="418.9" cy="645.1" r="2.3"/><circle cx="415.8" cy="646.9" r="2.3"/><circle cx="410.8" cy="649.2" r="2.3"/><circle cx="410" cy="654.9" r="2.3"/><circle cx="416.7" cy="659.5" r="2.3"/><circle cx="414.9" cy="662.5" r="2.3"/><circle cx="418.5" cy="666.6" r="2.3"/><circle cx="401.9" cy="662" r="2.3"/><circle cx="406.7" cy="671.1" r="2.3"/><circle cx="397.1" cy="678.9" r="2.3"/><circle cx="393" cy="668.8" r="2.3"/><circle cx="397.3" cy="679.2" r="2.3"/><circle cx="383.8" cy="710.7" r="2.3"/><circle cx="386.1" cy="746.6" r="2.3"/><circle cx="393.1" cy="756.9" r="2.3"/><circle cx="285.4" cy="606.9" r="2.3"/><circle cx="168.3" cy="665.7" r="2.3"/><circle cx="203.1" cy="759" r="2.3"/><circle cx="144.2" cy="630" r="2.3"/><circle cx="45" cy="678" r="2.3"/></g>
<g fill="#8b0000"><circle cx="219.1" cy="569" r="2.15"/><circle cx="255.3" cy="547.3" r="2.15"/><circle cx="354" cy="590.7" r="2.15"/><circle cx="329" cy="599.4" r="2.15"/><circle cx="358.3" cy="598.4" r="2.15"/><circle cx="373.3" cy="522.1" r="2.15"/><circle cx="375.5" cy="524.4" r="2.15"/><circle cx="362.3" cy="536.9" r="2.15"/><circle cx="366.5" cy="539.9" r="2.15"/><circle cx="377.8" cy="535.8" r="2.15"/><circle cx="363.9" cy="549.4" r="2.15"/><circle cx="418.8" cy="530.1" r="2.15"/><circle cx="417" cy="544.9" r="2.15"/><circle cx="380.4" cy="584.5" r="2.15"/><circle cx="393.6" cy="581.4" r="2.15"/><circle cx="480.3" cy="512.8" r="2.15"/><circle cx="439" cy="535.9" r="2.15"/><circle cx="362.2" cy="603.4" r="2.15"/><circle cx="365.8" cy="602.8" r="2.15"/><circle cx="344" cy="613" r="2.15"/><circle cx="366.6" cy="611.4" r="2.15"/><circle cx="369.7" cy="614.9" r="2.15"/><circle cx="362.7" cy="618.9" r="2.15"/><circle cx="367.9" cy="621.5" r="2.15"/><circle cx="332.2" cy="627.8" r="2.15"/><circle cx="366.6" cy="632.8" r="2.15"/><circle cx="378.2" cy="607.3" r="2.15"/><circle cx="380.9" cy="585" r="2.15"/><circle cx="383.6" cy="632.2" r="2.15"/><circle cx="377.3" cy="633.7" r="2.15"/><circle cx="342.2" cy="648.6" r="2.15"/><circle cx="352.7" cy="650.1" r="2.15"/><circle cx="350.6" cy="653.3" r="2.15"/><circle cx="331" cy="652.7" r="2.15"/><circle cx="348.8" cy="660.8" r="2.15"/><circle cx="371.6" cy="651" r="2.15"/><circle cx="378.2" cy="649.2" r="2.15"/><circle cx="387.1" cy="664.7" r="2.15"/><circle cx="368.4" cy="673.6" r="2.15"/><circle cx="356.8" cy="676.4" r="2.15"/><circle cx="337.2" cy="682.7" r="2.15"/><circle cx="428.3" cy="597.1" r="2.15"/><circle cx="402.5" cy="597.1" r="2.15"/><circle cx="393.9" cy="608.2" r="2.15"/><circle cx="411.4" cy="629.9" r="2.15"/><circle cx="395.3" cy="638.1" r="2.15"/><circle cx="401.9" cy="640.3" r="2.15"/><circle cx="401.4" cy="664.7" r="2.15"/><circle cx="337.4" cy="683" r="2.15"/><circle cx="356.9" cy="677" r="2.15"/><circle cx="368.6" cy="675" r="2.15"/><circle cx="368.1" cy="689.5" r="2.15"/><circle cx="346.2" cy="695" r="2.15"/><circle cx="341.9" cy="699.5" r="2.15"/><circle cx="341.2" cy="749.1" r="2.15"/><circle cx="354.1" cy="744.1" r="2.15"/><circle cx="260.4" cy="619.4" r="2.15"/><circle cx="238.4" cy="632.4" r="2.15"/><circle cx="237.7" cy="637.5" r="2.15"/><circle cx="210.6" cy="654.9" r="2.15"/><circle cx="215.9" cy="682.7" r="2.15"/><circle cx="268.5" cy="704.7" r="2.15"/><circle cx="274.3" cy="759" r="2.15"/></g>
<g fill="#32cd32"><path d="M162 563.8L173.4 563.8L167.7 574.8Z"/><path d="M259.6 565.2L271 565.2L265.3 576.2Z"/><path d="M337.1 596.3L348.5 596.3L342.8 607.3Z"/><path d="M324.8 608.9L336.2 608.9L330.5 619.9Z"/><path d="M318.5 654.4L329.9 654.4L324.2 665.4Z"/><path d="M339.7 680.7L351.1 680.7L345.4 691.7Z"/><path d="M267 627.8L278.4 627.8L272.7 638.8Z"/><path d="M218.8 640.1L230.2 640.1L224.5 651.1Z"/><path d="M191.6 686.5L203 686.5L197.3 697.5Z"/><path d="M91.8 661.9L103.2 661.9L97.5 672.9Z"/><path d="M154.5 753.5L165.9 753.5L160.2 764.5Z"/></g>
<g fill="#ff0000"><path d="M418.7 539.4L430.1 539.4L424.4 550.4Z"/><path d="M434.6 477.3L446 477.3L440.3 488.3Z"/><path d="M390.9 615.7L402.3 615.7L396.6 626.7Z"/></g>
<g fill="none" stroke="#808080" stroke-linejoin="round" stroke-linecap="butt">
<path d="M425.5 417L393 448L365 474.5L313 526L260 573L237.2 594.9L205 622.7L161.2 663.1L111 678.1L96 689.6L74.6 709.5L68.2 725.6L63.9 744.8L65 758.7" stroke-width="1.6"/>
<path d="M396.5 599L393.5 590L392.6 580.8L391 563.9L384.2 548.6L376 543L369.3 541.4L354 542.7L330.4 555L306.7 561.4L264.3 594.9L240 612.2L178.7 664.7L142 684.3L121.7 680.2L98.1 688.8L84.2 692.4L74.6 709.5L76.1 725.6L76.7 742.7L82.1 753.4L86.4 758.7" stroke-width="1.6"/>
<path d="M353.9 654.1L367.8 633.8L368.9 624.2L366.7 609.2L366.1 594.2L361.4 587.8L352.8 582.5L343.5 580.5L335.5 580.3L315 584.4L298 595L240 634L185.5 663L142 685.3L93.9 700.3L85.3 720.2L82.5 740.5L83.2 758.7" stroke-width="1.6"/>
<path d="M446.6 416.1L449 423.6L449 444L447.6 471.3L446 482.8L441.3 502.1L436 521.3L430.6 538.4L426.4 551.3L417.8 564.1L404 587L390 608" stroke-width="1.6"/>
<path d="M353.9 654.1L367.8 638L382.8 617.8L397.8 597.4L411.4 577L422 555L432.8 542.7L440.3 535.2L447.7 530.9L454.2 525.6L462.7 511.7L471.3 498.9L475.6 492.5L478.3 491L479.8 495.7L478.8 508.5L475.6 525.6L471.3 540.6L468.1 550.2" stroke-width="1.6"/>
<path d="M360 646L380 621L400 594L417.8 579.1L428.5 566.3L437.1 554.5L445.6 544.9L449.9 543.8L452 549.1L451 562L448.8 574.8L446 583.4" stroke-width="1.6"/>
<path d="M370 633L395 601L413.5 583.4L422.1 574.8L430.6 568.4L436 567.3L438.1 572.7L438.1 581.2L436 589.8" stroke-width="1.6"/>
<path d="M476.6 471L469 480L462.7 490.3L452 508.5L441.3 527.8L430.6 544.9L417.8 564.1L410.6 578L397.8 597.4L382.8 617.8L367.8 638L353.9 654.1" stroke-width="3.0"/>
<path d="M502.3 480.7L492.7 502.1L484.1 522.4L475.6 540.6L464.9 559.8L454.2 577L447 590L434.1 608.1L419.1 630.6L404.2 652L391.3 669L381.7 678.7" stroke-width="3.0"/>
<path d="M189.6 621.5L230 631L280 642.4L310 651L330 658L350.3 667.1L370.6 679L387.6 690.9L402.8 706.1L411.3 714.9L418.5 728" stroke-width="3.0"/>
</g>
</g>
<g fill="#008000" font-size="15.3">
<text transform="translate(476.6 472) rotate(-59)">TAEHB</text>
<text transform="translate(504 488.5) rotate(-70)">ZAEHB</text>
<text transform="translate(387 690) rotate(46.5)">ZAHeMS</text>
</g>
<rect x="61.2" y="422.6" width="79.49999999999999" height="108.6" rx="2.8" fill="#fff" fill-opacity="0.8" stroke="#d2d2d2" stroke-width="1.4"/>
<path d="M71.6 432h12.4M77.8 425.8v12.4" stroke="#a9a9a9" stroke-width="1" fill="none"/>
<g fill="#000"><circle cx="77.8" cy="432" r="2.3"/></g>
<text x="100.4" y="436.2" font-size="11.6">pHe</text>
<path d="M71.6 449.8h12.4M77.8 443.6v12.4" stroke="#a9a9a9" stroke-width="1" fill="none"/>
<g fill="#8b0000"><circle cx="77.8" cy="449.8" r="2.15"/></g>
<text x="100.4" y="454" font-size="11.6">wHe</text>
<path d="M71.6 467.7h12.4M77.8 461.5v12.4" stroke="#a9a9a9" stroke-width="1" fill="none"/>
<g fill="#32cd32"><path d="M72.1 462.2L83.5 462.2L77.8 473.2Z"/></g>
<text x="100.4" y="471.9" font-size="11.6">iHe-1</text>
<path d="M71.6 485.5h12.4M77.8 479.3v12.4" stroke="#a9a9a9" stroke-width="1" fill="none"/>
<g fill="#ff0000"><path d="M72.1 480L83.5 480L77.8 491Z"/></g>
<text x="100.4" y="489.7" font-size="11.6">iHe-2</text>
<path d="M71.6 503.4h12.4M77.8 497.2v12.4" stroke="#a9a9a9" stroke-width="1" fill="none"/>
<g fill="#0000ff"><circle cx="77.8" cy="503.4" r="4"/></g>
<text x="100.4" y="507.6" font-size="11.6">eHe-1</text>
<path d="M71.6 521.2h12.4M77.8 515v12.4" stroke="#a9a9a9" stroke-width="1" fill="none"/>
<g fill="#ff00ff"><circle cx="77.8" cy="521.2" r="4"/></g>
<text x="100.4" y="525.4" font-size="11.6">eHe-2</text>
<text x="155.6" y="447.3" font-size="16.45" fill="#bf00bf">New hot subdwarfs</text>
<rect x="55.3" y="416.8" width="504.90000000000003" height="341.59999999999997" fill="none" stroke="#000" stroke-width="1.35"/>
<path d="M546 758.4v-5.6M546 416.8v5.6M510.4 758.4v-5.6M510.4 416.8v5.6M474.9 758.4v-5.6M474.9 416.8v5.6M439.3 758.4v-5.6M439.3 416.8v5.6M403.8 758.4v-5.6M403.8 416.8v5.6M368.2 758.4v-5.6M368.2 416.8v5.6M332.6 758.4v-5.6M332.6 416.8v5.6M297.1 758.4v-5.6M297.1 416.8v5.6M261.5 758.4v-5.6M261.5 416.8v5.6M226 758.4v-5.6M226 416.8v5.6M190.4 758.4v-5.6M190.4 416.8v5.6M154.9 758.4v-5.6M154.9 416.8v5.6M119.3 758.4v-5.6M119.3 416.8v5.6M83.7 758.4v-5.6M83.7 416.8v5.6M55.3 416.8h5.6M560.2 416.8h-5.6M55.3 447.9h5.6M560.2 447.9h-5.6M55.3 478.9h5.6M560.2 478.9h-5.6M55.3 510h5.6M560.2 510h-5.6M55.3 541h5.6M560.2 541h-5.6M55.3 572.1h5.6M560.2 572.1h-5.6M55.3 603.1h5.6M560.2 603.1h-5.6M55.3 634.2h5.6M560.2 634.2h-5.6M55.3 665.2h5.6M560.2 665.2h-5.6M55.3 696.3h5.6M560.2 696.3h-5.6M55.3 727.3h5.6M560.2 727.3h-5.6M55.3 758.4h5.6M560.2 758.4h-5.6" stroke="#000" stroke-width="1.1" fill="none"/>
<path d="M553.1 758.4v-3.1M553.1 416.8v3.1M538.9 758.4v-3.1M538.9 416.8v3.1M531.8 758.4v-3.1M531.8 416.8v3.1M524.6 758.4v-3.1M524.6 416.8v3.1M517.5 758.4v-3.1M517.5 416.8v3.1M503.3 758.4v-3.1M503.3 416.8v3.1M496.2 758.4v-3.1M496.2 416.8v3.1M489.1 758.4v-3.1M489.1 416.8v3.1M482 758.4v-3.1M482 416.8v3.1M467.8 758.4v-3.1M467.8 416.8v3.1M460.6 758.4v-3.1M460.6 416.8v3.1M453.5 758.4v-3.1M453.5 416.8v3.1M446.4 758.4v-3.1M446.4 416.8v3.1M432.2 758.4v-3.1M432.2 416.8v3.1M425.1 758.4v-3.1M425.1 416.8v3.1M418 758.4v-3.1M418 416.8v3.1M410.9 758.4v-3.1M410.9 416.8v3.1M396.6 758.4v-3.1M396.6 416.8v3.1M389.5 758.4v-3.1M389.5 416.8v3.1M382.4 758.4v-3.1M382.4 416.8v3.1M375.3 758.4v-3.1M375.3 416.8v3.1M361.1 758.4v-3.1M361.1 416.8v3.1M354 758.4v-3.1M354 416.8v3.1M346.9 758.4v-3.1M346.9 416.8v3.1M339.8 758.4v-3.1M339.8 416.8v3.1M325.5 758.4v-3.1M325.5 416.8v3.1M318.4 758.4v-3.1M318.4 416.8v3.1M311.3 758.4v-3.1M311.3 416.8v3.1M304.2 758.4v-3.1M304.2 416.8v3.1M290 758.4v-3.1M290 416.8v3.1M282.9 758.4v-3.1M282.9 416.8v3.1M275.7 758.4v-3.1M275.7 416.8v3.1M268.6 758.4v-3.1M268.6 416.8v3.1M254.4 758.4v-3.1M254.4 416.8v3.1M247.3 758.4v-3.1M247.3 416.8v3.1M240.2 758.4v-3.1M240.2 416.8v3.1M233.1 758.4v-3.1M233.1 416.8v3.1M218.9 758.4v-3.1M218.9 416.8v3.1M211.7 758.4v-3.1M211.7 416.8v3.1M204.6 758.4v-3.1M204.6 416.8v3.1M197.5 758.4v-3.1M197.5 416.8v3.1M183.3 758.4v-3.1M183.3 416.8v3.1M176.2 758.4v-3.1M176.2 416.8v3.1M169.1 758.4v-3.1M169.1 416.8v3.1M162 758.4v-3.1M162 416.8v3.1M147.7 758.4v-3.1M147.7 416.8v3.1M140.6 758.4v-3.1M140.6 416.8v3.1M133.5 758.4v-3.1M133.5 416.8v3.1M126.4 758.4v-3.1M126.4 416.8v3.1M112.2 758.4v-3.1M112.2 416.8v3.1M105.1 758.4v-3.1M105.1 416.8v3.1M98 758.4v-3.1M98 416.8v3.1M90.9 758.4v-3.1M90.9 416.8v3.1M76.6 758.4v-3.1M76.6 416.8v3.1M69.5 758.4v-3.1M69.5 416.8v3.1M62.4 758.4v-3.1M62.4 416.8v3.1M55.3 423h3.1M560.2 423h-3.1M55.3 429.2h3.1M560.2 429.2h-3.1M55.3 435.4h3.1M560.2 435.4h-3.1M55.3 441.6h3.1M560.2 441.6h-3.1M55.3 454.1h3.1M560.2 454.1h-3.1M55.3 460.3h3.1M560.2 460.3h-3.1M55.3 466.5h3.1M560.2 466.5h-3.1M55.3 472.7h3.1M560.2 472.7h-3.1M55.3 485.1h3.1M560.2 485.1h-3.1M55.3 491.3h3.1M560.2 491.3h-3.1M55.3 497.5h3.1M560.2 497.5h-3.1M55.3 503.8h3.1M560.2 503.8h-3.1M55.3 516.2h3.1M560.2 516.2h-3.1M55.3 522.4h3.1M560.2 522.4h-3.1M55.3 528.6h3.1M560.2 528.6h-3.1M55.3 534.8h3.1M560.2 534.8h-3.1M55.3 547.2h3.1M560.2 547.2h-3.1M55.3 553.4h3.1M560.2 553.4h-3.1M55.3 559.7h3.1M560.2 559.7h-3.1M55.3 565.9h3.1M560.2 565.9h-3.1M55.3 578.3h3.1M560.2 578.3h-3.1M55.3 584.5h3.1M560.2 584.5h-3.1M55.3 590.7h3.1M560.2 590.7h-3.1M55.3 596.9h3.1M560.2 596.9h-3.1M55.3 609.3h3.1M560.2 609.3h-3.1M55.3 615.5h3.1M560.2 615.5h-3.1M55.3 621.8h3.1M560.2 621.8h-3.1M55.3 628h3.1M560.2 628h-3.1M55.3 640.4h3.1M560.2 640.4h-3.1M55.3 646.6h3.1M560.2 646.6h-3.1M55.3 652.8h3.1M560.2 652.8h-3.1M55.3 659h3.1M560.2 659h-3.1M55.3 671.4h3.1M560.2 671.4h-3.1M55.3 677.7h3.1M560.2 677.7h-3.1M55.3 683.9h3.1M560.2 683.9h-3.1M55.3 690.1h3.1M560.2 690.1h-3.1M55.3 702.5h3.1M560.2 702.5h-3.1M55.3 708.7h3.1M560.2 708.7h-3.1M55.3 714.9h3.1M560.2 714.9h-3.1M55.3 721.1h3.1M560.2 721.1h-3.1M55.3 733.6h3.1M560.2 733.6h-3.1M55.3 739.8h3.1M560.2 739.8h-3.1M55.3 746h3.1M560.2 746h-3.1M55.3 752.2h3.1M560.2 752.2h-3.1" stroke="#000" stroke-width="0.9" fill="none"/>
<g font-size="14.2" fill="#000">
<text x="49.3" y="422" text-anchor="end">4.4</text>
<text x="49.3" y="453.1" text-anchor="end">4.6</text>
<text x="49.3" y="484.1" text-anchor="end">4.8</text>
<text x="49.3" y="515.2" text-anchor="end">5.0</text>
<text x="49.3" y="546.2" text-anchor="end">5.2</text>
<text x="49.3" y="577.3" text-anchor="end">5.4</text>
<text x="49.3" y="608.3" text-anchor="end">5.6</text>
<text x="49.3" y="639.4" text-anchor="end">5.8</text>
<text x="49.3" y="670.4" text-anchor="end">6.0</text>
<text x="49.3" y="701.5" text-anchor="end">6.2</text>
<text x="49.3" y="732.5" text-anchor="end">6.4</text>
<text x="49.3" y="763.6" text-anchor="end">6.6</text>
<text x="83.7" y="775.6" text-anchor="middle">75</text>
<text x="119.3" y="775.6" text-anchor="middle">70</text>
<text x="154.9" y="775.6" text-anchor="middle">65</text>
<text x="190.4" y="775.6" text-anchor="middle">60</text>
<text x="226" y="775.6" text-anchor="middle">55</text>
<text x="261.5" y="775.6" text-anchor="middle">50</text>
<text x="297.1" y="775.6" text-anchor="middle">45</text>
<text x="332.6" y="775.6" text-anchor="middle">40</text>
<text x="368.2" y="775.6" text-anchor="middle">35</text>
<text x="403.8" y="775.6" text-anchor="middle">30</text>
<text x="439.3" y="775.6" text-anchor="middle">25</text>
<text x="474.9" y="775.6" text-anchor="middle">20</text>
<text x="510.4" y="775.6" text-anchor="middle">15</text>
<text x="546" y="775.6" text-anchor="middle">10</text>
</g>
<text transform="translate(14 587.6) rotate(-90)" font-size="15" text-anchor="middle">logg<tspan dx="2.6">(cm</tspan><tspan dx="2.5">s</tspan><tspan font-size="10.5" dy="-5.5">−2</tspan><tspan dy="5.5">)</tspan></text>
<text x="265" y="796.4" font-size="15">T<tspan font-size="10.5" dy="2.2">eff</tspan><tspan dy="-2.2" dx="3.5">(1000K)</tspan></text>
</svg>
</body></html>
